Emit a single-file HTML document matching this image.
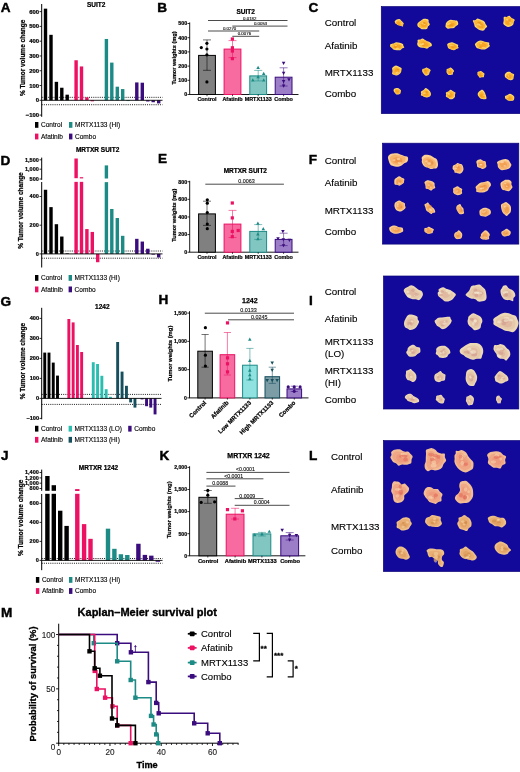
<!DOCTYPE html>
<html lang="en">
<head>
<meta charset="utf-8">
<title>Figure</title>
<style>
html,body{margin:0;padding:0;background:#fff}
body{width:520px;height:772px;overflow:hidden}
svg{display:block;filter:blur(0.3px)}
svg text{font-family:"Liberation Sans",Arial,Helvetica,sans-serif}
</style>
</head>
<body>
<svg width="520" height="772" viewBox="0 0 520 772">
<defs>
<filter id="soft" x="-5%" y="-5%" width="110%" height="110%"><feGaussianBlur stdDeviation="0.45"/></filter>
</defs>
<rect width="520" height="772" fill="#fff"/>
<text x="0.8" y="12.2" font-size="13.6" font-weight="700" stroke="#000" stroke-width="0.43">A</text>
<text x="96.2" y="7" font-size="6.5" text-anchor="middle" font-weight="700" stroke="#000" stroke-width="0.23">SUIT2</text>
<text x="24.8" y="57.9" font-size="6.5" text-anchor="middle" font-weight="700" stroke="#000" stroke-width="0.23" transform="rotate(-90 24.8 57.9)">% Tumor volume change</text>
<line x1="41.7" y1="4" x2="41.7" y2="116.8" stroke="#000" stroke-width="1"/>
<line x1="39.5" y1="11.62" x2="41.7" y2="11.62" stroke="#000" stroke-width="0.8"/>
<text x="39" y="13.67" font-size="5.9" text-anchor="end" font-weight="700" stroke="#000" stroke-width="0.22">600</text>
<line x1="39.5" y1="26.4" x2="41.7" y2="26.4" stroke="#000" stroke-width="0.8"/>
<text x="39" y="28.45" font-size="5.9" text-anchor="end" font-weight="700" stroke="#000" stroke-width="0.22">500</text>
<line x1="39.5" y1="41.18" x2="41.7" y2="41.18" stroke="#000" stroke-width="0.8"/>
<text x="39" y="43.23" font-size="5.9" text-anchor="end" font-weight="700" stroke="#000" stroke-width="0.22">400</text>
<line x1="39.5" y1="55.96" x2="41.7" y2="55.96" stroke="#000" stroke-width="0.8"/>
<text x="39" y="58.01" font-size="5.9" text-anchor="end" font-weight="700" stroke="#000" stroke-width="0.22">300</text>
<line x1="39.5" y1="70.74" x2="41.7" y2="70.74" stroke="#000" stroke-width="0.8"/>
<text x="39" y="72.79" font-size="5.9" text-anchor="end" font-weight="700" stroke="#000" stroke-width="0.22">200</text>
<line x1="39.5" y1="85.52" x2="41.7" y2="85.52" stroke="#000" stroke-width="0.8"/>
<text x="39" y="87.57" font-size="5.9" text-anchor="end" font-weight="700" stroke="#000" stroke-width="0.22">100</text>
<line x1="39.5" y1="100.3" x2="41.7" y2="100.3" stroke="#000" stroke-width="0.8"/>
<text x="39" y="102.35" font-size="5.9" text-anchor="end" font-weight="700" stroke="#000" stroke-width="0.22">0</text>
<line x1="39.5" y1="115.08" x2="41.7" y2="115.08" stroke="#000" stroke-width="0.8"/>
<text x="39" y="117.13" font-size="5.9" text-anchor="end" font-weight="700" stroke="#000" stroke-width="0.22">−100</text>
<line x1="41.7" y1="97.34" x2="162.5" y2="97.34" stroke="#000" stroke-width="0.9" stroke-dasharray="1 1.15"/>
<line x1="41.7" y1="104.73" x2="162.5" y2="104.73" stroke="#000" stroke-width="0.9" stroke-dasharray="1 1.15"/>
<rect x="43.8" y="8.66" width="3.4" height="91.64" fill="#000"/>
<rect x="49.3" y="34.82" width="3.4" height="65.48" fill="#000"/>
<rect x="54.7" y="81.83" width="3.4" height="18.47" fill="#000"/>
<rect x="60.1" y="87.74" width="3.4" height="12.56" fill="#000"/>
<rect x="65.5" y="94.68" width="3.4" height="5.62" fill="#000"/>
<rect x="74.4" y="60.25" width="3.4" height="40.05" fill="#ec1163"/>
<rect x="79.8" y="66.45" width="3.4" height="33.85" fill="#ec1163"/>
<rect x="85.2" y="97.34" width="3.4" height="2.96" fill="#ec1163"/>
<rect x="90.6" y="100.3" width="3.4" height="1.03" fill="#ec1163"/>
<rect x="104.7" y="38.96" width="3.4" height="61.34" fill="#1c8a85"/>
<rect x="110.1" y="62.61" width="3.4" height="37.69" fill="#1c8a85"/>
<rect x="115.6" y="86.7" width="3.4" height="13.6" fill="#1c8a85"/>
<rect x="121" y="89.07" width="3.4" height="11.23" fill="#1c8a85"/>
<rect x="126.4" y="100.3" width="3.4" height="0.74" fill="#1c8a85"/>
<rect x="135.1" y="82.42" width="3.4" height="17.88" fill="#3a0c7d"/>
<rect x="140.6" y="82.71" width="3.4" height="17.59" fill="#3a0c7d"/>
<rect x="146.1" y="100.3" width="3.4" height="1.18" fill="#3a0c7d"/>
<rect x="151.5" y="100.3" width="3.4" height="1.92" fill="#3a0c7d"/>
<rect x="157" y="100.3" width="3.4" height="3.1" fill="#3a0c7d"/>
<line x1="41.7" y1="100.3" x2="162.5" y2="100.3" stroke="#000" stroke-width="0.9"/>
<rect x="35" y="122" width="3.4" height="5.8" fill="#000"/>
<text x="41" y="127.1" font-size="6.55" stroke="#000" stroke-width="0.12">Control</text>
<rect x="69" y="122" width="3.4" height="5.8" fill="#1c8a85"/>
<text x="75" y="127.1" font-size="6.55" stroke="#000" stroke-width="0.12">MRTX1133 (HI)</text>
<rect x="35" y="133.6" width="3.4" height="5.8" fill="#ec1163"/>
<text x="41" y="138.7" font-size="6.55" stroke="#000" stroke-width="0.12">Afatinib</text>
<rect x="69" y="133.6" width="3.4" height="5.8" fill="#3a0c7d"/>
<text x="75" y="138.7" font-size="6.55" stroke="#000" stroke-width="0.12">Combo</text>
<text x="0.4" y="165.2" font-size="13.6" font-weight="700" stroke="#000" stroke-width="0.43">D</text>
<text x="97.6" y="152" font-size="6.5" text-anchor="middle" font-weight="700" stroke="#000" stroke-width="0.23">MRTXR SUIT2</text>
<text x="23.3" y="210.5" font-size="6.5" text-anchor="middle" font-weight="700" stroke="#000" stroke-width="0.23" transform="rotate(-90 23.3 210.5)">% Tumor volume change</text>
<line x1="41.7" y1="157.6" x2="41.7" y2="179.8" stroke="#000" stroke-width="1"/>
<line x1="41.7" y1="182" x2="41.7" y2="267.5" stroke="#000" stroke-width="1"/>
<line x1="39.5" y1="159.8" x2="41.7" y2="159.8" stroke="#000" stroke-width="0.8"/>
<text x="38.8" y="161.75" font-size="5.5" text-anchor="end" font-weight="700" stroke="#000" stroke-width="0.2">1,500</text>
<line x1="39.5" y1="169.2" x2="41.7" y2="169.2" stroke="#000" stroke-width="0.8"/>
<text x="38.8" y="171.15" font-size="5.5" text-anchor="end" font-weight="700" stroke="#000" stroke-width="0.2">1,000</text>
<line x1="39.5" y1="179" x2="41.7" y2="179" stroke="#000" stroke-width="0.8"/>
<text x="38.8" y="180.95" font-size="5.5" text-anchor="end" font-weight="700" stroke="#000" stroke-width="0.2">500</text>
<line x1="39.5" y1="196.5" x2="41.7" y2="196.5" stroke="#000" stroke-width="0.8"/>
<text x="38.8" y="198.45" font-size="5.5" text-anchor="end" font-weight="700" stroke="#000" stroke-width="0.2">400</text>
<line x1="39.5" y1="225.2" x2="41.7" y2="225.2" stroke="#000" stroke-width="0.8"/>
<text x="38.8" y="227.15" font-size="5.5" text-anchor="end" font-weight="700" stroke="#000" stroke-width="0.2">200</text>
<line x1="39.5" y1="253.9" x2="41.7" y2="253.9" stroke="#000" stroke-width="0.8"/>
<text x="38.8" y="255.85" font-size="5.5" text-anchor="end" font-weight="700" stroke="#000" stroke-width="0.2">0</text>
<line x1="41.7" y1="251.03" x2="162.5" y2="251.03" stroke="#000" stroke-width="0.9" stroke-dasharray="1 1.15"/>
<line x1="41.7" y1="258.2" x2="162.5" y2="258.2" stroke="#000" stroke-width="0.9" stroke-dasharray="1 1.15"/>
<rect x="43.8" y="189.76" width="3.4" height="64.14" fill="#000"/>
<rect x="49.3" y="207.12" width="3.4" height="46.78" fill="#000"/>
<rect x="54.7" y="224.2" width="3.4" height="29.7" fill="#000"/>
<rect x="60.1" y="236.54" width="3.4" height="17.36" fill="#000"/>
<rect x="65.5" y="253.33" width="3.4" height="0.57" fill="#000"/>
<rect x="74.4" y="181.86" width="3.4" height="72.04" fill="#ec1163"/>
<rect x="79.8" y="181.86" width="3.4" height="72.04" fill="#ec1163"/>
<rect x="85.2" y="229.07" width="3.4" height="24.83" fill="#ec1163"/>
<rect x="90.6" y="231.94" width="3.4" height="21.96" fill="#ec1163"/>
<rect x="96" y="253.9" width="3.4" height="8.32" fill="#ec1163"/>
<rect x="104.7" y="182.15" width="3.4" height="71.75" fill="#1c8a85"/>
<rect x="110.1" y="208.98" width="3.4" height="44.92" fill="#1c8a85"/>
<rect x="115.6" y="218.03" width="3.4" height="35.88" fill="#1c8a85"/>
<rect x="121" y="235.82" width="3.4" height="18.08" fill="#1c8a85"/>
<rect x="126.4" y="253.33" width="3.4" height="0.57" fill="#1c8a85"/>
<rect x="135.1" y="238.83" width="3.4" height="15.07" fill="#3a0c7d"/>
<rect x="140.6" y="241.56" width="3.4" height="12.34" fill="#3a0c7d"/>
<rect x="146.1" y="248.73" width="3.4" height="5.17" fill="#3a0c7d"/>
<rect x="151.5" y="253.9" width="3.4" height="0.72" fill="#3a0c7d"/>
<rect x="157" y="253.9" width="3.4" height="3.59" fill="#3a0c7d"/>
<rect x="74.4" y="158.5" width="3.4" height="19.7" fill="#ec1163"/>
<rect x="79.8" y="177.2" width="3.4" height="1.2" fill="#ec1163"/>
<rect x="104.7" y="165.4" width="3.4" height="13.1" fill="#1c8a85"/>
<line x1="41.7" y1="253.9" x2="162.5" y2="253.9" stroke="#000" stroke-width="0.9"/>
<rect x="35" y="275" width="3.4" height="5.8" fill="#000"/>
<text x="41" y="280.1" font-size="6.55" stroke="#000" stroke-width="0.12">Control</text>
<rect x="68.6" y="275" width="3.4" height="5.8" fill="#1c8a85"/>
<text x="74.6" y="280.1" font-size="6.55" stroke="#000" stroke-width="0.12">MRTX1133 (HI)</text>
<rect x="35" y="286.5" width="3.4" height="5.8" fill="#ec1163"/>
<text x="41" y="291.6" font-size="6.55" stroke="#000" stroke-width="0.12">Afatinib</text>
<rect x="68.6" y="286.5" width="3.4" height="5.8" fill="#3a0c7d"/>
<text x="74.6" y="291.6" font-size="6.55" stroke="#000" stroke-width="0.12">Combo</text>
<text x="0.6" y="305.7" font-size="13.6" font-weight="700" stroke="#000" stroke-width="0.43">G</text>
<text x="102.3" y="308.8" font-size="6.5" text-anchor="middle" font-weight="700" stroke="#000" stroke-width="0.23">1242</text>
<text x="25" y="361.1" font-size="6.5" text-anchor="middle" font-weight="700" stroke="#000" stroke-width="0.23" transform="rotate(-90 25 361.1)">% Tumor volume change</text>
<line x1="41.7" y1="307.8" x2="41.7" y2="419.3" stroke="#000" stroke-width="1"/>
<line x1="39.5" y1="318.4" x2="41.7" y2="318.4" stroke="#000" stroke-width="0.8"/>
<text x="39" y="320.4" font-size="5.6" text-anchor="end" font-weight="700" stroke="#000" stroke-width="0.21">400</text>
<line x1="39.5" y1="338.4" x2="41.7" y2="338.4" stroke="#000" stroke-width="0.8"/>
<text x="39" y="340.4" font-size="5.6" text-anchor="end" font-weight="700" stroke="#000" stroke-width="0.21">300</text>
<line x1="39.5" y1="358.4" x2="41.7" y2="358.4" stroke="#000" stroke-width="0.8"/>
<text x="39" y="360.4" font-size="5.6" text-anchor="end" font-weight="700" stroke="#000" stroke-width="0.21">200</text>
<line x1="39.5" y1="378.4" x2="41.7" y2="378.4" stroke="#000" stroke-width="0.8"/>
<text x="39" y="380.4" font-size="5.6" text-anchor="end" font-weight="700" stroke="#000" stroke-width="0.21">100</text>
<line x1="39.5" y1="398.4" x2="41.7" y2="398.4" stroke="#000" stroke-width="0.8"/>
<text x="39" y="400.4" font-size="5.6" text-anchor="end" font-weight="700" stroke="#000" stroke-width="0.21">0</text>
<line x1="39.5" y1="418.4" x2="41.7" y2="418.4" stroke="#000" stroke-width="0.8"/>
<text x="39" y="420.4" font-size="5.6" text-anchor="end" font-weight="700" stroke="#000" stroke-width="0.21">−100</text>
<line x1="41.7" y1="394.4" x2="161.5" y2="394.4" stroke="#000" stroke-width="0.9" stroke-dasharray="1 1.15"/>
<line x1="41.7" y1="404.4" x2="161.5" y2="404.4" stroke="#000" stroke-width="0.9" stroke-dasharray="1 1.15"/>
<rect x="43.3" y="352.6" width="2.9" height="45.8" fill="#000"/>
<rect x="47.55" y="352.6" width="2.9" height="45.8" fill="#000"/>
<rect x="51.8" y="362.6" width="2.9" height="35.8" fill="#000"/>
<rect x="56.05" y="375.6" width="2.9" height="22.8" fill="#000"/>
<rect x="67.4" y="319" width="2.9" height="79.4" fill="#ec1163"/>
<rect x="71.7" y="322.4" width="2.9" height="76" fill="#ec1163"/>
<rect x="75.95" y="345" width="2.9" height="53.4" fill="#ec1163"/>
<rect x="80.2" y="352" width="2.9" height="46.4" fill="#ec1163"/>
<rect x="91.8" y="362.2" width="2.9" height="36.2" fill="#2cbdb1"/>
<rect x="96.1" y="364" width="2.9" height="34.4" fill="#2cbdb1"/>
<rect x="100.4" y="375.8" width="2.9" height="22.6" fill="#2cbdb1"/>
<rect x="104.7" y="389.2" width="2.9" height="9.2" fill="#2cbdb1"/>
<rect x="109" y="396.8" width="2.9" height="1.6" fill="#2cbdb1"/>
<rect x="116.2" y="342" width="2.9" height="56.4" fill="#164f5e"/>
<rect x="120.6" y="371.6" width="2.9" height="26.8" fill="#164f5e"/>
<rect x="125" y="385.8" width="2.9" height="12.6" fill="#164f5e"/>
<rect x="129.2" y="398.4" width="2.9" height="4" fill="#164f5e"/>
<rect x="133.5" y="398.4" width="2.9" height="9.2" fill="#164f5e"/>
<rect x="140.6" y="398.4" width="2.9" height="1" fill="#3a0c7d"/>
<rect x="145.1" y="398.4" width="2.9" height="7.8" fill="#3a0c7d"/>
<rect x="149.3" y="398.4" width="2.9" height="9.2" fill="#3a0c7d"/>
<rect x="153.6" y="398.4" width="2.9" height="16" fill="#3a0c7d"/>
<line x1="41.7" y1="398.4" x2="161.5" y2="398.4" stroke="#000" stroke-width="0.9"/>
<rect x="35" y="425.8" width="3.4" height="5.8" fill="#000"/>
<text x="41" y="430.9" font-size="6.55" stroke="#000" stroke-width="0.12">Control</text>
<rect x="68.6" y="425.8" width="3.4" height="5.8" fill="#2cbdb1"/>
<text x="74.6" y="430.9" font-size="6.55" stroke="#000" stroke-width="0.12">MRTX1133 (LO)</text>
<rect x="128.2" y="425.8" width="3.4" height="5.8" fill="#3a0c7d"/>
<text x="134.2" y="430.9" font-size="6.55" stroke="#000" stroke-width="0.12">Combo</text>
<rect x="35" y="436.9" width="3.4" height="5.8" fill="#ec1163"/>
<text x="41" y="442" font-size="6.55" stroke="#000" stroke-width="0.12">Afatinib</text>
<rect x="68.6" y="436.9" width="3.4" height="5.8" fill="#164f5e"/>
<text x="74.6" y="442" font-size="6.55" stroke="#000" stroke-width="0.12">MRTX1133 (HI)</text>
<text x="1" y="460.2" font-size="13.6" font-weight="700" stroke="#000" stroke-width="0.43">J</text>
<text x="98.5" y="469.7" font-size="6.5" text-anchor="middle" font-weight="700" stroke="#000" stroke-width="0.23">MRTXR 1242</text>
<text x="23" y="517.8" font-size="6.5" text-anchor="middle" font-weight="700" stroke="#000" stroke-width="0.23" transform="rotate(-90 23 517.8)">% Tumor volume change</text>
<line x1="41.7" y1="469.6" x2="41.7" y2="490.8" stroke="#000" stroke-width="1"/>
<line x1="41.7" y1="494" x2="41.7" y2="570.2" stroke="#000" stroke-width="1"/>
<line x1="39.5" y1="472.5" x2="41.7" y2="472.5" stroke="#000" stroke-width="0.8"/>
<text x="38.8" y="474.45" font-size="5.5" text-anchor="end" font-weight="700" stroke="#000" stroke-width="0.2">1,400</text>
<line x1="39.5" y1="477.9" x2="41.7" y2="477.9" stroke="#000" stroke-width="0.8"/>
<text x="38.8" y="479.85" font-size="5.5" text-anchor="end" font-weight="700" stroke="#000" stroke-width="0.2">1,200</text>
<line x1="39.5" y1="483.2" x2="41.7" y2="483.2" stroke="#000" stroke-width="0.8"/>
<text x="38.8" y="485.15" font-size="5.5" text-anchor="end" font-weight="700" stroke="#000" stroke-width="0.2">1,000</text>
<line x1="39.5" y1="488.5" x2="41.7" y2="488.5" stroke="#000" stroke-width="0.8"/>
<text x="38.8" y="490.45" font-size="5.5" text-anchor="end" font-weight="700" stroke="#000" stroke-width="0.2">800</text>
<line x1="39.5" y1="503.4" x2="41.7" y2="503.4" stroke="#000" stroke-width="0.8"/>
<text x="38.8" y="505.35" font-size="5.5" text-anchor="end" font-weight="700" stroke="#000" stroke-width="0.2">600</text>
<line x1="39.5" y1="522.4" x2="41.7" y2="522.4" stroke="#000" stroke-width="0.8"/>
<text x="38.8" y="524.35" font-size="5.5" text-anchor="end" font-weight="700" stroke="#000" stroke-width="0.2">400</text>
<line x1="39.5" y1="541.4" x2="41.7" y2="541.4" stroke="#000" stroke-width="0.8"/>
<text x="38.8" y="543.35" font-size="5.5" text-anchor="end" font-weight="700" stroke="#000" stroke-width="0.2">200</text>
<line x1="39.5" y1="560.4" x2="41.7" y2="560.4" stroke="#000" stroke-width="0.8"/>
<text x="38.8" y="562.35" font-size="5.5" text-anchor="end" font-weight="700" stroke="#000" stroke-width="0.2">0</text>
<line x1="41.7" y1="558.5" x2="162.5" y2="558.5" stroke="#000" stroke-width="0.9" stroke-dasharray="1 1.15"/>
<line x1="41.7" y1="563.25" x2="162.5" y2="563.25" stroke="#000" stroke-width="0.9" stroke-dasharray="1 1.15"/>
<rect x="45.2" y="493.8" width="4.4" height="66.6" fill="#000"/>
<rect x="51.6" y="493.8" width="4.4" height="66.6" fill="#000"/>
<rect x="58" y="510.71" width="4.4" height="49.69" fill="#000"/>
<rect x="64.4" y="525.91" width="4.4" height="34.49" fill="#000"/>
<rect x="75.1" y="493.8" width="4.4" height="66.6" fill="#ec1163"/>
<rect x="81.9" y="524.11" width="4.4" height="36.29" fill="#ec1163"/>
<rect x="88.3" y="538.83" width="4.4" height="21.57" fill="#ec1163"/>
<rect x="105.8" y="528.67" width="4.4" height="31.73" fill="#1c8a85"/>
<rect x="112.2" y="548.81" width="4.4" height="11.59" fill="#1c8a85"/>
<rect x="118.7" y="554.23" width="4.4" height="6.17" fill="#1c8a85"/>
<rect x="125.1" y="554.99" width="4.4" height="5.41" fill="#1c8a85"/>
<rect x="136.2" y="543.77" width="4.4" height="16.62" fill="#3a0c7d"/>
<rect x="142.7" y="554.89" width="4.4" height="5.51" fill="#3a0c7d"/>
<rect x="149.1" y="555.65" width="4.4" height="4.75" fill="#3a0c7d"/>
<rect x="155.6" y="560.4" width="4.4" height="1.33" fill="#3a0c7d"/>
<rect x="45.2" y="476" width="4.4" height="14.8" fill="#000"/>
<rect x="51.6" y="485.2" width="4.4" height="5.6" fill="#000"/>
<rect x="75.1" y="489.1" width="4.4" height="1.9" fill="#ec1163"/>
<line x1="41.7" y1="560.4" x2="162.5" y2="560.4" stroke="#000" stroke-width="0.9"/>
<rect x="35.9" y="577" width="3.4" height="5.8" fill="#000"/>
<text x="41.9" y="582.1" font-size="6.55" stroke="#000" stroke-width="0.12">Control</text>
<rect x="69" y="577" width="3.4" height="5.8" fill="#1c8a85"/>
<text x="75" y="582.1" font-size="6.55" stroke="#000" stroke-width="0.12">MRTX1133 (HI)</text>
<rect x="35.9" y="588.1" width="3.4" height="5.8" fill="#ec1163"/>
<text x="41.9" y="593.2" font-size="6.55" stroke="#000" stroke-width="0.12">Afatinib</text>
<rect x="69" y="588.1" width="3.4" height="5.8" fill="#3a0c7d"/>
<text x="75" y="593.2" font-size="6.55" stroke="#000" stroke-width="0.12">Combo</text>
<text x="157.3" y="12.3" font-size="13.6" font-weight="700" stroke="#000" stroke-width="0.43">B</text>
<text x="245.7" y="14.4" font-size="6.5" text-anchor="middle" font-weight="700" stroke="#000" stroke-width="0.23">SUIT2</text>
<text x="175.6" y="58" font-size="5.6" text-anchor="middle" font-weight="700" stroke="#000" stroke-width="0.21" transform="rotate(-90 175.6 58)">Tumor weights (mg)</text>
<line x1="189.7" y1="22.4" x2="189.7" y2="94.5" stroke="#000" stroke-width="0.9"/>
<line x1="189.3" y1="94.5" x2="298.5" y2="94.5" stroke="#000" stroke-width="0.9"/>
<line x1="187.5" y1="23.5" x2="189.7" y2="23.5" stroke="#000" stroke-width="0.8"/>
<text x="187.1" y="25.4" font-size="5.3" text-anchor="end" font-weight="700" stroke="#000" stroke-width="0.2">500</text>
<line x1="187.5" y1="37.7" x2="189.7" y2="37.7" stroke="#000" stroke-width="0.8"/>
<text x="187.1" y="39.6" font-size="5.3" text-anchor="end" font-weight="700" stroke="#000" stroke-width="0.2">400</text>
<line x1="187.5" y1="51.9" x2="189.7" y2="51.9" stroke="#000" stroke-width="0.8"/>
<text x="187.1" y="53.8" font-size="5.3" text-anchor="end" font-weight="700" stroke="#000" stroke-width="0.2">300</text>
<line x1="187.5" y1="66.1" x2="189.7" y2="66.1" stroke="#000" stroke-width="0.8"/>
<text x="187.1" y="68" font-size="5.3" text-anchor="end" font-weight="700" stroke="#000" stroke-width="0.2">200</text>
<line x1="187.5" y1="80.3" x2="189.7" y2="80.3" stroke="#000" stroke-width="0.8"/>
<text x="187.1" y="82.2" font-size="5.3" text-anchor="end" font-weight="700" stroke="#000" stroke-width="0.2">100</text>
<line x1="187.5" y1="94.5" x2="189.7" y2="94.5" stroke="#000" stroke-width="0.8"/>
<text x="187.1" y="96.4" font-size="5.3" text-anchor="end" font-weight="700" stroke="#000" stroke-width="0.2">0</text>
<rect x="198.6" y="55.4" width="16.8" height="39.1" fill="#808080" stroke="#000" stroke-width="1"/>
<line x1="207" y1="39.9" x2="207" y2="70.3" stroke="#000" stroke-width="0.55"/>
<line x1="203" y1="39.9" x2="211" y2="39.9" stroke="#000" stroke-width="0.55"/>
<line x1="203" y1="70.3" x2="211" y2="70.3" stroke="#000" stroke-width="0.55"/>
<line x1="207" y1="94.5" x2="207" y2="96.2" stroke="#000" stroke-width="0.7"/>
<rect x="224.1" y="49.1" width="16.8" height="45.4" fill="#f76ba1" stroke="#ec1163" stroke-width="1"/>
<line x1="232.5" y1="40.6" x2="232.5" y2="57.6" stroke="#ec1163" stroke-width="0.55"/>
<line x1="228.5" y1="40.6" x2="236.5" y2="40.6" stroke="#ec1163" stroke-width="0.55"/>
<line x1="228.5" y1="57.6" x2="236.5" y2="57.6" stroke="#ec1163" stroke-width="0.55"/>
<line x1="232.5" y1="94.5" x2="232.5" y2="96.2" stroke="#000" stroke-width="0.7"/>
<rect x="249.8" y="75.9" width="16.8" height="18.6" fill="#82c6c1" stroke="#1c8a85" stroke-width="1"/>
<line x1="258.2" y1="70.4" x2="258.2" y2="80.9" stroke="#1c8a85" stroke-width="0.55"/>
<line x1="254.2" y1="70.4" x2="262.2" y2="70.4" stroke="#1c8a85" stroke-width="0.55"/>
<line x1="254.2" y1="80.9" x2="262.2" y2="80.9" stroke="#1c8a85" stroke-width="0.55"/>
<line x1="258.2" y1="94.5" x2="258.2" y2="96.2" stroke="#000" stroke-width="0.7"/>
<rect x="275.2" y="77.2" width="16.8" height="17.3" fill="#9b7dc8" stroke="#3a0c7d" stroke-width="1"/>
<line x1="283.6" y1="67.8" x2="283.6" y2="86" stroke="#3a0c7d" stroke-width="0.55"/>
<line x1="279.6" y1="67.8" x2="287.6" y2="67.8" stroke="#3a0c7d" stroke-width="0.55"/>
<line x1="279.6" y1="86" x2="287.6" y2="86" stroke="#3a0c7d" stroke-width="0.55"/>
<line x1="283.6" y1="94.5" x2="283.6" y2="96.2" stroke="#000" stroke-width="0.7"/>
<circle cx="201.3" cy="47.6" r="1.6" fill="#000"/>
<circle cx="206.9" cy="43.3" r="1.6" fill="#000"/>
<circle cx="206.9" cy="49" r="1.6" fill="#000"/>
<circle cx="206.9" cy="54.8" r="1.6" fill="#000"/>
<circle cx="206.9" cy="81.9" r="1.6" fill="#000"/>
<rect x="230.8" y="37.4" width="3.2" height="3.2" fill="#ec1163"/>
<rect x="230.8" y="46.2" width="3.2" height="3.2" fill="#ec1163"/>
<rect x="230.8" y="49.4" width="3.2" height="3.2" fill="#ec1163"/>
<rect x="230.8" y="57" width="3.2" height="3.2" fill="#ec1163"/>
<path d="M256.34 68.94L259.86 68.94L258.1 65.74Z" fill="#1c8a85"/>
<path d="M261.94 75.04L265.46 75.04L263.7 71.84Z" fill="#1c8a85"/>
<path d="M251.04 81.44L254.56 81.44L252.8 78.24Z" fill="#1c8a85"/>
<path d="M256.34 78.34L259.86 78.34L258.1 75.14Z" fill="#1c8a85"/>
<path d="M261.94 81.44L265.46 81.44L263.7 78.24Z" fill="#1c8a85"/>
<path d="M281.84 61.76L285.36 61.76L283.6 64.96Z" fill="#3a0c7d"/>
<path d="M281.84 71.86L285.36 71.86L283.6 75.06Z" fill="#3a0c7d"/>
<path d="M287.24 78.36L290.76 78.36L289 81.56Z" fill="#3a0c7d"/>
<path d="M281.84 80.06L285.36 80.06L283.6 83.26Z" fill="#3a0c7d"/>
<path d="M281.84 84.56L285.36 84.56L283.6 87.76Z" fill="#3a0c7d"/>
<line x1="208" y1="20.5" x2="287.5" y2="20.5" stroke="#2a2a2a" stroke-width="0.85"/>
<text x="249.8" y="19.5" font-size="4.4" text-anchor="middle" stroke="#111" stroke-width="0.12" fill="#111">0.0182</text>
<line x1="232.3" y1="26.1" x2="287.5" y2="26.1" stroke="#2a2a2a" stroke-width="0.85"/>
<text x="260.6" y="25.1" font-size="4.4" text-anchor="middle" stroke="#111" stroke-width="0.12" fill="#111">0.0053</text>
<line x1="208" y1="31" x2="259.2" y2="31" stroke="#2a2a2a" stroke-width="0.85"/>
<text x="229.6" y="30" font-size="4.4" text-anchor="middle" stroke="#111" stroke-width="0.12" fill="#111">0.0270</text>
<line x1="232.3" y1="36.3" x2="259.2" y2="36.3" stroke="#2a2a2a" stroke-width="0.85"/>
<text x="244.4" y="35.3" font-size="4.4" text-anchor="middle" stroke="#111" stroke-width="0.12" fill="#111">0.0076</text>
<text x="207" y="101.2" font-size="5.4" text-anchor="middle" font-weight="700" stroke="#000" stroke-width="0.2">Control</text>
<text x="232.5" y="101.2" font-size="5.4" text-anchor="middle" font-weight="700" stroke="#000" stroke-width="0.2">Afatinib</text>
<text x="258.2" y="101.2" font-size="5.4" text-anchor="middle" font-weight="700" stroke="#000" stroke-width="0.2">MRTX1133</text>
<text x="283.6" y="101.2" font-size="5.4" text-anchor="middle" font-weight="700" stroke="#000" stroke-width="0.2">Combo</text>
<text x="158" y="163.2" font-size="13.6" font-weight="700" stroke="#000" stroke-width="0.43">E</text>
<text x="245.3" y="173.1" font-size="6.5" text-anchor="middle" font-weight="700" stroke="#000" stroke-width="0.23">MRTXR SUIT2</text>
<text x="175.6" y="215.2" font-size="5.6" text-anchor="middle" font-weight="700" stroke="#000" stroke-width="0.21" transform="rotate(-90 175.6 215.2)">Tumor weights (mg)</text>
<line x1="189.7" y1="180.8" x2="189.7" y2="252.2" stroke="#000" stroke-width="0.9"/>
<line x1="189.3" y1="252.2" x2="298.5" y2="252.2" stroke="#000" stroke-width="0.9"/>
<line x1="187.5" y1="181.72" x2="189.7" y2="181.72" stroke="#000" stroke-width="0.8"/>
<text x="187.1" y="183.62" font-size="5.3" text-anchor="end" font-weight="700" stroke="#000" stroke-width="0.2">800</text>
<line x1="187.5" y1="199.34" x2="189.7" y2="199.34" stroke="#000" stroke-width="0.8"/>
<text x="187.1" y="201.24" font-size="5.3" text-anchor="end" font-weight="700" stroke="#000" stroke-width="0.2">600</text>
<line x1="187.5" y1="216.96" x2="189.7" y2="216.96" stroke="#000" stroke-width="0.8"/>
<text x="187.1" y="218.86" font-size="5.3" text-anchor="end" font-weight="700" stroke="#000" stroke-width="0.2">400</text>
<line x1="187.5" y1="234.58" x2="189.7" y2="234.58" stroke="#000" stroke-width="0.8"/>
<text x="187.1" y="236.48" font-size="5.3" text-anchor="end" font-weight="700" stroke="#000" stroke-width="0.2">200</text>
<line x1="187.5" y1="252.2" x2="189.7" y2="252.2" stroke="#000" stroke-width="0.8"/>
<text x="187.1" y="254.1" font-size="5.3" text-anchor="end" font-weight="700" stroke="#000" stroke-width="0.2">0</text>
<rect x="198.6" y="213.9" width="16.8" height="38.3" fill="#808080" stroke="#000" stroke-width="1"/>
<line x1="207" y1="201.2" x2="207" y2="225.4" stroke="#000" stroke-width="0.55"/>
<line x1="203" y1="201.2" x2="211" y2="201.2" stroke="#000" stroke-width="0.55"/>
<line x1="203" y1="225.4" x2="211" y2="225.4" stroke="#000" stroke-width="0.55"/>
<line x1="207" y1="252.2" x2="207" y2="253.9" stroke="#000" stroke-width="0.7"/>
<rect x="224.1" y="224.1" width="16.8" height="28.1" fill="#f76ba1" stroke="#ec1163" stroke-width="1"/>
<line x1="232.5" y1="210.4" x2="232.5" y2="237.5" stroke="#ec1163" stroke-width="0.55"/>
<line x1="228.5" y1="210.4" x2="236.5" y2="210.4" stroke="#ec1163" stroke-width="0.55"/>
<line x1="228.5" y1="237.5" x2="236.5" y2="237.5" stroke="#ec1163" stroke-width="0.55"/>
<line x1="232.5" y1="252.2" x2="232.5" y2="253.9" stroke="#000" stroke-width="0.7"/>
<rect x="249.8" y="231.4" width="16.8" height="20.8" fill="#82c6c1" stroke="#1c8a85" stroke-width="1"/>
<line x1="258.2" y1="224.6" x2="258.2" y2="239.4" stroke="#1c8a85" stroke-width="0.55"/>
<line x1="254.2" y1="224.6" x2="262.2" y2="224.6" stroke="#1c8a85" stroke-width="0.55"/>
<line x1="254.2" y1="239.4" x2="262.2" y2="239.4" stroke="#1c8a85" stroke-width="0.55"/>
<line x1="258.2" y1="252.2" x2="258.2" y2="253.9" stroke="#000" stroke-width="0.7"/>
<rect x="275.2" y="239.4" width="16.8" height="12.8" fill="#9b7dc8" stroke="#3a0c7d" stroke-width="1"/>
<line x1="283.6" y1="233.2" x2="283.6" y2="245.6" stroke="#3a0c7d" stroke-width="0.55"/>
<line x1="279.6" y1="233.2" x2="287.6" y2="233.2" stroke="#3a0c7d" stroke-width="0.55"/>
<line x1="279.6" y1="245.6" x2="287.6" y2="245.6" stroke="#3a0c7d" stroke-width="0.55"/>
<line x1="283.6" y1="252.2" x2="283.6" y2="253.9" stroke="#000" stroke-width="0.7"/>
<circle cx="207.3" cy="199.8" r="1.6" fill="#000"/>
<circle cx="207.3" cy="203.2" r="1.6" fill="#000"/>
<circle cx="207.3" cy="212.5" r="1.6" fill="#000"/>
<circle cx="207.3" cy="224" r="1.6" fill="#000"/>
<circle cx="207.3" cy="228.7" r="1.6" fill="#000"/>
<rect x="230.7" y="201.4" width="3.2" height="3.2" fill="#ec1163"/>
<rect x="230.7" y="216.3" width="3.2" height="3.2" fill="#ec1163"/>
<rect x="230.7" y="229.8" width="3.2" height="3.2" fill="#ec1163"/>
<rect x="236.6" y="228.9" width="3.2" height="3.2" fill="#ec1163"/>
<rect x="230.7" y="235.1" width="3.2" height="3.2" fill="#ec1163"/>
<path d="M256.14 224.74L259.66 224.74L257.9 221.54Z" fill="#1c8a85"/>
<path d="M261.54 230.14L265.06 230.14L263.3 226.94Z" fill="#1c8a85"/>
<path d="M256.14 235.44L259.66 235.44L257.9 232.24Z" fill="#1c8a85"/>
<path d="M256.14 240.34L259.66 240.34L257.9 237.14Z" fill="#1c8a85"/>
<path d="M281.14 229.96L284.66 229.96L282.9 233.16Z" fill="#3a0c7d"/>
<path d="M276.24 237.16L279.76 237.16L278 240.36Z" fill="#3a0c7d"/>
<path d="M281.54 238.16L285.06 238.16L283.3 241.36Z" fill="#3a0c7d"/>
<path d="M287.64 238.76L291.16 238.76L289.4 241.96Z" fill="#3a0c7d"/>
<path d="M281.74 244.16L285.26 244.16L283.5 247.36Z" fill="#3a0c7d"/>
<line x1="205.3" y1="184.2" x2="283.9" y2="184.2" stroke="#2a2a2a" stroke-width="0.85"/>
<text x="246.4" y="183.2" font-size="5.4" text-anchor="middle" stroke="#111" stroke-width="0.12" fill="#111">0.0063</text>
<text x="207" y="258.9" font-size="5.4" text-anchor="middle" font-weight="700" stroke="#000" stroke-width="0.2">Control</text>
<text x="232.5" y="258.9" font-size="5.4" text-anchor="middle" font-weight="700" stroke="#000" stroke-width="0.2">Afatinib</text>
<text x="258.2" y="258.9" font-size="5.4" text-anchor="middle" font-weight="700" stroke="#000" stroke-width="0.2">MRTX1133</text>
<text x="283.6" y="258.9" font-size="5.4" text-anchor="middle" font-weight="700" stroke="#000" stroke-width="0.2">Combo</text>
<text x="158.4" y="303.6" font-size="13.6" font-weight="700" stroke="#000" stroke-width="0.43">H</text>
<text x="249.8" y="303.1" font-size="7" text-anchor="middle" font-weight="700" stroke="#000" stroke-width="0.25">1242</text>
<text x="171.6" y="353.5" font-size="5.9" text-anchor="middle" font-weight="700" stroke="#000" stroke-width="0.22" transform="rotate(-90 171.6 353.5)">Tumor weights (mg)</text>
<line x1="189.5" y1="311.2" x2="189.5" y2="397.9" stroke="#000" stroke-width="0.9"/>
<line x1="189.1" y1="397.9" x2="308.5" y2="397.9" stroke="#000" stroke-width="0.9"/>
<line x1="187.3" y1="313.1" x2="189.5" y2="313.1" stroke="#000" stroke-width="0.8"/>
<text x="186.9" y="314.95" font-size="5.15" text-anchor="end" font-weight="700" stroke="#000" stroke-width="0.19">1,500</text>
<line x1="187.3" y1="341.37" x2="189.5" y2="341.37" stroke="#000" stroke-width="0.8"/>
<text x="186.9" y="343.22" font-size="5.15" text-anchor="end" font-weight="700" stroke="#000" stroke-width="0.19">1,000</text>
<line x1="187.3" y1="369.63" x2="189.5" y2="369.63" stroke="#000" stroke-width="0.8"/>
<text x="186.9" y="371.49" font-size="5.15" text-anchor="end" font-weight="700" stroke="#000" stroke-width="0.19">500</text>
<line x1="187.3" y1="397.9" x2="189.5" y2="397.9" stroke="#000" stroke-width="0.8"/>
<text x="186.9" y="399.75" font-size="5.15" text-anchor="end" font-weight="700" stroke="#000" stroke-width="0.19">0</text>
<rect x="197.8" y="351.2" width="14.6" height="46.7" fill="#808080" stroke="#000" stroke-width="1"/>
<line x1="205.1" y1="334.5" x2="205.1" y2="367.2" stroke="#000" stroke-width="0.55"/>
<line x1="201.5" y1="334.5" x2="208.7" y2="334.5" stroke="#000" stroke-width="0.55"/>
<line x1="201.5" y1="367.2" x2="208.7" y2="367.2" stroke="#000" stroke-width="0.55"/>
<line x1="205.1" y1="397.9" x2="205.1" y2="399.6" stroke="#000" stroke-width="0.7"/>
<rect x="220.1" y="354.7" width="14.6" height="43.2" fill="#f76ba1" stroke="#ec1163" stroke-width="1"/>
<line x1="227.4" y1="332.5" x2="227.4" y2="375" stroke="#ec1163" stroke-width="0.55"/>
<line x1="223.8" y1="332.5" x2="231" y2="332.5" stroke="#ec1163" stroke-width="0.55"/>
<line x1="223.8" y1="375" x2="231" y2="375" stroke="#ec1163" stroke-width="0.55"/>
<line x1="227.4" y1="397.9" x2="227.4" y2="399.6" stroke="#000" stroke-width="0.7"/>
<rect x="242.6" y="365.2" width="14.6" height="32.7" fill="#8fe2e0" stroke="#1c8a85" stroke-width="1"/>
<line x1="249.9" y1="348.4" x2="249.9" y2="380" stroke="#1c8a85" stroke-width="0.55"/>
<line x1="246.3" y1="348.4" x2="253.5" y2="348.4" stroke="#1c8a85" stroke-width="0.55"/>
<line x1="246.3" y1="380" x2="253.5" y2="380" stroke="#1c8a85" stroke-width="0.55"/>
<line x1="249.9" y1="397.9" x2="249.9" y2="399.6" stroke="#000" stroke-width="0.7"/>
<rect x="265" y="376.7" width="14.6" height="21.2" fill="#7c9da5" stroke="#164f5e" stroke-width="1"/>
<line x1="272.3" y1="367.2" x2="272.3" y2="383.4" stroke="#164f5e" stroke-width="0.55"/>
<line x1="268.7" y1="367.2" x2="275.9" y2="367.2" stroke="#164f5e" stroke-width="0.55"/>
<line x1="268.7" y1="383.4" x2="275.9" y2="383.4" stroke="#164f5e" stroke-width="0.55"/>
<line x1="272.3" y1="397.9" x2="272.3" y2="399.6" stroke="#000" stroke-width="0.7"/>
<rect x="287" y="388.9" width="14.6" height="9" fill="#9b7dc8" stroke="#3a0c7d" stroke-width="1"/>
<line x1="294.3" y1="386.2" x2="294.3" y2="391.5" stroke="#3a0c7d" stroke-width="0.55"/>
<line x1="290.7" y1="386.2" x2="297.9" y2="386.2" stroke="#3a0c7d" stroke-width="0.55"/>
<line x1="290.7" y1="391.5" x2="297.9" y2="391.5" stroke="#3a0c7d" stroke-width="0.55"/>
<line x1="294.3" y1="397.9" x2="294.3" y2="399.6" stroke="#000" stroke-width="0.7"/>
<circle cx="205.4" cy="327.7" r="1.6" fill="#000"/>
<circle cx="205.4" cy="355.2" r="1.6" fill="#000"/>
<circle cx="205.4" cy="366" r="1.6" fill="#000"/>
<rect x="225.9" y="321.3" width="3.2" height="3.2" fill="#ec1163"/>
<rect x="225.9" y="356.3" width="3.2" height="3.2" fill="#ec1163"/>
<rect x="225.9" y="362.2" width="3.2" height="3.2" fill="#ec1163"/>
<rect x="225.9" y="370.3" width="3.2" height="3.2" fill="#ec1163"/>
<path d="M248.04 340.74L251.56 340.74L249.8 337.54Z" fill="#1c8a85"/>
<path d="M248.04 361.94L251.56 361.94L249.8 358.74Z" fill="#1c8a85"/>
<path d="M248.04 371.74L251.56 371.74L249.8 368.54Z" fill="#1c8a85"/>
<path d="M248.04 376.34L251.56 376.34L249.8 373.14Z" fill="#1c8a85"/>
<path d="M248.04 380.34L251.56 380.34L249.8 377.14Z" fill="#1c8a85"/>
<path d="M270.44 361.56L273.96 361.56L272.2 364.76Z" fill="#164f5e"/>
<path d="M270.44 368.86L273.96 368.86L272.2 372.06Z" fill="#164f5e"/>
<path d="M265.44 378.96L268.96 378.96L267.2 382.16Z" fill="#164f5e"/>
<path d="M270.44 378.96L273.96 378.96L272.2 382.16Z" fill="#164f5e"/>
<path d="M275.34 378.96L278.86 378.96L277.1 382.16Z" fill="#164f5e"/>
<circle cx="288.2" cy="386.9" r="1.6" fill="#3a0c7d"/>
<circle cx="294.2" cy="386.9" r="1.6" fill="#3a0c7d"/>
<circle cx="300.1" cy="386.9" r="1.6" fill="#3a0c7d"/>
<circle cx="294.2" cy="391.3" r="1.6" fill="#3a0c7d"/>
<line x1="204.8" y1="313.2" x2="294" y2="313.2" stroke="#2a2a2a" stroke-width="0.85"/>
<text x="248.5" y="312.2" font-size="5.4" text-anchor="middle" stroke="#111" stroke-width="0.12" fill="#111">0.0133</text>
<line x1="228" y1="319.8" x2="294" y2="319.8" stroke="#2a2a2a" stroke-width="0.85"/>
<text x="259.3" y="318.8" font-size="5.4" text-anchor="middle" stroke="#111" stroke-width="0.12" fill="#111">0.0245</text>
<text x="206.7" y="403.2" font-size="6" text-anchor="end" font-weight="700" stroke="#000" stroke-width="0.22" transform="rotate(-45 206.7 403.2)">Control</text>
<text x="229" y="403.2" font-size="6" text-anchor="end" font-weight="700" stroke="#000" stroke-width="0.22" transform="rotate(-45 229 403.2)">Afatinib</text>
<text x="251.5" y="403.2" font-size="6" text-anchor="end" font-weight="700" stroke="#000" stroke-width="0.22" transform="rotate(-45 251.5 403.2)">Low MRTX1133</text>
<text x="273.9" y="403.2" font-size="6" text-anchor="end" font-weight="700" stroke="#000" stroke-width="0.22" transform="rotate(-45 273.9 403.2)">High MRTX1133</text>
<text x="295.9" y="403.2" font-size="6" text-anchor="end" font-weight="700" stroke="#000" stroke-width="0.22" transform="rotate(-45 295.9 403.2)">Combo</text>
<text x="159.5" y="460" font-size="13.6" font-weight="700" stroke="#000" stroke-width="0.43">K</text>
<text x="248.5" y="458.1" font-size="7" text-anchor="middle" font-weight="700" stroke="#000" stroke-width="0.25">MRTXR 1242</text>
<text x="171.5" y="509.8" font-size="6" text-anchor="middle" font-weight="700" stroke="#000" stroke-width="0.22" transform="rotate(-90 171.5 509.8)">Tumor weights (mg)</text>
<line x1="189.6" y1="466.2" x2="189.6" y2="555.8" stroke="#000" stroke-width="0.9"/>
<line x1="189.2" y1="555.8" x2="305.4" y2="555.8" stroke="#000" stroke-width="0.9"/>
<line x1="187.4" y1="467.4" x2="189.6" y2="467.4" stroke="#000" stroke-width="0.8"/>
<text x="187" y="469.25" font-size="5.1" text-anchor="end" font-weight="700" stroke="#000" stroke-width="0.19">2,000</text>
<line x1="187.4" y1="489.5" x2="189.6" y2="489.5" stroke="#000" stroke-width="0.8"/>
<text x="187" y="491.35" font-size="5.1" text-anchor="end" font-weight="700" stroke="#000" stroke-width="0.19">1,500</text>
<line x1="187.4" y1="511.6" x2="189.6" y2="511.6" stroke="#000" stroke-width="0.8"/>
<text x="187" y="513.45" font-size="5.1" text-anchor="end" font-weight="700" stroke="#000" stroke-width="0.19">1,000</text>
<line x1="187.4" y1="533.7" x2="189.6" y2="533.7" stroke="#000" stroke-width="0.8"/>
<text x="187" y="535.55" font-size="5.1" text-anchor="end" font-weight="700" stroke="#000" stroke-width="0.19">500</text>
<line x1="187.4" y1="555.8" x2="189.6" y2="555.8" stroke="#000" stroke-width="0.8"/>
<text x="187" y="557.65" font-size="5.1" text-anchor="end" font-weight="700" stroke="#000" stroke-width="0.19">0</text>
<rect x="198.9" y="497.3" width="17.8" height="58.5" fill="#808080" stroke="#000" stroke-width="1"/>
<line x1="207.8" y1="490.5" x2="207.8" y2="503.3" stroke="#000" stroke-width="0.55"/>
<line x1="203.8" y1="490.5" x2="211.8" y2="490.5" stroke="#000" stroke-width="0.55"/>
<line x1="203.8" y1="503.3" x2="211.8" y2="503.3" stroke="#000" stroke-width="0.55"/>
<line x1="207.8" y1="555.8" x2="207.8" y2="557.5" stroke="#000" stroke-width="0.7"/>
<rect x="226.2" y="514.2" width="17.8" height="41.6" fill="#f76ba1" stroke="#ec1163" stroke-width="1"/>
<line x1="235.1" y1="508.3" x2="235.1" y2="519" stroke="#ec1163" stroke-width="0.55"/>
<line x1="231.1" y1="508.3" x2="239.1" y2="508.3" stroke="#ec1163" stroke-width="0.55"/>
<line x1="231.1" y1="519" x2="239.1" y2="519" stroke="#ec1163" stroke-width="0.55"/>
<line x1="235.1" y1="555.8" x2="235.1" y2="557.5" stroke="#000" stroke-width="0.7"/>
<rect x="253" y="533.9" width="17.8" height="21.9" fill="#82c6c1" stroke="#1c8a85" stroke-width="1"/>
<line x1="261.9" y1="532.4" x2="261.9" y2="536" stroke="#1c8a85" stroke-width="0.55"/>
<line x1="257.9" y1="532.4" x2="265.9" y2="532.4" stroke="#1c8a85" stroke-width="0.55"/>
<line x1="257.9" y1="536" x2="265.9" y2="536" stroke="#1c8a85" stroke-width="0.55"/>
<line x1="261.9" y1="555.8" x2="261.9" y2="557.5" stroke="#000" stroke-width="0.7"/>
<rect x="280.8" y="535.8" width="17.8" height="20" fill="#9b7dc8" stroke="#3a0c7d" stroke-width="1"/>
<line x1="289.7" y1="532.6" x2="289.7" y2="540" stroke="#3a0c7d" stroke-width="0.55"/>
<line x1="285.7" y1="532.6" x2="293.7" y2="532.6" stroke="#3a0c7d" stroke-width="0.55"/>
<line x1="285.7" y1="540" x2="293.7" y2="540" stroke="#3a0c7d" stroke-width="0.55"/>
<line x1="289.7" y1="555.8" x2="289.7" y2="557.5" stroke="#000" stroke-width="0.7"/>
<circle cx="207.8" cy="490.4" r="1.6" fill="#000"/>
<circle cx="207.8" cy="495.2" r="1.6" fill="#000"/>
<circle cx="201.2" cy="502.4" r="1.6" fill="#000"/>
<circle cx="214.6" cy="501.8" r="1.6" fill="#000"/>
<rect x="225.9" y="508" width="3.2" height="3.2" fill="#ec1163"/>
<rect x="240.8" y="509.2" width="3.2" height="3.2" fill="#ec1163"/>
<rect x="233.2" y="517.3" width="3.2" height="3.2" fill="#ec1163"/>
<path d="M267.54 532.84L271.06 532.84L269.3 529.64Z" fill="#1c8a85"/>
<path d="M260.24 535.44L263.76 535.44L262 532.24Z" fill="#1c8a85"/>
<path d="M253.04 536.24L256.56 536.24L254.8 533.04Z" fill="#1c8a85"/>
<path d="M280.44 528.86L283.96 528.86L282.2 532.06Z" fill="#3a0c7d"/>
<path d="M287.84 533.76L291.36 533.76L289.6 536.96Z" fill="#3a0c7d"/>
<path d="M294.64 533.96L298.16 533.96L296.4 537.16Z" fill="#3a0c7d"/>
<path d="M287.84 538.46L291.36 538.46L289.6 541.66Z" fill="#3a0c7d"/>
<line x1="206.4" y1="472.4" x2="289.5" y2="472.4" stroke="#2a2a2a" stroke-width="0.85"/>
<text x="245.4" y="471.4" font-size="5.2" text-anchor="middle" stroke="#111" stroke-width="0.12" fill="#111">&lt;0.0001</text>
<line x1="206.4" y1="478.8" x2="263.4" y2="478.8" stroke="#2a2a2a" stroke-width="0.85"/>
<text x="233.7" y="477.8" font-size="5.2" text-anchor="middle" stroke="#111" stroke-width="0.12" fill="#111">&lt;0.0001</text>
<line x1="206.4" y1="486.1" x2="235.5" y2="486.1" stroke="#2a2a2a" stroke-width="0.85"/>
<text x="220.2" y="485.1" font-size="5.2" text-anchor="middle" stroke="#111" stroke-width="0.12" fill="#111">0.0088</text>
<line x1="234.7" y1="498.6" x2="263.4" y2="498.6" stroke="#2a2a2a" stroke-width="0.85"/>
<text x="247.3" y="497.6" font-size="5.2" text-anchor="middle" stroke="#111" stroke-width="0.12" fill="#111">0.0009</text>
<line x1="234.7" y1="505.3" x2="289.5" y2="505.3" stroke="#2a2a2a" stroke-width="0.85"/>
<text x="261.8" y="504.3" font-size="5.2" text-anchor="middle" stroke="#111" stroke-width="0.12" fill="#111">0.0004</text>
<text x="208.2" y="562.8" font-size="5.75" text-anchor="middle" font-weight="700" stroke="#000" stroke-width="0.21">Control</text>
<text x="235.5" y="562.8" font-size="5.75" text-anchor="middle" font-weight="700" stroke="#000" stroke-width="0.21">Afatinib</text>
<text x="262.3" y="562.8" font-size="5.75" text-anchor="middle" font-weight="700" stroke="#000" stroke-width="0.21">MRTX1133</text>
<text x="290.1" y="562.8" font-size="5.75" text-anchor="middle" font-weight="700" stroke="#000" stroke-width="0.21">Combo</text>
<text x="308.6" y="12.3" font-size="13.6" font-weight="700" stroke="#000" stroke-width="0.43">C</text>
<text x="324.7" y="26.4" font-size="9.8" stroke="#000" stroke-width="0.12">Control</text>
<text x="324.7" y="48.6" font-size="9.8" stroke="#000" stroke-width="0.12">Afatinib</text>
<text x="324.7" y="76" font-size="9.8" stroke="#000" stroke-width="0.12">MRTX1133</text>
<text x="324.7" y="97.1" font-size="9.8" stroke="#000" stroke-width="0.12">Combo</text>
<rect x="381.3" y="6.6" width="139.2" height="107" fill="#12099b" stroke="#0c0578" stroke-width="0.7"/>
<g filter="url(#soft)">
<path d="M394.81 21.16C395.12 20.66 396.11 19.97 396.88 19.61C397.64 19.25 398.59 18.76 399.39 19C400.19 19.24 400.95 20.31 401.67 21.02C402.39 21.74 403.45 22.67 403.69 23.31C403.94 23.95 403.27 24.35 403.14 24.89C403 25.42 403.31 26.39 402.89 26.54C402.47 26.69 401.39 26.01 400.62 25.78C399.86 25.56 398.91 25.42 398.31 25.19C397.71 24.97 397.46 24.64 397.01 24.42C396.57 24.19 395.95 24.16 395.62 23.85C395.28 23.54 395.15 23.01 395.01 22.56C394.88 22.11 394.5 21.65 394.81 21.16Z" fill="#ffd868"/>
<path d="M395.94 21.82C396.43 21.19 398.35 19.86 399.51 20.14C400.66 20.42 402.41 22.52 402.87 23.5C403.32 24.48 402.94 25.77 402.24 26.02C401.54 26.26 399.61 25.32 398.67 24.97C397.72 24.62 397.02 24.44 396.57 23.92C396.11 23.39 395.45 22.45 395.94 21.82Z" fill="#fbb535" opacity="0.9"/>
<path d="M396.55 22.57C396.85 22.18 398.03 21.36 398.74 21.54C399.45 21.71 400.53 23 400.81 23.6C401.09 24.21 400.85 25 400.42 25.15C399.99 25.31 398.81 24.72 398.23 24.51C397.64 24.29 397.21 24.19 396.93 23.86C396.65 23.54 396.24 22.96 396.55 22.57Z" fill="#f39a1c" opacity="0.7"/>
<ellipse cx="401.32" cy="23.75" rx="1.21" ry="0.6" fill="#ffe89a" opacity="0.55"/>
<ellipse cx="398.4" cy="24.74" rx="0.75" ry="0.53" fill="#e88a14" opacity="0.55"/>
<path d="M417.7 23.31C418.19 22.61 419.45 21.82 420.35 21.1C421.24 20.39 422.16 19.39 423.08 19C424 18.61 424.97 18.64 425.87 18.78C426.76 18.91 428 19.23 428.47 19.81C428.93 20.39 428.43 21.48 428.66 22.24C428.88 23 429.91 23.71 429.81 24.39C429.72 25.06 428.54 25.59 428.09 26.31C427.64 27.02 427.73 28.21 427.12 28.69C426.51 29.18 425.35 29.11 424.45 29.19C423.55 29.28 422.47 29.41 421.73 29.23C420.99 29.05 420.6 28.47 420.01 28.11C419.43 27.75 418.68 27.55 418.23 27.08C417.79 26.61 417.46 25.91 417.37 25.28C417.28 24.65 417.2 24 417.7 23.31Z" fill="#ffd868"/>
<path d="M418.86 23.64C419.49 22.59 421.66 20.74 423.06 20.28C424.46 19.83 426.38 20.21 427.26 20.91C428.13 21.61 428.48 23.33 428.31 24.48C428.13 25.64 427.26 27.21 426.21 27.84C425.16 28.47 423.16 28.47 422.01 28.26C420.85 28.05 419.8 27.35 419.28 26.58C418.75 25.81 418.23 24.69 418.86 23.64Z" fill="#fbb535" opacity="0.9"/>
<path d="M421.07 24.1C421.45 23.45 422.79 22.31 423.65 22.03C424.51 21.75 425.7 21.99 426.24 22.42C426.77 22.85 426.99 23.91 426.88 24.62C426.77 25.33 426.24 26.3 425.59 26.68C424.94 27.07 423.72 27.07 423 26.94C422.29 26.81 421.65 26.38 421.32 25.91C421 25.43 420.68 24.75 421.07 24.1Z" fill="#f39a1c" opacity="0.7"/>
<ellipse cx="424.52" cy="24.38" rx="1.01" ry="0.67" fill="#ffe89a" opacity="0.55"/>
<ellipse cx="423.93" cy="23.16" rx="1.25" ry="0.81" fill="#e88a14" opacity="0.55"/>
<ellipse cx="422.62" cy="23.41" rx="1.02" ry="0.88" fill="#ffe89a" opacity="0.55"/>
<path d="M445.97 23.31C446.33 22.67 447.12 21.66 447.88 21.07C448.65 20.49 449.58 19.95 450.54 19.81C451.5 19.66 452.61 20.07 453.64 20.2C454.67 20.34 456.02 20.27 456.74 20.62C457.46 20.97 457.73 21.68 457.96 22.31C458.18 22.93 458.41 23.76 458.08 24.39C457.75 25.01 456.66 25.47 455.99 26.05C455.32 26.64 454.88 27.51 454.04 27.89C453.2 28.26 451.98 28.18 450.95 28.31C449.92 28.45 448.6 28.77 447.85 28.69C447.1 28.62 446.84 28.21 446.44 27.85C446.03 27.49 445.55 27.03 445.43 26.54C445.3 26.05 445.6 25.46 445.69 24.92C445.78 24.38 445.6 23.95 445.97 23.31Z" fill="#ffd868"/>
<path d="M447.17 23.49C447.83 22.61 449.34 21.11 450.74 20.76C452.14 20.41 454.59 20.79 455.57 21.39C456.55 21.98 456.97 23.38 456.62 24.33C456.27 25.27 454.8 26.5 453.47 27.06C452.14 27.62 449.76 27.86 448.64 27.69C447.52 27.51 446.99 26.71 446.75 26.01C446.5 25.31 446.5 24.36 447.17 23.49Z" fill="#fbb535" opacity="0.9"/>
<path d="M448.74 24.4C449.15 23.87 450.08 22.94 450.94 22.72C451.8 22.51 453.31 22.75 453.91 23.11C454.52 23.48 454.77 24.34 454.56 24.92C454.34 25.5 453.44 26.26 452.62 26.6C451.8 26.95 450.34 27.1 449.65 26.99C448.96 26.88 448.64 26.39 448.48 25.96C448.33 25.52 448.33 24.94 448.74 24.4Z" fill="#f39a1c" opacity="0.7"/>
<ellipse cx="448.12" cy="24.2" rx="1.54" ry="0.73" fill="#ffe89a" opacity="0.55"/>
<ellipse cx="451.38" cy="25.16" rx="1.6" ry="0.9" fill="#e88a14" opacity="0.55"/>
<ellipse cx="449.77" cy="23.62" rx="1.33" ry="0.65" fill="#ffe89a" opacity="0.55"/>
<path d="M472.89 20.62C473.21 20.21 474.68 20.46 475.44 20.1C476.21 19.74 476.53 18.51 477.47 18.46C478.41 18.41 479.93 19.27 481.09 19.81C482.26 20.35 483.71 20.96 484.47 21.69C485.23 22.42 485.22 23.39 485.67 24.2C486.12 25 487.23 25.83 487.16 26.54C487.09 27.25 485.85 27.76 485.27 28.43C484.68 29.11 484.48 30.26 483.66 30.58C482.84 30.89 481.39 30.64 480.36 30.32C479.32 30.01 478.35 29.23 477.47 28.69C476.59 28.16 475.63 27.83 475.09 27.11C474.55 26.39 474.5 25.15 474.24 24.39C473.98 23.62 473.75 23.14 473.53 22.51C473.3 21.89 472.57 21.02 472.89 20.62Z" fill="#ffd868"/>
<path d="M474.15 21.58C474.57 20.81 476.21 19.76 477.72 19.9C479.22 20.04 481.92 21.37 483.18 22.42C484.44 23.47 485.38 25.05 485.28 26.2C485.17 27.36 483.81 29.07 482.55 29.35C481.29 29.63 478.94 28.69 477.72 27.88C476.49 27.08 475.79 25.57 475.2 24.52C474.6 23.47 473.73 22.35 474.15 21.58Z" fill="#fbb535" opacity="0.9"/>
<path d="M476.86 23.29C477.12 22.82 478.13 22.17 479.06 22.26C479.98 22.35 481.64 23.17 482.42 23.81C483.19 24.46 483.77 25.43 483.71 26.14C483.64 26.85 482.8 27.9 482.03 28.08C481.25 28.25 479.81 27.67 479.06 27.17C478.3 26.68 477.87 25.75 477.51 25.1C477.14 24.46 476.6 23.77 476.86 23.29Z" fill="#f39a1c" opacity="0.7"/>
<ellipse cx="480.34" cy="24.99" rx="1.22" ry="1.33" fill="#ffe89a" opacity="0.55"/>
<ellipse cx="481.04" cy="24.61" rx="1.11" ry="0.82" fill="#e88a14" opacity="0.55"/>
<ellipse cx="478.33" cy="24.26" rx="1.41" ry="1.26" fill="#ffe89a" opacity="0.55"/>
<ellipse cx="479.27" cy="22.71" rx="1.78" ry="1.14" fill="#e88a14" opacity="0.55"/>
<path d="M503.86 17.12C504.35 16.53 505.78 17.2 506.68 16.97C507.58 16.75 508.41 15.58 509.24 15.77C510.08 15.96 510.79 17.44 511.69 18.11C512.59 18.78 514.28 19.15 514.63 19.81C514.97 20.47 514.01 21.29 513.79 22.05C513.56 22.81 513.76 23.68 513.28 24.39C512.79 25.1 511.77 25.86 510.88 26.31C509.98 26.76 508.82 27.15 507.89 27.08C506.97 27 506.09 26.39 505.33 25.85C504.57 25.32 503.58 24.74 503.32 23.85C503.05 22.95 503.64 21.62 503.73 20.49C503.82 19.37 503.36 17.7 503.86 17.12Z" fill="#ffd868"/>
<path d="M505.11 17.95C505.88 16.9 507.91 16.55 509.31 16.9C510.71 17.25 512.98 18.93 513.51 20.05C514.03 21.17 513.33 22.68 512.46 23.62C511.58 24.57 509.55 25.79 508.26 25.72C506.96 25.65 505.21 24.5 504.69 23.2C504.16 21.91 504.34 19 505.11 17.95Z" fill="#fbb535" opacity="0.9"/>
<path d="M505.98 20.03C506.45 19.38 507.7 19.16 508.56 19.38C509.42 19.6 510.82 20.63 511.15 21.32C511.47 22.01 511.04 22.93 510.5 23.52C509.96 24.1 508.71 24.85 507.91 24.81C507.12 24.76 506.04 24.05 505.72 23.26C505.39 22.46 505.5 20.67 505.98 20.03Z" fill="#f39a1c" opacity="0.7"/>
<ellipse cx="510.35" cy="22.84" rx="1.05" ry="1.12" fill="#ffe89a" opacity="0.55"/>
<ellipse cx="510.02" cy="19.77" rx="1.1" ry="0.9" fill="#e88a14" opacity="0.55"/>
<ellipse cx="507.14" cy="19.84" rx="1.12" ry="0.99" fill="#ffe89a" opacity="0.55"/>
<path d="M390.77 44.04C391.34 43.72 392.66 43.69 393.56 43.38C394.46 43.06 395.15 42.25 396.16 42.16C397.16 42.06 398.49 42.48 399.61 42.79C400.73 43.1 402.26 43.53 402.89 44.04C403.52 44.55 403.16 45.28 403.38 45.86C403.6 46.44 404.46 47.09 404.23 47.54C404 47.99 402.68 48.12 402 48.57C401.33 49.02 401.06 49.96 400.19 50.23C399.32 50.5 397.91 50.33 396.78 50.19C395.66 50.06 394.27 49.8 393.46 49.43C392.66 49.05 392.49 48.4 391.95 47.95C391.42 47.5 390.53 47.17 390.23 46.73C389.93 46.3 390.08 45.77 390.17 45.32C390.26 44.87 390.21 44.37 390.77 44.04Z" fill="#ffd868"/>
<path d="M391.91 44.65C392.68 44.05 394.53 43.18 396.11 43.18C397.68 43.18 400.31 43.95 401.36 44.65C402.41 45.35 402.76 46.57 402.41 47.38C402.06 48.18 400.66 49.24 399.26 49.48C397.86 49.73 395.3 49.31 394.01 48.85C392.71 48.4 391.84 47.45 391.49 46.75C391.14 46.05 391.14 45.24 391.91 44.65Z" fill="#fbb535" opacity="0.9"/>
<path d="M394.23 45.34C394.71 44.97 395.85 44.43 396.82 44.43C397.79 44.43 399.4 44.91 400.05 45.34C400.69 45.77 400.91 46.52 400.69 47.02C400.48 47.52 399.62 48.16 398.76 48.31C397.89 48.46 396.32 48.2 395.52 47.92C394.73 47.64 394.19 47.06 393.97 46.63C393.76 46.2 393.76 45.71 394.23 45.34Z" fill="#f39a1c" opacity="0.7"/>
<ellipse cx="395.87" cy="45.43" rx="1.15" ry="0.69" fill="#ffe89a" opacity="0.55"/>
<ellipse cx="395.22" cy="47.12" rx="1.84" ry="0.93" fill="#e88a14" opacity="0.55"/>
<ellipse cx="397.39" cy="48.49" rx="1.58" ry="0.95" fill="#ffe89a" opacity="0.55"/>
<path d="M417.7 40C418.15 39.57 419.52 39.67 420.42 39.45C421.32 39.22 422.11 38.44 423.08 38.66C424.05 38.87 425.14 40.17 426.26 40.76C427.39 41.34 428.93 41.67 429.81 42.16C430.69 42.64 431.22 43.02 431.53 43.65C431.85 44.28 432.09 45.39 431.7 45.93C431.3 46.46 429.94 46.43 429.18 46.88C428.41 47.33 428.02 48.47 427.12 48.62C426.22 48.77 424.92 47.98 423.8 47.8C422.68 47.62 421.33 47.78 420.39 47.54C419.45 47.3 418.71 46.93 418.17 46.34C417.63 45.76 417.24 44.76 417.16 44.04C417.08 43.33 417.59 42.73 417.68 42.06C417.77 41.38 417.24 40.44 417.7 40Z" fill="#ffd868"/>
<path d="M419.23 40.86C420 40.16 421.86 39.53 423.43 39.81C425.01 40.09 427.56 41.6 428.68 42.54C429.8 43.49 430.5 44.64 430.15 45.48C429.8 46.32 428.05 47.37 426.58 47.58C425.11 47.79 422.63 47.34 421.33 46.74C420.04 46.15 419.16 44.99 418.81 44.01C418.46 43.03 418.46 41.56 419.23 40.86Z" fill="#fbb535" opacity="0.9"/>
<path d="M421.46 42.29C421.93 41.86 423.08 41.48 424.05 41.65C425.02 41.82 426.59 42.75 427.28 43.33C427.97 43.91 428.4 44.62 428.18 45.14C427.97 45.65 426.89 46.3 425.98 46.43C425.08 46.56 423.55 46.28 422.75 45.91C421.96 45.55 421.42 44.84 421.2 44.23C420.99 43.63 420.99 42.72 421.46 42.29Z" fill="#f39a1c" opacity="0.7"/>
<ellipse cx="421.12" cy="44.45" rx="1.72" ry="1.04" fill="#ffe89a" opacity="0.55"/>
<ellipse cx="423.45" cy="45.41" rx="1.16" ry="0.76" fill="#e88a14" opacity="0.55"/>
<ellipse cx="422.88" cy="43.89" rx="1.37" ry="1.08" fill="#ffe89a" opacity="0.55"/>
<path d="M447.31 44.04C447.64 43.42 448.77 43 449.58 42.69C450.38 42.37 451.23 42.03 452.16 42.16C453.09 42.28 454.15 43.01 455.14 43.46C456.13 43.91 457.61 44.34 458.08 44.85C458.55 45.36 457.86 45.99 457.95 46.53C458.04 47.07 458.89 47.65 458.62 48.08C458.35 48.51 457.08 48.76 456.32 49.12C455.55 49.48 454.88 50.16 454.04 50.23C453.21 50.31 452.2 49.85 451.3 49.59C450.41 49.32 449.27 49.14 448.66 48.62C448.05 48.09 447.86 47.2 447.63 46.43C447.41 45.67 446.99 44.67 447.31 44.04Z" fill="#ffd868"/>
<path d="M448.38 45.04C448.83 44.2 450.76 43.47 452.16 43.57C453.56 43.68 455.94 44.9 456.78 45.67C457.62 46.44 457.72 47.49 457.2 48.19C456.67 48.89 454.92 49.8 453.63 49.87C452.33 49.94 450.3 49.42 449.43 48.61C448.55 47.81 447.92 45.88 448.38 45.04Z" fill="#fbb535" opacity="0.9"/>
<path d="M450.65 45.43C450.93 44.91 452.12 44.46 452.98 44.53C453.84 44.59 455.3 45.35 455.82 45.82C456.34 46.29 456.4 46.94 456.08 47.37C455.76 47.8 454.68 48.36 453.88 48.4C453.09 48.45 451.84 48.12 451.3 47.63C450.76 47.13 450.37 45.95 450.65 45.43Z" fill="#f39a1c" opacity="0.7"/>
<ellipse cx="451.18" cy="45.39" rx="1.51" ry="0.62" fill="#ffe89a" opacity="0.55"/>
<ellipse cx="452.74" cy="47.02" rx="1.26" ry="0.93" fill="#e88a14" opacity="0.55"/>
<ellipse cx="453.06" cy="45.68" rx="1.09" ry="0.52" fill="#ffe89a" opacity="0.55"/>
<path d="M475.58 43.23C476.1 42.69 477.1 41.77 477.99 41.32C478.89 40.87 479.81 40.45 480.97 40.54C482.13 40.63 483.6 41.49 484.95 41.85C486.29 42.21 488.35 42.27 489.05 42.7C489.74 43.12 489 43.85 489.13 44.39C489.27 44.93 490.11 45.34 489.85 45.93C489.6 46.52 488.42 47.34 487.61 47.93C486.8 48.51 486.01 49.17 485.01 49.43C484 49.68 482.71 49.6 481.59 49.47C480.47 49.33 479.12 48.92 478.28 48.62C477.44 48.32 476.99 48.11 476.54 47.66C476.09 47.21 475.86 46.44 475.58 45.93C475.31 45.41 474.89 45.03 474.89 44.58C474.89 44.13 475.07 43.78 475.58 43.23Z" fill="#ffd868"/>
<path d="M476.83 43.69C477.53 42.99 479.29 41.66 481.04 41.59C482.79 41.52 486.18 42.57 487.34 43.27C488.49 43.97 488.49 44.91 487.97 45.79C487.44 46.66 485.69 48.17 484.19 48.52C482.68 48.87 480.16 48.34 478.93 47.89C477.71 47.43 477.18 46.49 476.83 45.79C476.48 45.09 476.13 44.39 476.83 43.69Z" fill="#fbb535" opacity="0.9"/>
<path d="M479.37 44.41C479.8 43.98 480.88 43.16 481.95 43.11C483.03 43.07 485.12 43.72 485.83 44.15C486.54 44.58 486.54 45.16 486.22 45.7C485.9 46.24 484.82 47.16 483.89 47.38C482.97 47.59 481.42 47.27 480.66 46.99C479.91 46.71 479.58 46.13 479.37 45.7C479.15 45.27 478.94 44.84 479.37 44.41Z" fill="#f39a1c" opacity="0.7"/>
<ellipse cx="483.41" cy="47.33" rx="1.92" ry="0.59" fill="#ffe89a" opacity="0.55"/>
<ellipse cx="480.33" cy="47.37" rx="1.39" ry="0.87" fill="#e88a14" opacity="0.55"/>
<ellipse cx="481.04" cy="43.57" rx="1.05" ry="0.92" fill="#ffe89a" opacity="0.55"/>
<path d="M392.12 68.27C392.33 67.54 393.2 66.99 393.88 66.54C394.55 66.09 395.31 65.55 396.16 65.58C397 65.61 398.05 66.28 398.95 66.73C399.85 67.18 401.14 67.68 401.54 68.27C401.94 68.87 401.47 69.63 401.38 70.31C401.29 70.98 401.4 71.61 401 72.31C400.6 73.01 399.78 73.98 398.97 74.52C398.16 75.06 396.97 75.51 396.16 75.54C395.34 75.58 394.74 75.07 394.07 74.75C393.39 74.44 392.37 74.29 392.12 73.66C391.87 73.03 392.57 71.86 392.57 70.97C392.57 70.07 391.9 69.01 392.12 68.27Z" fill="#ffd868"/>
<path d="M393.12 69C393.65 67.95 395.05 66.9 396.27 66.9C397.5 66.9 399.84 68.12 400.47 69C401.1 69.87 400.75 71.2 400.05 72.15C399.35 73.09 397.43 74.49 396.27 74.67C395.12 74.84 393.65 74.14 393.12 73.2C392.6 72.25 392.6 70.05 393.12 69Z" fill="#fbb535" opacity="0.9"/>
<path d="M394.75 69.85C395.07 69.2 395.94 68.56 396.69 68.56C397.44 68.56 398.89 69.31 399.27 69.85C399.66 70.39 399.45 71.21 399.02 71.79C398.59 72.37 397.4 73.23 396.69 73.34C395.98 73.45 395.07 73.01 394.75 72.43C394.43 71.85 394.43 70.49 394.75 69.85Z" fill="#f39a1c" opacity="0.7"/>
<ellipse cx="396.16" cy="72.96" rx="0.77" ry="1.13" fill="#ffe89a" opacity="0.55"/>
<ellipse cx="397.73" cy="69.45" rx="1" ry="0.64" fill="#e88a14" opacity="0.55"/>
<ellipse cx="397.49" cy="72.58" rx="1.14" ry="0.97" fill="#ffe89a" opacity="0.55"/>
<path d="M422.54 69.08C422.95 68.73 423.94 68.87 424.57 68.6C425.2 68.34 425.64 67.47 426.31 67.47C426.99 67.46 427.89 68.13 428.61 68.58C429.33 69.03 430.45 69.55 430.62 70.16C430.78 70.77 429.87 71.51 429.6 72.23C429.33 72.95 429.4 73.93 429 74.47C428.61 75 427.87 75.25 427.24 75.43C426.61 75.61 425.81 75.78 425.23 75.54C424.65 75.31 424.21 74.57 423.76 74.03C423.31 73.5 422.81 72.87 422.54 72.31C422.27 71.76 422.13 71.24 422.13 70.7C422.13 70.16 422.14 69.43 422.54 69.08Z" fill="#ffd868"/>
<path d="M423.34 69.56C423.83 68.93 425.23 68.16 426.28 68.3C427.33 68.44 429.29 69.49 429.64 70.4C429.99 71.31 429.08 73.06 428.38 73.76C427.68 74.46 426.28 74.88 425.44 74.6C424.6 74.32 423.69 72.92 423.34 72.08C422.99 71.24 422.85 70.19 423.34 69.56Z" fill="#fbb535" opacity="0.9"/>
<path d="M424.26 70.59C424.56 70.21 425.43 69.73 426.07 69.82C426.72 69.91 427.92 70.55 428.14 71.11C428.35 71.67 427.79 72.75 427.36 73.18C426.93 73.61 426.07 73.87 425.55 73.7C425.04 73.52 424.48 72.66 424.26 72.15C424.05 71.63 423.96 70.98 424.26 70.59Z" fill="#f39a1c" opacity="0.7"/>
<ellipse cx="427.87" cy="71.97" rx="1.08" ry="0.56" fill="#ffe89a" opacity="0.55"/>
<ellipse cx="425.12" cy="70.5" rx="0.81" ry="0.77" fill="#e88a14" opacity="0.55"/>
<path d="M446.77 69.08C447.13 68.71 448.12 68.75 448.75 68.48C449.37 68.21 449.9 67.4 450.54 67.47C451.19 67.54 452.03 68.32 452.61 68.9C453.19 69.48 453.97 70.35 454.04 70.97C454.12 71.58 453.27 72.01 453.05 72.59C452.82 73.18 453.09 74.09 452.7 74.47C452.31 74.85 451.37 74.79 450.7 74.88C450.02 74.97 449.21 75.18 448.66 75.01C448.11 74.83 447.75 74.26 447.39 73.81C447.03 73.36 446.63 72.83 446.51 72.31C446.38 71.79 446.59 71.24 446.63 70.7C446.68 70.16 446.42 69.45 446.77 69.08Z" fill="#ffd868"/>
<path d="M447.26 69.64C447.78 69.01 449.25 68.14 450.2 68.38C451.14 68.63 452.65 70.2 452.93 71.11C453.21 72.02 452.58 73.32 451.88 73.84C451.18 74.37 449.53 74.54 448.73 74.26C447.92 73.98 447.29 72.93 447.05 72.16C446.8 71.39 446.73 70.27 447.26 69.64Z" fill="#fbb535" opacity="0.9"/>
<path d="M448.29 70.55C448.61 70.16 449.52 69.62 450.1 69.77C450.68 69.92 451.61 70.89 451.78 71.45C451.95 72.01 451.56 72.81 451.13 73.13C450.7 73.46 449.69 73.56 449.2 73.39C448.7 73.22 448.31 72.57 448.16 72.1C448.01 71.63 447.97 70.94 448.29 70.55Z" fill="#f39a1c" opacity="0.7"/>
<ellipse cx="449.35" cy="70.6" rx="0.73" ry="0.58" fill="#ffe89a" opacity="0.55"/>
<ellipse cx="450.16" cy="73.11" rx="1" ry="0.61" fill="#e88a14" opacity="0.55"/>
<path d="M477.47 72.31C477.73 71.95 478.59 71.73 479.17 71.51C479.75 71.29 480.38 70.83 480.97 70.97C481.56 71.11 482.11 71.9 482.7 72.34C483.28 72.79 484.24 73.15 484.47 73.66C484.7 74.17 484.21 74.83 484.07 75.41C483.94 75.99 484.07 76.83 483.66 77.16C483.26 77.48 482.31 77.27 481.63 77.36C480.96 77.45 480.1 77.89 479.62 77.7C479.14 77.5 479.11 76.63 478.76 76.18C478.4 75.74 477.66 75.43 477.47 75.01C477.28 74.58 477.59 74.11 477.59 73.66C477.59 73.21 477.21 72.67 477.47 72.31Z" fill="#ffd868"/>
<path d="M477.96 72.82C478.41 72.29 479.78 71.59 480.69 71.77C481.6 71.94 483.07 73.06 483.42 73.87C483.77 74.67 483.42 76.07 482.79 76.6C482.16 77.12 480.44 77.3 479.64 77.02C478.83 76.74 478.24 75.62 477.96 74.92C477.68 74.22 477.5 73.34 477.96 72.82Z" fill="#fbb535" opacity="0.9"/>
<path d="M479.05 73.75C479.33 73.42 480.17 72.99 480.73 73.1C481.29 73.21 482.19 73.9 482.41 74.39C482.62 74.89 482.41 75.75 482.02 76.07C481.63 76.39 480.58 76.5 480.08 76.33C479.59 76.16 479.22 75.47 479.05 75.04C478.88 74.61 478.77 74.07 479.05 73.75Z" fill="#f39a1c" opacity="0.7"/>
<ellipse cx="482.07" cy="74.13" rx="0.72" ry="0.55" fill="#ffe89a" opacity="0.55"/>
<ellipse cx="480.8" cy="75.7" rx="0.94" ry="0.47" fill="#e88a14" opacity="0.55"/>
<path d="M505.2 73.66C505.61 73.1 506.46 72.39 507.23 72.08C507.99 71.76 509.02 71.56 509.78 71.77C510.54 71.99 511.07 72.91 511.78 73.36C512.5 73.81 513.79 73.9 514.09 74.47C514.39 75.03 513.71 75.97 513.57 76.74C513.44 77.5 513.69 78.48 513.28 79.04C512.87 79.61 511.88 80.01 511.11 80.14C510.35 80.28 509.4 80.11 508.7 79.85C508 79.59 507.48 79.02 506.9 78.57C506.32 78.13 505.56 77.69 505.2 77.16C504.84 76.63 504.75 75.99 504.75 75.41C504.75 74.83 504.79 74.21 505.2 73.66Z" fill="#ffd868"/>
<path d="M506.35 74.58C506.94 73.88 508.76 73.01 509.92 73.11C511.07 73.22 512.82 74.27 513.28 75.21C513.73 76.16 513.35 78.08 512.65 78.78C511.95 79.49 510.13 79.66 509.08 79.42C508.03 79.17 506.8 78.12 506.35 77.31C505.89 76.51 505.75 75.28 506.35 74.58Z" fill="#fbb535" opacity="0.9"/>
<path d="M507.13 75.35C507.5 74.92 508.62 74.38 509.33 74.45C510.04 74.51 511.12 75.16 511.4 75.74C511.68 76.32 511.44 77.51 511.01 77.94C510.58 78.37 509.46 78.47 508.81 78.32C508.17 78.17 507.41 77.53 507.13 77.03C506.85 76.54 506.77 75.78 507.13 75.35Z" fill="#f39a1c" opacity="0.7"/>
<ellipse cx="508.37" cy="76.02" rx="0.89" ry="0.68" fill="#ffe89a" opacity="0.55"/>
<ellipse cx="507.08" cy="76.43" rx="1.08" ry="0.5" fill="#e88a14" opacity="0.55"/>
<path d="M394 89.01C394.35 88.64 395.06 88.31 395.65 88.13C396.23 87.95 396.85 87.8 397.5 87.93C398.15 88.06 398.97 88.44 399.55 88.89C400.13 89.34 400.83 90.07 401 90.62C401.17 91.18 400.7 91.69 400.56 92.23C400.43 92.77 400.58 93.48 400.19 93.85C399.8 94.23 398.89 94.38 398.22 94.47C397.55 94.56 396.68 94.63 396.16 94.39C395.63 94.15 395.44 93.49 395.08 93.05C394.72 92.6 394.25 92.15 394 91.7C393.75 91.25 393.56 90.8 393.56 90.35C393.56 89.9 393.65 89.38 394 89.01Z" fill="#ffd868"/>
<path d="M394.98 89.8C395.44 89.31 396.8 88.75 397.71 88.96C398.62 89.17 400.09 90.29 400.44 91.07C400.79 91.84 400.44 93.1 399.81 93.59C399.18 94.08 397.47 94.29 396.66 94.01C395.86 93.73 395.26 92.61 394.98 91.91C394.7 91.21 394.53 90.29 394.98 89.8Z" fill="#fbb535" opacity="0.9"/>
<path d="M395.39 90.22C395.67 89.92 396.51 89.58 397.07 89.71C397.63 89.84 398.53 90.53 398.75 91C398.96 91.47 398.75 92.25 398.36 92.55C397.97 92.85 396.92 92.98 396.42 92.81C395.93 92.64 395.56 91.95 395.39 91.52C395.22 91.09 395.11 90.53 395.39 90.22Z" fill="#f39a1c" opacity="0.7"/>
<ellipse cx="398.06" cy="89.86" rx="0.66" ry="0.43" fill="#ffe89a" opacity="0.55"/>
<ellipse cx="398.88" cy="91.02" rx="0.72" ry="0.43" fill="#e88a14" opacity="0.55"/>
<path d="M420.93 91.7C421.32 91.14 422.76 90.72 423.57 90.1C424.38 89.47 424.94 87.98 425.77 87.93C426.61 87.88 427.78 89.04 428.58 89.81C429.39 90.57 430.24 91.7 430.62 92.51C431 93.32 431.01 93.99 430.88 94.66C430.74 95.33 430.43 96.07 429.81 96.55C429.2 97.02 428.08 97.4 427.19 97.49C426.29 97.58 425.16 97.33 424.43 97.08C423.69 96.83 423.34 96.31 422.76 95.99C422.17 95.68 421.18 95.62 420.93 95.2C420.67 94.78 421.23 94.03 421.23 93.45C421.23 92.87 420.54 92.26 420.93 91.7Z" fill="#ffd868"/>
<path d="M422.21 92.4C422.84 91.46 424.73 89.36 425.99 89.46C427.25 89.57 429.24 91.91 429.77 93.03C430.29 94.15 429.94 95.59 429.14 96.18C428.33 96.78 426.09 96.78 424.94 96.6C423.78 96.43 422.66 95.83 422.21 95.13C421.75 94.43 421.58 93.35 422.21 92.4Z" fill="#fbb535" opacity="0.9"/>
<path d="M423.43 93.18C423.82 92.6 424.98 91.31 425.75 91.37C426.53 91.44 427.76 92.88 428.08 93.57C428.4 94.26 428.19 95.14 427.69 95.51C427.2 95.87 425.82 95.87 425.11 95.77C424.4 95.66 423.71 95.29 423.43 94.86C423.15 94.43 423.04 93.76 423.43 93.18Z" fill="#f39a1c" opacity="0.7"/>
<ellipse cx="423.75" cy="93.67" rx="0.78" ry="0.57" fill="#ffe89a" opacity="0.55"/>
<ellipse cx="426.92" cy="91.94" rx="1.33" ry="0.96" fill="#e88a14" opacity="0.55"/>
<ellipse cx="424.69" cy="93.08" rx="1.27" ry="0.84" fill="#ffe89a" opacity="0.55"/>
<path d="M445.97 92.51C446.35 91.98 447.63 91.84 448.39 91.39C449.15 90.94 449.78 89.86 450.54 89.81C451.31 89.77 452.18 90.68 452.98 91.13C453.79 91.58 455.06 91.9 455.39 92.51C455.72 93.11 455.08 94.02 454.99 94.78C454.9 95.54 455.22 96.39 454.85 97.08C454.48 97.77 453.58 98.57 452.77 98.93C451.96 99.28 450.8 99.41 450.01 99.24C449.21 99.06 448.68 98.32 448 97.87C447.33 97.42 446.28 97.1 445.97 96.55C445.65 95.99 446.12 95.2 446.12 94.53C446.12 93.85 445.59 93.03 445.97 92.51Z" fill="#ffd868"/>
<path d="M446.94 93.16C447.54 92.29 449.29 91.06 450.51 91.06C451.74 91.06 453.73 92.22 454.29 93.16C454.85 94.11 454.57 95.86 453.87 96.73C453.17 97.61 451.25 98.48 450.09 98.41C448.94 98.34 447.47 97.19 446.94 96.31C446.42 95.44 446.35 94.04 446.94 93.16Z" fill="#fbb535" opacity="0.9"/>
<path d="M448 93.93C448.36 93.39 449.44 92.64 450.19 92.64C450.95 92.64 452.17 93.35 452.52 93.93C452.86 94.51 452.69 95.59 452.26 96.13C451.83 96.67 450.64 97.2 449.93 97.16C449.22 97.12 448.32 96.41 448 95.87C447.67 95.33 447.63 94.47 448 93.93Z" fill="#f39a1c" opacity="0.7"/>
<ellipse cx="448.46" cy="93.46" rx="1.04" ry="0.82" fill="#ffe89a" opacity="0.55"/>
<ellipse cx="449.63" cy="96.53" rx="0.87" ry="0.6" fill="#e88a14" opacity="0.55"/>
<ellipse cx="448.98" cy="94.09" rx="1.21" ry="0.81" fill="#ffe89a" opacity="0.55"/>
<path d="M478.28 92.51C478.67 91.93 479.37 91.24 480.05 90.79C480.72 90.34 481.6 89.65 482.32 89.81C483.04 89.98 483.83 91.03 484.37 91.79C484.91 92.56 485.24 93.61 485.55 94.39C485.85 95.18 486.07 95.78 486.21 96.5C486.34 97.22 486.78 98.24 486.35 98.7C485.93 99.16 484.56 99.24 483.66 99.24C482.76 99.24 481.67 98.98 480.97 98.7C480.27 98.41 479.89 97.98 479.44 97.53C478.99 97.08 478.57 96.55 478.28 96.01C477.98 95.46 477.69 94.84 477.69 94.26C477.69 93.67 477.88 93.08 478.28 92.51Z" fill="#ffd868"/>
<path d="M479.1 93.3C479.63 92.49 481.31 90.95 482.25 91.2C483.2 91.44 484.25 93.61 484.77 94.77C485.3 95.92 486 97.57 485.4 98.13C484.81 98.69 482.25 98.48 481.2 98.13C480.15 97.78 479.45 96.83 479.1 96.03C478.75 95.22 478.58 94.1 479.1 93.3Z" fill="#fbb535" opacity="0.9"/>
<path d="M480.01 94.46C480.33 93.97 481.37 93.02 481.95 93.17C482.53 93.32 483.18 94.66 483.5 95.37C483.82 96.08 484.25 97.09 483.89 97.43C483.52 97.78 481.95 97.65 481.3 97.43C480.66 97.22 480.22 96.64 480.01 96.14C479.79 95.65 479.69 94.96 480.01 94.46Z" fill="#f39a1c" opacity="0.7"/>
<ellipse cx="484.09" cy="95.5" rx="0.81" ry="0.62" fill="#ffe89a" opacity="0.55"/>
<ellipse cx="481.07" cy="95.87" rx="0.57" ry="0.91" fill="#e88a14" opacity="0.55"/>
<path d="M505.2 96.01C505.62 95.61 506.76 95.36 507.53 95.01C508.29 94.65 509.01 93.88 509.78 93.85C510.55 93.82 511.44 94.39 512.16 94.84C512.88 95.28 513.75 95.91 514.09 96.55C514.42 97.18 514.32 97.99 514.18 98.66C514.05 99.34 513.88 100.22 513.28 100.58C512.68 100.95 511.48 100.84 510.59 100.84C509.69 100.84 508.53 100.8 507.89 100.58C507.26 100.37 507.17 99.85 506.77 99.53C506.36 99.22 505.76 99.06 505.47 98.7C505.18 98.34 505.07 97.83 505.03 97.38C504.98 96.94 504.79 96.4 505.2 96.01Z" fill="#ffd868"/>
<path d="M506.33 96.65C506.89 96.02 508.75 94.9 509.9 94.97C511.06 95.04 512.81 96.19 513.26 97.07C513.72 97.94 513.44 99.69 512.63 100.22C511.83 100.74 509.45 100.46 508.43 100.22C507.42 99.97 506.89 99.34 506.54 98.75C506.19 98.15 505.77 97.28 506.33 96.65Z" fill="#fbb535" opacity="0.9"/>
<path d="M507.33 97.38C507.68 96.99 508.82 96.3 509.53 96.35C510.24 96.39 511.32 97.1 511.6 97.64C511.88 98.18 511.71 99.25 511.21 99.58C510.72 99.9 509.25 99.73 508.63 99.58C508 99.43 507.68 99.04 507.46 98.67C507.25 98.31 506.99 97.77 507.33 97.38Z" fill="#f39a1c" opacity="0.7"/>
<ellipse cx="507.94" cy="97.24" rx="1.13" ry="0.68" fill="#ffe89a" opacity="0.55"/>
<ellipse cx="508.83" cy="97.68" rx="0.75" ry="0.46" fill="#e88a14" opacity="0.55"/>
</g>
<text x="308.8" y="163.6" font-size="13.6" font-weight="700" stroke="#000" stroke-width="0.43">F</text>
<text x="324.7" y="164" font-size="9.8" stroke="#000" stroke-width="0.12">Control</text>
<text x="324.7" y="186.4" font-size="9.8" stroke="#000" stroke-width="0.12">Afatinib</text>
<text x="324.7" y="214" font-size="9.8" stroke="#000" stroke-width="0.12">MRTX1133</text>
<text x="324.7" y="234.8" font-size="9.8" stroke="#000" stroke-width="0.12">Combo</text>
<rect x="382.5" y="143.2" width="136.3" height="100.9" fill="#12099b" stroke="#0c0578" stroke-width="0.7"/>
<g filter="url(#soft)">
<path d="M388.08 156.69C388.38 155.74 389.32 154.69 390.22 154.15C391.11 153.61 392.27 153.59 393.46 153.46C394.66 153.33 396.11 153.14 397.37 153.36C398.63 153.59 399.87 154.39 401 154.81C402.14 155.23 403.11 155.59 404.19 155.9C405.27 156.22 406.81 156.1 407.46 156.69C408.11 157.29 408.18 158.58 408.09 159.48C408 160.37 407.61 161.41 406.93 162.08C406.24 162.74 404.89 162.88 403.99 163.46C403.1 164.05 402.5 165.05 401.54 165.58C400.58 166.11 399.38 166.51 398.25 166.64C397.13 166.78 395.94 166.56 394.81 166.39C393.68 166.21 392.39 166.18 391.49 165.59C390.6 165.01 389.94 163.84 389.42 162.89C388.91 161.93 388.64 160.9 388.41 159.86C388.19 158.83 387.78 157.65 388.08 156.69Z" fill="#fbcf94"/>
<path d="M390.03 157.29C390.55 156.07 392.55 155.02 394.23 154.77C395.91 154.53 398.29 155.4 400.11 155.82C401.93 156.24 404.38 156.35 405.15 157.29C405.92 158.24 405.5 160.34 404.73 161.49C403.96 162.65 402.1 163.66 400.53 164.22C398.95 164.78 396.85 165.2 395.28 164.85C393.7 164.5 391.95 163.38 391.08 162.12C390.2 160.86 389.5 158.52 390.03 157.29Z" fill="#f6b06a" opacity="0.9"/>
<path d="M392.89 158.69C393.21 157.94 394.44 157.29 395.47 157.14C396.51 156.99 397.97 157.53 399.09 157.78C400.21 158.04 401.72 158.11 402.19 158.69C402.67 159.27 402.41 160.56 401.93 161.27C401.46 161.98 400.32 162.61 399.35 162.95C398.38 163.3 397.09 163.56 396.12 163.34C395.15 163.13 394.07 162.44 393.53 161.66C392.99 160.89 392.56 159.44 392.89 158.69Z" fill="#f0984a" opacity="0.7"/>
<ellipse cx="399.49" cy="162.75" rx="1.76" ry="1.32" fill="#ffe6c4" opacity="0.55"/>
<ellipse cx="397" cy="160.58" rx="1.95" ry="1.31" fill="#e8883e" opacity="0.55"/>
<ellipse cx="394.08" cy="160.03" rx="1.52" ry="0.88" fill="#ffe6c4" opacity="0.55"/>
<ellipse cx="399.97" cy="161.34" rx="2.53" ry="1.07" fill="#e8883e" opacity="0.55"/>
<ellipse cx="398.46" cy="158.95" rx="1.66" ry="1.3" fill="#ffe6c4" opacity="0.55"/>
<path d="M421.73 157.5C422.05 156.72 423.02 155.58 423.91 155.13C424.81 154.68 425.99 154.73 427.12 154.81C428.25 154.88 429.59 155.14 430.71 155.58C431.84 156.03 432.82 156.86 433.85 157.5C434.88 158.14 436.22 158.53 436.89 159.43C437.56 160.33 437.72 161.83 437.89 162.89C438.06 163.94 438.12 164.85 437.9 165.75C437.67 166.65 437.27 167.83 436.54 168.27C435.82 168.72 434.53 168.28 433.55 168.42C432.56 168.55 431.61 169.21 430.62 169.08C429.62 168.94 428.61 168.05 427.58 167.6C426.55 167.15 425.22 166.92 424.43 166.39C423.63 165.85 423.26 165.12 422.81 164.4C422.36 163.68 421.87 162.85 421.73 162.08C421.6 161.31 422 160.55 422 159.79C422 159.03 421.41 158.28 421.73 157.5Z" fill="#fbcf94"/>
<path d="M423.36 158.98C424.06 158.03 425.98 156.88 427.56 156.88C429.13 156.88 431.41 157.93 432.81 158.98C434.21 160.03 435.61 161.78 435.96 163.18C436.31 164.58 435.85 166.57 434.91 167.38C433.96 168.18 431.86 168.25 430.29 168.01C428.71 167.76 426.61 166.82 425.46 165.91C424.3 165 423.71 163.7 423.36 162.55C423.01 161.39 422.66 159.92 423.36 158.98Z" fill="#f6b06a" opacity="0.9"/>
<path d="M425.77 160.12C426.2 159.53 427.38 158.82 428.35 158.82C429.32 158.82 430.72 159.47 431.58 160.12C432.45 160.76 433.31 161.84 433.52 162.7C433.74 163.56 433.46 164.79 432.88 165.29C432.3 165.78 431 165.82 430.03 165.67C429.06 165.52 427.77 164.94 427.06 164.38C426.35 163.82 425.98 163.02 425.77 162.31C425.55 161.6 425.34 160.7 425.77 160.12Z" fill="#f0984a" opacity="0.7"/>
<ellipse cx="426.92" cy="161.4" rx="1.74" ry="1.04" fill="#ffe6c4" opacity="0.55"/>
<ellipse cx="428.73" cy="161.07" rx="1.47" ry="1.06" fill="#e8883e" opacity="0.55"/>
<ellipse cx="429.09" cy="163.6" rx="1.98" ry="1.43" fill="#ffe6c4" opacity="0.55"/>
<ellipse cx="432.09" cy="162.8" rx="1.22" ry="1.41" fill="#e8883e" opacity="0.55"/>
<path d="M453.24 165.58C453.71 165.1 454.79 164.86 455.5 164.42C456.22 163.97 456.82 162.98 457.54 162.89C458.26 162.79 459.06 163.54 459.82 163.86C460.58 164.17 461.57 164.23 462.12 164.77C462.67 165.31 462.89 166.3 463.12 167.1C463.34 167.91 463.59 168.79 463.47 169.62C463.34 170.44 462.91 171.38 462.37 172.05C461.83 172.72 461.04 173.47 460.24 173.66C459.43 173.84 458.45 173.31 457.56 173.17C456.66 173.04 455.4 173.26 454.85 172.85C454.3 172.44 454.6 171.33 454.24 170.7C453.88 170.07 452.96 169.65 452.7 169.08C452.44 168.51 452.58 167.87 452.66 167.28C452.75 166.7 452.76 166.06 453.24 165.58Z" fill="#fbcf94"/>
<path d="M454.44 166.11C455.07 165.3 456.64 164.11 457.8 164.01C458.95 163.9 460.6 164.6 461.37 165.48C462.14 166.35 462.66 168.1 462.42 169.26C462.17 170.42 461.02 171.99 459.9 172.41C458.78 172.83 456.68 172.38 455.7 171.78C454.72 171.19 454.23 169.79 454.02 168.84C453.81 167.89 453.81 166.91 454.44 166.11Z" fill="#f6b06a" opacity="0.9"/>
<path d="M455.61 167.18C456 166.68 456.97 165.95 457.68 165.89C458.39 165.82 459.4 166.25 459.87 166.79C460.35 167.33 460.67 168.41 460.52 169.12C460.37 169.83 459.66 170.8 458.97 171.06C458.28 171.32 456.99 171.04 456.39 170.67C455.78 170.3 455.48 169.44 455.35 168.86C455.22 168.28 455.22 167.68 455.61 167.18Z" fill="#f0984a" opacity="0.7"/>
<ellipse cx="455.72" cy="168.42" rx="1.4" ry="0.98" fill="#ffe6c4" opacity="0.55"/>
<ellipse cx="458.64" cy="167.37" rx="0.85" ry="0.95" fill="#e8883e" opacity="0.55"/>
<ellipse cx="457.24" cy="166.15" rx="0.78" ry="0.81" fill="#ffe6c4" opacity="0.55"/>
<path d="M476.39 161.54C476.64 160.8 477.6 160.15 478.36 159.79C479.13 159.43 480.18 159.23 480.97 159.39C481.76 159.54 482.37 160.38 483.13 160.74C483.89 161.1 485.07 161 485.55 161.54C486.02 162.08 485.85 163.15 485.98 163.96C486.12 164.77 486.58 165.68 486.35 166.39C486.13 167.1 485.33 167.76 484.65 168.21C483.98 168.66 483.09 169.15 482.32 169.08C481.54 169.01 480.79 168.16 479.98 167.8C479.17 167.45 477.98 167.52 477.47 166.93C476.95 166.33 477.07 165.14 476.89 164.24C476.71 163.34 476.15 162.28 476.39 161.54Z" fill="#fbcf94"/>
<path d="M477.71 162.38C478.17 161.4 480.09 160.7 481.28 160.7C482.47 160.7 484.15 161.47 484.85 162.38C485.55 163.29 485.9 165.18 485.48 166.16C485.06 167.14 483.49 168.19 482.33 168.26C481.18 168.33 479.32 167.56 478.55 166.58C477.78 165.6 477.26 163.36 477.71 162.38Z" fill="#f6b06a" opacity="0.9"/>
<path d="M479.32 163.51C479.6 162.91 480.78 162.48 481.52 162.48C482.25 162.48 483.28 162.95 483.71 163.51C484.15 164.07 484.36 165.24 484.1 165.84C483.84 166.44 482.87 167.09 482.16 167.13C481.45 167.18 480.31 166.7 479.84 166.1C479.36 165.5 479.04 164.12 479.32 163.51Z" fill="#f0984a" opacity="0.7"/>
<ellipse cx="481.11" cy="164.72" rx="1.32" ry="0.65" fill="#ffe6c4" opacity="0.55"/>
<ellipse cx="478.96" cy="163.22" rx="0.94" ry="0.73" fill="#e8883e" opacity="0.55"/>
<ellipse cx="480.81" cy="164.77" rx="1.22" ry="0.75" fill="#ffe6c4" opacity="0.55"/>
<path d="M497.12 162.08C497.46 161.4 498.76 160.86 499.66 160.42C500.56 159.97 501.5 159.63 502.51 159.39C503.52 159.14 504.68 158.83 505.71 158.96C506.75 159.09 507.97 159.61 508.7 160.19C509.43 160.78 509.65 161.69 510.1 162.45C510.55 163.21 511.37 163.95 511.39 164.77C511.42 165.6 510.82 166.69 510.24 167.41C509.65 168.12 508.79 168.67 507.89 169.08C506.99 169.48 505.87 169.66 504.84 169.84C503.8 170.02 502.59 170.31 501.7 170.16C500.82 170 500.15 169.42 499.52 168.89C498.89 168.35 498.25 167.66 497.93 166.93C497.62 166.19 497.77 165.29 497.64 164.48C497.5 163.68 496.79 162.76 497.12 162.08Z" fill="#fbcf94"/>
<path d="M498.41 163.13C499 162.15 501.1 161.27 502.61 161.03C504.11 160.78 506.28 160.96 507.44 161.66C508.59 162.36 509.64 164.07 509.54 165.23C509.43 166.38 508.07 167.89 506.81 168.59C505.55 169.29 503.27 169.71 501.98 169.43C500.68 169.15 499.63 167.96 499.04 166.91C498.44 165.86 497.81 164.11 498.41 163.13Z" fill="#f6b06a" opacity="0.9"/>
<path d="M500.13 163.47C500.5 162.87 501.79 162.33 502.72 162.18C503.64 162.03 504.98 162.14 505.69 162.57C506.4 163 507.05 164.05 506.98 164.77C506.92 165.48 506.08 166.4 505.3 166.83C504.53 167.26 503.13 167.52 502.33 167.35C501.53 167.18 500.89 166.45 500.52 165.8C500.15 165.15 499.77 164.08 500.13 163.47Z" fill="#f0984a" opacity="0.7"/>
<ellipse cx="502.11" cy="162.06" rx="1.86" ry="1.18" fill="#ffe6c4" opacity="0.55"/>
<ellipse cx="504.68" cy="165.48" rx="1.29" ry="0.8" fill="#e8883e" opacity="0.55"/>
<ellipse cx="504.71" cy="165.78" rx="1.38" ry="0.86" fill="#ffe6c4" opacity="0.55"/>
<path d="M394.81 179.04C395.26 178.33 396.2 177.92 396.97 177.47C397.73 177.02 398.59 176.29 399.39 176.35C400.18 176.41 400.94 177.36 401.74 177.81C402.55 178.26 403.84 178.5 404.23 179.04C404.62 179.59 404.17 180.4 404.08 181.08C403.99 181.75 404.1 182.5 403.69 183.08C403.29 183.66 402.35 184.13 401.63 184.57C400.91 185.02 400.13 185.73 399.39 185.77C398.64 185.82 397.94 185.06 397.18 184.83C396.41 184.61 395.29 184.94 394.81 184.43C394.32 183.91 394.27 182.63 394.27 181.73C394.27 180.84 394.36 179.75 394.81 179.04Z" fill="#fbcf94"/>
<path d="M396.1 179.75C396.7 178.7 398.45 177.65 399.67 177.65C400.9 177.65 402.89 178.87 403.45 179.75C404.01 180.62 403.66 182.02 403.03 182.9C402.4 183.77 400.83 184.82 399.67 185C398.52 185.17 396.7 184.82 396.1 183.95C395.51 183.07 395.51 180.8 396.1 179.75Z" fill="#f6b06a" opacity="0.9"/>
<path d="M396.71 180.8C397.07 180.15 398.15 179.51 398.9 179.51C399.66 179.51 400.89 180.26 401.23 180.8C401.58 181.34 401.36 182.2 400.97 182.74C400.58 183.28 399.62 183.92 398.9 184.03C398.19 184.14 397.07 183.92 396.71 183.38C396.34 182.84 396.34 181.44 396.71 180.8Z" fill="#f0984a" opacity="0.7"/>
<ellipse cx="399.73" cy="183.8" rx="1.11" ry="0.68" fill="#ffe6c4" opacity="0.55"/>
<ellipse cx="400.51" cy="181.01" rx="1.29" ry="0.57" fill="#e8883e" opacity="0.55"/>
<ellipse cx="398.85" cy="183" rx="0.84" ry="0.75" fill="#ffe6c4" opacity="0.55"/>
<path d="M424.43 182.54C424.55 181.75 425.57 181 426.33 180.64C427.09 180.28 428.07 180.28 429 180.39C429.93 180.5 431.01 180.86 431.91 181.31C432.8 181.76 433.93 182.38 434.39 183.08C434.84 183.78 434.5 184.72 434.63 185.53C434.77 186.34 435.47 187.35 435.2 187.93C434.92 188.51 433.67 188.56 433 189.01C432.33 189.46 431.89 190.59 431.16 190.62C430.43 190.65 429.51 189.53 428.61 189.17C427.72 188.81 426.28 189.1 425.77 188.47C425.27 187.83 425.82 186.38 425.6 185.39C425.37 184.4 424.3 183.33 424.43 182.54Z" fill="#fbcf94"/>
<path d="M425.46 183.25C425.88 182.2 427.74 181.5 429.03 181.57C430.33 181.64 432.43 182.69 433.23 183.67C434.04 184.65 434.28 186.47 433.86 187.45C433.44 188.43 431.94 189.48 430.71 189.55C429.49 189.62 427.39 188.92 426.51 187.87C425.64 186.82 425.04 184.3 425.46 183.25Z" fill="#f6b06a" opacity="0.9"/>
<path d="M427.35 184.6C427.61 183.96 428.75 183.53 429.55 183.57C430.35 183.61 431.64 184.26 432.13 184.86C432.63 185.46 432.78 186.58 432.52 187.19C432.26 187.79 431.34 188.44 430.58 188.48C429.83 188.52 428.54 188.09 428 187.45C427.46 186.8 427.09 185.25 427.35 184.6Z" fill="#f0984a" opacity="0.7"/>
<ellipse cx="430.81" cy="187.58" rx="0.96" ry="1.03" fill="#ffe6c4" opacity="0.55"/>
<ellipse cx="429.2" cy="184.55" rx="1.07" ry="1.03" fill="#e8883e" opacity="0.55"/>
<ellipse cx="428.79" cy="185.11" rx="1.46" ry="0.83" fill="#ffe6c4" opacity="0.55"/>
<path d="M453.24 188.47C453.57 187.93 454.6 187.61 455.32 187.25C456.04 186.89 456.8 186.24 457.54 186.31C458.29 186.39 459.04 187.26 459.8 187.71C460.57 188.15 461.78 188.43 462.12 189C462.46 189.58 461.83 190.44 461.83 191.16C461.83 191.88 462.42 192.72 462.12 193.31C461.82 193.91 460.79 194.42 460.03 194.73C459.27 195.05 458.37 195.26 457.54 195.2C456.72 195.13 455.79 194.8 455.08 194.35C454.36 193.91 453.53 193.15 453.24 192.5C452.94 191.86 453.3 191.16 453.3 190.48C453.3 189.81 452.9 189 453.24 188.47Z" fill="#fbcf94"/>
<path d="M454.11 189.3C454.67 188.49 456.32 187.55 457.47 187.62C458.63 187.69 460.45 188.81 461.04 189.72C461.64 190.63 461.64 192.27 461.04 193.08C460.45 193.88 458.63 194.65 457.47 194.55C456.32 194.44 454.67 193.32 454.11 192.45C453.55 191.57 453.55 190.1 454.11 189.3Z" fill="#f6b06a" opacity="0.9"/>
<path d="M455.94 189.73C456.29 189.23 457.3 188.65 458.01 188.69C458.72 188.74 459.84 189.42 460.21 189.98C460.57 190.54 460.57 191.56 460.21 192.05C459.84 192.55 458.72 193.02 458.01 192.96C457.3 192.89 456.29 192.2 455.94 191.66C455.6 191.13 455.6 190.22 455.94 189.73Z" fill="#f0984a" opacity="0.7"/>
<ellipse cx="457.09" cy="191.4" rx="0.82" ry="1.03" fill="#ffe6c4" opacity="0.55"/>
<ellipse cx="458" cy="191.98" rx="0.74" ry="0.61" fill="#e8883e" opacity="0.55"/>
<path d="M475.58 187.12C475.85 186.29 477.01 185.15 477.9 184.39C478.8 183.63 479.89 182.94 480.97 182.54C482.05 182.14 483.27 182.26 484.4 181.99C485.52 181.72 486.75 180.84 487.7 180.93C488.65 181.01 489.54 181.79 490.08 182.51C490.61 183.23 491.1 184.36 490.93 185.23C490.76 186.11 489.61 186.88 489.07 187.78C488.53 188.68 488.46 189.89 487.7 190.62C486.94 191.35 485.62 191.84 484.5 192.16C483.38 192.47 481.94 192.5 480.97 192.5C480 192.51 479.43 192.33 478.66 192.2C477.9 192.06 476.78 192.17 476.39 191.7C476 191.22 476.46 190.11 476.32 189.35C476.19 188.59 475.32 187.95 475.58 187.12Z" fill="#fbcf94"/>
<path d="M477.05 187.45C477.64 186.26 479.67 184.69 481.25 183.88C482.82 183.08 485.2 182.27 486.5 182.62C487.79 182.97 489.02 184.72 489.02 185.98C489.02 187.24 487.79 189.24 486.5 190.18C485.2 191.13 482.72 191.51 481.25 191.65C479.78 191.79 478.38 191.72 477.68 191.02C476.98 190.32 476.45 188.64 477.05 187.45Z" fill="#f6b06a" opacity="0.9"/>
<path d="M479.95 187.69C480.31 186.95 481.56 185.98 482.53 185.49C483.5 184.99 484.96 184.5 485.76 184.71C486.56 184.93 487.31 186 487.31 186.78C487.31 187.56 486.56 188.78 485.76 189.37C484.96 189.95 483.44 190.18 482.53 190.27C481.63 190.36 480.76 190.31 480.33 189.88C479.9 189.45 479.58 188.42 479.95 187.69Z" fill="#f0984a" opacity="0.7"/>
<ellipse cx="482.12" cy="188.1" rx="2.15" ry="0.9" fill="#ffe6c4" opacity="0.55"/>
<ellipse cx="484.6" cy="185.68" rx="1.24" ry="0.97" fill="#e8883e" opacity="0.55"/>
<ellipse cx="480.82" cy="188.75" rx="1.32" ry="1.07" fill="#ffe6c4" opacity="0.55"/>
<ellipse cx="481.35" cy="186.84" rx="1.97" ry="1.03" fill="#e8883e" opacity="0.55"/>
<path d="M500.62 183.08C500.95 182.2 502.09 181.91 502.85 181.37C503.61 180.84 504.25 180.1 505.2 179.85C506.16 179.6 507.55 179.54 508.58 179.85C509.62 180.17 510.93 180.95 511.39 181.73C511.86 182.51 511.21 183.64 511.39 184.54C511.57 185.43 512.54 186.29 512.47 187.12C512.41 187.95 511.62 188.84 510.99 189.52C510.36 190.19 509.6 191 508.7 191.16C507.81 191.31 506.64 190.68 505.61 190.46C504.58 190.23 503.3 190.45 502.51 189.81C501.72 189.18 501.19 187.76 500.87 186.64C500.56 185.52 500.3 183.96 500.62 183.08Z" fill="#fbcf94"/>
<path d="M501.91 183.93C502.26 182.64 504.08 181.59 505.48 181.41C506.88 181.24 509.36 181.94 510.31 182.88C511.25 183.83 511.5 185.86 511.15 187.08C510.8 188.31 509.5 189.88 508.21 190.23C506.91 190.58 504.43 190.23 503.38 189.18C502.33 188.13 501.56 185.23 501.91 183.93Z" fill="#f6b06a" opacity="0.9"/>
<path d="M504.36 184.57C504.57 183.78 505.69 183.13 506.56 183.02C507.42 182.91 508.95 183.35 509.53 183.93C510.11 184.51 510.26 185.76 510.05 186.51C509.83 187.27 509.03 188.23 508.24 188.45C507.44 188.67 505.91 188.45 505.26 187.8C504.62 187.16 504.14 185.37 504.36 184.57Z" fill="#f0984a" opacity="0.7"/>
<ellipse cx="507.04" cy="186.17" rx="1.24" ry="0.9" fill="#ffe6c4" opacity="0.55"/>
<ellipse cx="507.75" cy="185.62" rx="1.3" ry="1.12" fill="#e8883e" opacity="0.55"/>
<ellipse cx="505.36" cy="183.43" rx="1.06" ry="0.76" fill="#ffe6c4" opacity="0.55"/>
<path d="M394.81 203.27C395.2 202.4 396.15 202.06 396.91 201.61C397.67 201.16 398.53 200.52 399.39 200.58C400.24 200.65 401.14 201.56 402.04 202C402.94 202.45 404.27 202.68 404.77 203.27C405.27 203.87 404.88 204.83 405.02 205.59C405.15 206.35 405.78 207.14 405.58 207.85C405.37 208.56 404.46 209.28 403.78 209.86C403.11 210.44 402.39 211.1 401.54 211.35C400.69 211.6 399.57 211.59 398.68 211.37C397.78 211.14 396.84 210.76 396.16 210.01C395.47 209.25 394.79 207.95 394.56 206.82C394.34 205.7 394.42 204.14 394.81 203.27Z" fill="#fbcf94"/>
<path d="M395.91 203.81C396.33 202.59 398.18 201.71 399.48 201.71C400.77 201.71 402.87 202.87 403.68 203.81C404.48 204.76 404.73 206.33 404.31 207.38C403.89 208.43 402.38 209.83 401.16 210.11C399.93 210.39 397.83 210.11 396.96 209.06C396.08 208.01 395.49 205.04 395.91 203.81Z" fill="#f6b06a" opacity="0.9"/>
<path d="M397.27 205.15C397.52 204.4 398.67 203.86 399.46 203.86C400.26 203.86 401.55 204.57 402.05 205.15C402.54 205.73 402.69 206.7 402.43 207.35C402.18 208 401.25 208.86 400.5 209.03C399.74 209.2 398.45 209.03 397.91 208.38C397.37 207.74 397.01 205.91 397.27 205.15Z" fill="#f0984a" opacity="0.7"/>
<ellipse cx="397.79" cy="206.32" rx="0.85" ry="0.7" fill="#ffe6c4" opacity="0.55"/>
<ellipse cx="401.42" cy="207.18" rx="0.86" ry="1.15" fill="#e8883e" opacity="0.55"/>
<ellipse cx="397.8" cy="204.59" rx="0.97" ry="1.26" fill="#ffe6c4" opacity="0.55"/>
<path d="M424.43 204.62C424.55 203.94 425.54 203.82 426.13 203.46C426.71 203.1 427.34 202.25 427.93 202.47C428.52 202.68 429.05 204.02 429.68 204.74C430.3 205.46 430.94 206.07 431.7 206.77C432.46 207.48 433.65 208.06 434.23 208.96C434.82 209.85 435.4 211.53 435.2 212.16C434.99 212.79 433.68 212.42 433.01 212.74C432.33 213.05 431.87 214.12 431.16 214.04C430.45 213.97 429.55 212.87 428.74 212.29C427.93 211.7 426.87 211.33 426.31 210.54C425.76 209.76 425.72 208.56 425.41 207.57C425.09 206.58 424.31 205.3 424.43 204.62Z" fill="#fbcf94"/>
<path d="M425.74 205.57C425.95 204.52 427.52 203.61 428.47 203.89C429.41 204.17 430.46 205.99 431.41 207.25C432.35 208.51 434.21 210.5 434.14 211.45C434.07 212.39 432.14 213.13 430.99 212.92C429.83 212.71 428.08 211.41 427.21 210.19C426.33 208.96 425.53 206.62 425.74 205.57Z" fill="#f6b06a" opacity="0.9"/>
<path d="M427.4 207.15C427.53 206.5 428.5 205.94 429.08 206.11C429.66 206.28 430.31 207.4 430.89 208.18C431.47 208.96 432.61 210.18 432.57 210.76C432.53 211.35 431.34 211.8 430.63 211.67C429.92 211.54 428.84 210.74 428.3 209.99C427.77 209.24 427.27 207.79 427.4 207.15Z" fill="#f0984a" opacity="0.7"/>
<ellipse cx="430.97" cy="210.22" rx="1.2" ry="1.26" fill="#ffe6c4" opacity="0.55"/>
<ellipse cx="430.49" cy="206.42" rx="1.21" ry="1.34" fill="#e8883e" opacity="0.55"/>
<ellipse cx="429.86" cy="209.34" rx="1.25" ry="1.16" fill="#ffe6c4" opacity="0.55"/>
<path d="M456.74 205.97C457.09 205.44 457.79 205.13 458.37 204.81C458.96 204.5 459.71 203.79 460.24 204.08C460.77 204.38 461.01 205.82 461.55 206.59C462.09 207.35 463.12 207.93 463.47 208.66C463.82 209.39 463.56 210.19 463.65 210.96C463.74 211.72 464.31 212.69 464.01 213.24C463.7 213.78 462.58 214.09 461.82 214.22C461.06 214.36 460.06 214.4 459.43 214.04C458.8 213.68 458.47 212.74 458.03 212.06C457.58 211.39 457.03 210.68 456.74 210.01C456.44 209.33 456.25 208.66 456.25 207.99C456.25 207.31 456.38 206.5 456.74 205.97Z" fill="#fbcf94"/>
<path d="M457.2 207.1C457.66 206.33 459.06 205.28 459.93 205.63C460.81 205.98 461.96 208.01 462.45 209.2C462.94 210.39 463.4 212.07 462.87 212.77C462.35 213.47 460.25 213.82 459.3 213.4C458.36 212.98 457.55 211.3 457.2 210.25C456.85 209.2 456.75 207.87 457.2 207.1Z" fill="#f6b06a" opacity="0.9"/>
<path d="M459.07 208.13C459.35 207.66 460.21 207.01 460.75 207.23C461.29 207.44 462 208.69 462.3 209.43C462.6 210.16 462.88 211.19 462.56 211.62C462.24 212.05 460.94 212.27 460.36 212.01C459.78 211.75 459.29 210.72 459.07 210.07C458.86 209.43 458.79 208.61 459.07 208.13Z" fill="#f0984a" opacity="0.7"/>
<ellipse cx="459.73" cy="208.72" rx="0.55" ry="0.77" fill="#ffe6c4" opacity="0.55"/>
<ellipse cx="461.58" cy="210.28" rx="0.59" ry="0.88" fill="#e8883e" opacity="0.55"/>
<path d="M479.62 210.54C480 209.82 480.94 209.12 481.75 208.67C482.56 208.22 483.54 207.94 484.47 207.85C485.4 207.77 486.41 207.89 487.31 208.16C488.21 208.43 489.26 208.88 489.85 209.47C490.45 210.05 490.8 210.9 490.89 211.67C490.98 212.43 490.86 213.38 490.39 214.04C489.93 214.7 488.91 215.18 488.1 215.62C487.29 216.07 486.43 216.64 485.55 216.74C484.67 216.83 483.72 216.43 482.82 216.21C481.92 215.98 480.72 215.92 480.16 215.39C479.61 214.86 479.58 213.82 479.49 213.01C479.4 212.2 479.25 211.27 479.62 210.54Z" fill="#fbcf94"/>
<path d="M480.72 211.15C481.28 210.17 483.17 209.19 484.5 209.05C485.83 208.91 487.93 209.51 488.7 210.31C489.47 211.12 489.68 212.94 489.12 213.88C488.56 214.83 486.67 215.81 485.34 215.98C484.01 216.16 481.91 215.74 481.14 214.93C480.37 214.13 480.16 212.13 480.72 211.15Z" fill="#f6b06a" opacity="0.9"/>
<path d="M482.09 211.75C482.43 211.14 483.59 210.54 484.41 210.45C485.23 210.37 486.52 210.73 487 211.23C487.47 211.72 487.6 212.85 487.26 213.43C486.91 214.01 485.75 214.61 484.93 214.72C484.11 214.83 482.82 214.57 482.34 214.07C481.87 213.58 481.74 212.35 482.09 211.75Z" fill="#f0984a" opacity="0.7"/>
<ellipse cx="483.42" cy="211.91" rx="1.35" ry="0.96" fill="#ffe6c4" opacity="0.55"/>
<ellipse cx="484.18" cy="210.89" rx="0.98" ry="0.94" fill="#e8883e" opacity="0.55"/>
<ellipse cx="484.88" cy="211.27" rx="0.91" ry="0.77" fill="#ffe6c4" opacity="0.55"/>
<path d="M501.16 204.62C501.53 203.73 502.71 203.6 503.52 203.15C504.32 202.7 505.17 201.84 506.01 201.93C506.85 202.02 507.78 203 508.54 203.67C509.3 204.35 510.17 205.07 510.59 205.97C511 206.86 511.03 208.03 511.03 209.06C511.03 210.1 510.98 211.32 510.59 212.16C510.19 213 509.32 213.5 508.65 214.13C507.97 214.76 507.26 215.91 506.55 215.93C505.83 215.95 505.03 214.85 504.36 214.23C503.69 213.6 503.02 213.12 502.51 212.16C502 211.2 501.52 209.74 501.3 208.49C501.07 207.23 500.79 205.51 501.16 204.62Z" fill="#fbcf94"/>
<path d="M502 205.56C502.46 204.23 504.56 203.29 505.78 203.46C507.01 203.64 508.76 205.28 509.35 206.61C509.95 207.94 509.88 210.15 509.35 211.44C508.83 212.74 507.25 214.38 506.2 214.38C505.15 214.38 503.75 212.91 503.05 211.44C502.35 209.97 501.55 206.89 502 205.56Z" fill="#f6b06a" opacity="0.9"/>
<path d="M504.3 207.53C504.58 206.71 505.87 206.13 506.62 206.24C507.38 206.34 508.45 207.36 508.82 208.17C509.19 208.99 509.14 210.35 508.82 211.15C508.5 211.94 507.53 212.96 506.88 212.96C506.24 212.96 505.37 212.05 504.94 211.15C504.51 210.24 504.02 208.35 504.3 207.53Z" fill="#f0984a" opacity="0.7"/>
<ellipse cx="505.77" cy="207.39" rx="1.02" ry="1.52" fill="#ffe6c4" opacity="0.55"/>
<ellipse cx="506.39" cy="207.97" rx="1.31" ry="1.52" fill="#e8883e" opacity="0.55"/>
<ellipse cx="504.45" cy="206.64" rx="0.7" ry="0.96" fill="#ffe6c4" opacity="0.55"/>
<path d="M389.42 227.51C389.83 226.83 391 226.24 391.89 225.93C392.79 225.61 393.73 225.46 394.81 225.62C395.89 225.78 397.15 226.58 398.36 226.9C399.57 227.21 401.29 227.09 402.08 227.51C402.87 227.93 402.95 228.73 403.08 229.41C403.22 230.08 403.41 230.95 402.89 231.55C402.36 232.14 400.95 232.64 399.92 232.99C398.89 233.35 397.75 233.62 396.69 233.7C395.63 233.78 394.55 233.77 393.57 233.5C392.58 233.23 391.46 232.67 390.77 232.08C390.08 231.5 389.67 230.75 389.44 229.99C389.22 229.22 389.02 228.18 389.42 227.51Z" fill="#fbcf94"/>
<path d="M390.82 228.29C391.35 227.45 393.38 226.82 395.02 226.82C396.67 226.82 399.64 227.52 400.69 228.29C401.74 229.06 402.02 230.63 401.32 231.44C400.62 232.24 398.07 233.05 396.49 233.12C394.92 233.19 392.82 232.66 391.87 231.86C390.93 231.05 390.3 229.13 390.82 228.29Z" fill="#f6b06a" opacity="0.9"/>
<path d="M393.27 229.1C393.6 228.59 394.85 228.2 395.86 228.2C396.87 228.2 398.7 228.63 399.35 229.1C399.99 229.58 400.17 230.55 399.74 231.04C399.3 231.54 397.73 232.03 396.76 232.08C395.79 232.12 394.5 231.8 393.92 231.3C393.34 230.8 392.95 229.62 393.27 229.1Z" fill="#f0984a" opacity="0.7"/>
<ellipse cx="396.77" cy="228.88" rx="1.06" ry="0.87" fill="#ffe6c4" opacity="0.55"/>
<ellipse cx="396.99" cy="228.59" rx="1.09" ry="0.7" fill="#e8883e" opacity="0.55"/>
<ellipse cx="394.63" cy="228.93" rx="1.33" ry="0.79" fill="#ffe6c4" opacity="0.55"/>
<path d="M424.43 228.31C424.83 227.95 426.03 228 426.79 227.73C427.56 227.46 428.23 226.64 429 226.7C429.77 226.75 430.61 227.61 431.42 228.06C432.23 228.51 433.57 228.88 433.85 229.39C434.13 229.9 433.32 230.53 433.1 231.11C432.87 231.69 432.98 232.5 432.5 232.89C432.03 233.28 431 233.31 430.24 233.44C429.48 233.58 428.63 233.8 427.93 233.7C427.23 233.6 426.63 233.19 426.05 232.84C425.46 232.48 424.7 232.03 424.43 231.55C424.15 231.06 424.38 230.47 424.38 229.93C424.38 229.39 424.02 228.68 424.43 228.31Z" fill="#fbcf94"/>
<path d="M425.22 229.22C425.82 228.59 427.57 227.82 428.79 227.96C430.02 228.1 432.12 229.26 432.57 230.06C433.03 230.87 432.29 232.24 431.52 232.8C430.75 233.36 429 233.6 427.95 233.43C426.9 233.25 425.68 232.45 425.22 231.75C424.77 231.05 424.63 229.85 425.22 229.22Z" fill="#f6b06a" opacity="0.9"/>
<path d="M426.69 230.07C427.06 229.68 428.14 229.21 428.89 229.3C429.64 229.38 430.94 230.09 431.22 230.59C431.5 231.08 431.04 231.92 430.57 232.27C430.1 232.61 429.02 232.76 428.37 232.66C427.73 232.55 426.97 232.05 426.69 231.62C426.41 231.19 426.33 230.46 426.69 230.07Z" fill="#f0984a" opacity="0.7"/>
<ellipse cx="426.49" cy="230.8" rx="0.97" ry="0.44" fill="#ffe6c4" opacity="0.55"/>
<ellipse cx="427.92" cy="228.66" rx="1.06" ry="0.71" fill="#e8883e" opacity="0.55"/>
<path d="M454.85 232.89C455.31 232.44 456.33 232.3 456.96 231.85C457.58 231.4 458 230.23 458.62 230.2C459.24 230.16 460.1 231.06 460.68 231.64C461.26 232.22 461.88 232.96 462.12 233.7C462.36 234.44 462.27 235.3 462.13 236.06C462 236.82 461.82 237.77 461.31 238.28C460.81 238.78 459.86 238.96 459.1 239.1C458.34 239.23 457.37 239.28 456.74 239.08C456.1 238.89 455.69 238.4 455.29 237.95C454.88 237.5 454.5 236.95 454.31 236.39C454.13 235.83 454.1 235.16 454.19 234.58C454.28 234 454.39 233.35 454.85 232.89Z" fill="#fbcf94"/>
<path d="M455.44 233.74C456 232.93 457.43 231.53 458.38 231.64C459.32 231.74 460.76 233.32 461.11 234.37C461.46 235.42 461.18 237.24 460.48 237.94C459.78 238.64 457.82 238.81 456.91 238.57C456 238.32 455.26 237.27 455.02 236.47C454.77 235.66 454.88 234.54 455.44 233.74Z" fill="#f6b06a" opacity="0.9"/>
<path d="M456.39 234.5C456.74 234.01 457.62 233.15 458.2 233.21C458.79 233.27 459.67 234.24 459.88 234.89C460.1 235.54 459.93 236.66 459.5 237.09C459.07 237.52 457.86 237.63 457.3 237.47C456.74 237.32 456.29 236.68 456.14 236.18C455.98 235.69 456.05 235 456.39 234.5Z" fill="#f0984a" opacity="0.7"/>
<ellipse cx="457.82" cy="234.25" rx="0.59" ry="0.96" fill="#ffe6c4" opacity="0.55"/>
<ellipse cx="457.87" cy="235.68" rx="0.85" ry="0.99" fill="#e8883e" opacity="0.55"/>
<path d="M480.97 234.24C481.31 233.56 482.2 232.56 482.97 231.89C483.73 231.22 484.67 230.18 485.55 230.2C486.42 230.22 487.49 231.24 488.21 232.01C488.93 232.77 489.72 233.97 489.85 234.78C489.99 235.58 489.15 236.13 489.02 236.85C488.89 237.57 489.48 238.61 489.05 239.08C488.61 239.56 487.29 239.64 486.39 239.73C485.49 239.82 484.46 239.74 483.66 239.62C482.87 239.51 482.2 239.39 481.61 239.03C481.03 238.67 480.27 237.98 480.16 237.47C480.05 236.96 480.81 236.49 480.94 235.95C481.08 235.41 480.63 234.91 480.97 234.24Z" fill="#fbcf94"/>
<path d="M481.56 234.95C482.26 234 483.97 231.73 485.13 231.8C486.28 231.87 488.03 234.21 488.49 235.37C488.94 236.52 488.66 238.1 487.86 238.73C487.05 239.36 484.81 239.36 483.66 239.15C482.5 238.94 481.28 238.17 480.93 237.47C480.58 236.77 480.86 235.89 481.56 234.95Z" fill="#f6b06a" opacity="0.9"/>
<path d="M482.82 235.26C483.25 234.68 484.31 233.28 485.02 233.32C485.73 233.36 486.8 234.81 487.08 235.52C487.36 236.23 487.19 237.2 486.7 237.58C486.2 237.97 484.82 237.97 484.11 237.84C483.4 237.71 482.65 237.24 482.43 236.81C482.22 236.38 482.39 235.84 482.82 235.26Z" fill="#f0984a" opacity="0.7"/>
<ellipse cx="484.38" cy="236.77" rx="1.11" ry="1.04" fill="#ffe6c4" opacity="0.55"/>
<ellipse cx="484" cy="236.11" rx="0.85" ry="0.84" fill="#e8883e" opacity="0.55"/>
<ellipse cx="486.16" cy="237.46" rx="0.77" ry="0.83" fill="#ffe6c4" opacity="0.55"/>
<path d="M501.7 231.55C502.17 231.11 503.36 230.72 504.16 230.27C504.97 229.82 505.79 228.91 506.55 228.85C507.31 228.8 508.07 229.49 508.74 229.94C509.41 230.39 510.29 230.91 510.59 231.55C510.88 232.18 510.74 233.09 510.52 233.77C510.29 234.44 509.86 235.23 509.24 235.58C508.62 235.94 507.61 235.76 506.8 235.89C505.99 236.03 505.08 236.41 504.39 236.39C503.71 236.37 503.14 236.12 502.69 235.76C502.25 235.4 501.93 234.72 501.7 234.24C501.47 233.76 501.33 233.34 501.33 232.89C501.33 232.44 501.23 231.98 501.7 231.55Z" fill="#fbcf94"/>
<path d="M502.48 232.36C503.11 231.66 505.11 230.26 506.26 230.26C507.42 230.26 509.06 231.48 509.41 232.36C509.76 233.23 509.17 234.88 508.36 235.51C507.56 236.14 505.56 236.31 504.58 236.14C503.6 235.96 502.83 235.09 502.48 234.46C502.13 233.83 501.85 233.06 502.48 232.36Z" fill="#f6b06a" opacity="0.9"/>
<path d="M503.23 232.36C503.61 231.93 504.84 231.07 505.55 231.07C506.26 231.07 507.28 231.82 507.49 232.36C507.71 232.9 507.34 233.91 506.85 234.3C506.35 234.69 505.12 234.79 504.52 234.69C503.92 234.58 503.44 234.04 503.23 233.65C503.01 233.27 502.84 232.79 503.23 232.36Z" fill="#f0984a" opacity="0.7"/>
<ellipse cx="505.93" cy="232.05" rx="0.71" ry="0.52" fill="#ffe6c4" opacity="0.55"/>
<ellipse cx="506.76" cy="233.26" rx="1.2" ry="0.82" fill="#e8883e" opacity="0.55"/>
</g>
<text x="309" y="304.6" font-size="13.6" font-weight="700" stroke="#000" stroke-width="0.43">I</text>
<text x="324.7" y="295.2" font-size="9.8" stroke="#000" stroke-width="0.12">Control</text>
<text x="324.7" y="321.5" font-size="9.8" stroke="#000" stroke-width="0.12">Afatinib</text>
<text x="324.7" y="345.4" font-size="9.8" stroke="#000" stroke-width="0.12">MRTX1133</text>
<text x="324.7" y="356.5" font-size="9.8" stroke="#000" stroke-width="0.12">(LO)</text>
<text x="324.7" y="373.9" font-size="9.8" stroke="#000" stroke-width="0.12">MRTX1133</text>
<text x="324.7" y="385.6" font-size="9.8" stroke="#000" stroke-width="0.12">(HI)</text>
<text x="324.7" y="402.5" font-size="9.8" stroke="#000" stroke-width="0.12">Combo</text>
<rect x="383.5" y="276" width="135.3" height="133" fill="#12099b" stroke="#0c0578" stroke-width="0.7"/>
<g filter="url(#soft)">
<path d="M405.12 288.13C405.86 287.57 407.14 287.14 408.16 286.68C409.18 286.21 410.1 285.3 411.25 285.34C412.4 285.38 413.88 286.22 415.04 286.92C416.21 287.61 417.14 288.82 418.22 289.52C419.31 290.22 420.77 290.28 421.56 291.12C422.35 291.96 422.97 293.45 422.96 294.54C422.95 295.63 422.15 296.74 421.5 297.67C420.85 298.6 419.99 299.85 419.06 300.12C418.13 300.39 416.98 299.42 415.91 299.28C414.84 299.14 413.69 299.45 412.65 299.28C411.61 299.11 410.6 298.73 409.67 298.27C408.74 297.81 407.75 297.13 407.07 296.49C406.39 295.86 406.06 295.15 405.59 294.45C405.13 293.76 404.59 293.05 404.28 292.31C403.97 291.57 403.59 290.72 403.73 290.02C403.87 289.33 404.38 288.68 405.12 288.13Z" fill="#ecd8b6"/>
<path d="M406.71 289.37C407.62 288.46 409.8 287.01 411.5 287.19C413.2 287.37 415.42 289.26 416.94 290.45C418.46 291.65 420.53 292.99 420.64 294.37C420.74 295.75 418.93 298.1 417.59 298.72C416.25 299.34 414.15 298.54 412.59 298.07C411.03 297.6 409.32 296.8 408.24 295.89C407.15 294.99 406.32 293.72 406.06 292.63C405.81 291.54 405.81 290.27 406.71 289.37Z" fill="#e6c8a8" opacity="0.9"/>
<path d="M408.56 290.97C409.12 290.41 410.46 289.52 411.51 289.63C412.56 289.74 413.92 290.9 414.85 291.64C415.79 292.37 417.06 293.2 417.13 294.05C417.2 294.9 416.08 296.35 415.26 296.73C414.43 297.1 413.14 296.61 412.18 296.32C411.22 296.03 410.17 295.54 409.5 294.99C408.83 294.43 408.32 293.65 408.16 292.98C408 292.31 408 291.53 408.56 290.97Z" fill="#deb29c" opacity="0.7"/>
<ellipse cx="416.38" cy="295.24" rx="1.97" ry="1.34" fill="#f6ecd6" opacity="0.55"/>
<ellipse cx="413.1" cy="290.21" rx="1.7" ry="1.67" fill="#d09a8c" opacity="0.55"/>
<ellipse cx="407.93" cy="291.85" rx="1.67" ry="1.2" fill="#f6ecd6" opacity="0.55"/>
<ellipse cx="416.52" cy="294.6" rx="2.12" ry="1.6" fill="#d09a8c" opacity="0.55"/>
<ellipse cx="409.16" cy="295.88" rx="2.29" ry="1.61" fill="#f6ecd6" opacity="0.55"/>
<path d="M438.58 289.52C438.9 288.96 439.97 288.37 440.76 287.99C441.55 287.62 442.33 287.12 443.32 287.29C444.31 287.46 445.52 288.54 446.68 289.01C447.84 289.47 449.2 289.56 450.29 290.08C451.39 290.59 452.32 291.36 453.25 292.1C454.18 292.85 455.74 293.64 455.87 294.54C456 295.44 454.74 296.6 454.05 297.53C453.35 298.46 452.64 299.46 451.69 300.12C450.73 300.77 449.49 301.26 448.32 301.45C447.16 301.63 445.73 301.6 444.72 301.23C443.7 300.86 443.1 299.86 442.26 299.21C441.42 298.56 440.4 297.96 439.7 297.33C438.99 296.69 438.36 296.14 438.04 295.4C437.71 294.65 437.61 293.54 437.74 292.87C437.88 292.19 438.7 291.92 438.84 291.36C438.98 290.8 438.26 290.08 438.58 289.52Z" fill="#ecd8b6"/>
<path d="M439.89 291.01C440.62 290.28 442.07 289.2 443.59 289.27C445.11 289.34 447.4 290.5 449.03 291.44C450.66 292.39 453.2 293.62 453.38 294.92C453.56 296.23 451.56 298.41 450.11 299.28C448.66 300.15 446.24 300.51 444.68 300.15C443.12 299.78 441.67 298.19 440.76 297.1C439.86 296.01 439.38 294.63 439.24 293.62C439.09 292.6 439.17 291.73 439.89 291.01Z" fill="#e6c8a8" opacity="0.9"/>
<path d="M441.56 292.27C442 291.82 442.9 291.15 443.83 291.2C444.77 291.24 446.18 291.96 447.18 292.54C448.18 293.12 449.74 293.88 449.86 294.68C449.97 295.48 448.74 296.82 447.85 297.36C446.96 297.89 445.46 298.11 444.5 297.89C443.54 297.67 442.65 296.69 442.09 296.02C441.53 295.35 441.24 294.5 441.16 293.88C441.07 293.25 441.11 292.72 441.56 292.27Z" fill="#deb29c" opacity="0.7"/>
<ellipse cx="440.71" cy="292.93" rx="2.34" ry="1.1" fill="#f6ecd6" opacity="0.55"/>
<ellipse cx="442.28" cy="291.61" rx="1.49" ry="1.52" fill="#d09a8c" opacity="0.55"/>
<ellipse cx="447.07" cy="290.68" rx="1.55" ry="1.45" fill="#f6ecd6" opacity="0.55"/>
<ellipse cx="440.61" cy="295.1" rx="2.25" ry="0.85" fill="#d09a8c" opacity="0.55"/>
<ellipse cx="449.22" cy="292.95" rx="1.63" ry="1.64" fill="#f6ecd6" opacity="0.55"/>
<path d="M465.63 294.54C466.01 293.65 468.17 292.21 469.1 290.81C470.03 289.42 470.17 287.12 471.21 286.17C472.25 285.23 473.96 285.41 475.35 285.13C476.74 284.86 478.39 284.21 479.57 284.5C480.76 284.79 481.55 286.05 482.48 286.88C483.41 287.72 484.53 288.39 485.15 289.52C485.77 290.65 485.97 292.25 486.2 293.64C486.44 295.04 486.73 296.76 486.54 297.89C486.36 299.01 485.81 299.82 485.11 300.38C484.41 300.94 483.46 301.03 482.36 301.23C481.26 301.44 479.66 301.94 478.49 301.62C477.33 301.29 476.51 299.75 475.39 299.28C474.27 298.82 472.92 299.16 471.76 298.83C470.6 298.51 469.24 297.78 468.42 297.33C467.6 296.88 467.28 296.61 466.82 296.14C466.35 295.68 465.25 295.43 465.63 294.54Z" fill="#ecd8b6"/>
<path d="M468.25 294.48C468.61 293.03 470.79 289.26 472.6 287.96C474.41 286.65 477.31 286.22 479.12 286.65C480.94 287.09 482.57 288.83 483.48 290.57C484.38 292.31 484.93 295.57 484.56 297.09C484.2 298.62 482.75 299.52 481.3 299.7C479.85 299.88 477.67 298.69 475.86 298.18C474.05 297.67 471.69 297.27 470.42 296.66C469.16 296.04 467.89 295.93 468.25 294.48Z" fill="#e6c8a8" opacity="0.9"/>
<path d="M471.99 294.25C472.22 293.36 473.56 291.04 474.67 290.23C475.79 289.43 477.57 289.16 478.69 289.43C479.8 289.7 480.81 290.77 481.36 291.84C481.92 292.91 482.26 294.92 482.03 295.86C481.81 296.79 480.92 297.35 480.03 297.46C479.13 297.57 477.79 296.84 476.68 296.52C475.56 296.21 474.11 295.97 473.33 295.59C472.55 295.21 471.77 295.14 471.99 294.25Z" fill="#deb29c" opacity="0.7"/>
<ellipse cx="476.13" cy="293.02" rx="1.79" ry="1.13" fill="#f6ecd6" opacity="0.55"/>
<ellipse cx="480.98" cy="293.33" rx="2.28" ry="1.87" fill="#d09a8c" opacity="0.55"/>
<ellipse cx="479.48" cy="293.14" rx="2.73" ry="1.3" fill="#f6ecd6" opacity="0.55"/>
<ellipse cx="475.36" cy="290.02" rx="2.02" ry="1.66" fill="#d09a8c" opacity="0.55"/>
<ellipse cx="476.6" cy="292.65" rx="2.58" ry="1.2" fill="#f6ecd6" opacity="0.55"/>
<ellipse cx="476.25" cy="295.5" rx="1.88" ry="1.95" fill="#d09a8c" opacity="0.55"/>
<path d="M501.88 288.13C502.31 287.45 502.58 286.15 503.27 285.68C503.97 285.22 505.16 284.9 506.07 285.34C506.97 285.77 507.66 287.5 508.69 288.29C509.71 289.08 511.23 289.39 512.2 290.08C513.18 290.77 514.02 291.5 514.54 292.43C515.05 293.36 515.45 294.7 515.27 295.66C515.08 296.61 513.79 297.22 513.42 298.15C513.05 299.08 513.62 300.92 513.04 301.23C512.46 301.54 511.02 300.19 509.95 300C508.88 299.81 507.65 300.3 506.62 300.12C505.59 299.94 504.57 299.53 503.78 298.92C502.99 298.32 502.35 297.28 501.88 296.49C501.41 295.7 501.2 294.98 500.96 294.19C500.73 293.4 500.53 292.49 500.49 291.75C500.45 291.01 500.5 290.37 500.73 289.77C500.97 289.16 501.46 288.81 501.88 288.13Z" fill="#ecd8b6"/>
<path d="M502.99 289.7C503.72 288.87 504.92 287.27 506.26 287.53C507.6 287.78 509.85 289.89 511.04 291.23C512.24 292.57 513.33 294.13 513.43 295.58C513.54 297.03 512.82 299.35 511.69 299.93C510.57 300.51 508.14 299.67 506.69 299.06C505.24 298.44 503.79 297.32 502.99 296.23C502.2 295.14 501.91 293.62 501.91 292.53C501.91 291.44 502.27 290.54 502.99 289.7Z" fill="#e6c8a8" opacity="0.9"/>
<path d="M505.03 291.18C505.48 290.66 506.21 289.68 507.04 289.84C507.86 289.99 509.25 291.29 509.98 292.11C510.72 292.94 511.39 293.9 511.46 294.79C511.52 295.68 511.08 297.11 510.38 297.47C509.69 297.83 508.2 297.31 507.31 296.93C506.41 296.55 505.52 295.86 505.03 295.19C504.54 294.52 504.36 293.59 504.36 292.92C504.36 292.25 504.58 291.69 505.03 291.18Z" fill="#deb29c" opacity="0.7"/>
<ellipse cx="504.27" cy="292.72" rx="1.65" ry="1.07" fill="#f6ecd6" opacity="0.55"/>
<ellipse cx="505.34" cy="295.22" rx="1.99" ry="1.74" fill="#d09a8c" opacity="0.55"/>
<ellipse cx="506.42" cy="292" rx="2.01" ry="1.17" fill="#f6ecd6" opacity="0.55"/>
<ellipse cx="506.52" cy="294.75" rx="1.64" ry="1.71" fill="#d09a8c" opacity="0.55"/>
<path d="M406.23 317.41C406.74 316.68 407.4 315.56 408.23 315.1C409.07 314.63 410.21 314.58 411.25 314.62C412.29 314.66 413.44 314.97 414.46 315.34C415.49 315.71 416.84 316.18 417.39 316.85C417.94 317.52 417.49 318.59 417.77 319.38C418.05 320.17 419.02 320.73 419.06 321.59C419.1 322.45 418.46 323.61 418 324.54C417.53 325.47 417.04 326.37 416.27 327.17C415.51 327.96 414.47 328.86 413.4 329.33C412.33 329.79 410.83 330.1 409.86 329.96C408.88 329.81 408.32 328.95 407.53 328.48C406.74 328.02 405.7 327.83 405.12 327.17C404.53 326.5 404.17 325.41 404.03 324.48C403.89 323.55 404.09 322.43 404.28 321.59C404.47 320.75 404.85 320.16 405.18 319.46C405.5 318.76 405.72 318.13 406.23 317.41Z" fill="#ecd8b6"/>
<path d="M407.16 318.78C408.07 317.87 409.62 316.68 411.07 316.6C412.52 316.53 414.85 317.44 415.86 318.35C416.88 319.25 417.31 320.7 417.17 322.04C417.02 323.38 416.19 325.31 414.99 326.39C413.79 327.48 411.44 328.57 409.99 328.57C408.54 328.57 407.01 327.48 406.29 326.39C405.56 325.31 405.49 323.31 405.64 322.04C405.78 320.77 406.25 319.69 407.16 318.78Z" fill="#e6c8a8" opacity="0.9"/>
<path d="M408.27 320.05C408.83 319.49 409.78 318.75 410.68 318.71C411.57 318.67 413 319.22 413.62 319.78C414.25 320.34 414.51 321.23 414.42 322.06C414.34 322.88 413.82 324.06 413.09 324.73C412.35 325.4 410.9 326.07 410.01 326.07C409.12 326.07 408.18 325.4 407.73 324.73C407.29 324.06 407.24 322.84 407.33 322.06C407.42 321.28 407.71 320.61 408.27 320.05Z" fill="#deb29c" opacity="0.7"/>
<ellipse cx="412.11" cy="321.58" rx="1.44" ry="1.09" fill="#f6ecd6" opacity="0.55"/>
<ellipse cx="409.26" cy="323.89" rx="2.02" ry="1.79" fill="#d09a8c" opacity="0.55"/>
<ellipse cx="409.99" cy="325.22" rx="1.51" ry="1.01" fill="#f6ecd6" opacity="0.55"/>
<ellipse cx="410.98" cy="323.89" rx="1.45" ry="1.84" fill="#d09a8c" opacity="0.55"/>
<path d="M435.79 319.64C436.45 319.13 437.57 318.16 438.59 317.79C439.61 317.42 440.72 317.53 441.93 317.41C443.13 317.28 444.52 317.12 445.82 317.02C447.13 316.93 448.92 316.55 449.74 316.85C450.55 317.15 450.38 318.16 450.7 318.81C451.03 319.46 451.74 319.91 451.69 320.75C451.63 321.6 450.98 322.94 450.38 323.87C449.78 324.8 448.9 325.57 448.06 326.33C447.22 327.09 446.35 327.99 445.32 328.45C444.3 328.92 442.89 329.32 441.93 329.12C440.97 328.91 440.4 327.78 439.57 327.22C438.73 326.67 437.52 326.29 436.91 325.77C436.3 325.25 436.24 324.66 435.92 324.11C435.59 323.55 435.17 322.98 434.96 322.43C434.74 321.88 434.49 321.27 434.63 320.81C434.77 320.34 435.13 320.14 435.79 319.64Z" fill="#ecd8b6"/>
<path d="M437.34 320.54C438.24 319.88 440.31 319.16 442.12 318.8C443.93 318.43 446.94 317.93 448.21 318.36C449.48 318.8 449.95 320.17 449.73 321.41C449.52 322.64 448.17 324.67 446.91 325.76C445.64 326.84 443.57 328 442.12 327.93C440.67 327.86 439.11 326.19 438.21 325.32C437.3 324.45 436.83 323.51 436.68 322.71C436.54 321.91 436.43 321.19 437.34 320.54Z" fill="#e6c8a8" opacity="0.9"/>
<path d="M439.59 321.67C440.14 321.27 441.42 320.83 442.53 320.6C443.65 320.38 445.5 320.07 446.28 320.34C447.06 320.6 447.35 321.45 447.22 322.21C447.08 322.97 446.26 324.22 445.48 324.89C444.69 325.56 443.42 326.27 442.53 326.22C441.64 326.18 440.68 325.15 440.12 324.62C439.56 324.08 439.27 323.5 439.18 323.01C439.1 322.52 439.03 322.08 439.59 321.67Z" fill="#deb29c" opacity="0.7"/>
<ellipse cx="445.88" cy="321.54" rx="2.31" ry="1.1" fill="#f6ecd6" opacity="0.55"/>
<ellipse cx="442.35" cy="325.44" rx="1.48" ry="0.84" fill="#d09a8c" opacity="0.55"/>
<ellipse cx="444.57" cy="323.83" rx="2.24" ry="1" fill="#f6ecd6" opacity="0.55"/>
<ellipse cx="446.61" cy="321.42" rx="1.46" ry="1.1" fill="#d09a8c" opacity="0.55"/>
<path d="M468.42 316.85C468.82 316.16 469.75 315.31 470.54 314.71C471.33 314.1 472.17 313.27 473.16 313.22C474.15 313.18 475.38 313.96 476.45 314.42C477.52 314.89 478.68 315.35 479.57 316.01C480.46 316.67 481.33 317.46 481.8 318.39C482.26 319.32 482.48 320.54 482.36 321.59C482.25 322.64 481.43 323.64 481.1 324.71C480.78 325.78 481.02 327.15 480.41 328C479.8 328.86 478.53 329.5 477.46 329.83C476.39 330.15 474.95 330.31 474 329.96C473.05 329.6 472.55 328.4 471.76 327.71C470.97 327.01 469.9 326.49 469.26 325.77C468.61 325.06 468.2 324.26 467.92 323.43C467.64 322.59 467.55 321.52 467.58 320.75C467.61 319.99 467.96 319.47 468.1 318.82C468.24 318.17 468.01 317.53 468.42 316.85Z" fill="#ecd8b6"/>
<path d="M469.89 317.8C470.62 316.82 472.14 315.08 473.59 314.97C475.04 314.86 477.39 316.06 478.59 317.15C479.79 318.23 480.66 319.94 480.77 321.5C480.88 323.05 480.33 325.41 479.24 326.5C478.16 327.59 475.69 328.31 474.24 328.02C472.79 327.73 471.38 325.95 470.54 324.76C469.71 323.56 469.35 322 469.24 320.84C469.13 319.68 469.17 318.78 469.89 317.8Z" fill="#e6c8a8" opacity="0.9"/>
<path d="M472.03 319.32C472.48 318.72 473.42 317.65 474.31 317.58C475.2 317.52 476.65 318.25 477.39 318.92C478.12 319.59 478.66 320.64 478.72 321.6C478.79 322.56 478.46 324.01 477.79 324.68C477.12 325.35 475.6 325.79 474.71 325.61C473.82 325.44 472.95 324.34 472.43 323.61C471.92 322.87 471.7 321.91 471.63 321.2C471.56 320.48 471.59 319.93 472.03 319.32Z" fill="#deb29c" opacity="0.7"/>
<ellipse cx="475.14" cy="320.87" rx="1.93" ry="1.58" fill="#f6ecd6" opacity="0.55"/>
<ellipse cx="471.96" cy="319.6" rx="2.04" ry="1.42" fill="#d09a8c" opacity="0.55"/>
<ellipse cx="475.18" cy="321.02" rx="1.31" ry="1.61" fill="#f6ecd6" opacity="0.55"/>
<ellipse cx="471.68" cy="318.99" rx="1.82" ry="1.29" fill="#d09a8c" opacity="0.55"/>
<ellipse cx="473.35" cy="323.57" rx="1.27" ry="1.89" fill="#f6ecd6" opacity="0.55"/>
<path d="M494.35 317.96C495.06 317.37 496.42 316.69 497.44 316.04C498.46 315.39 499.3 314.6 500.49 314.06C501.68 313.52 503.19 312.94 504.59 312.8C505.98 312.66 507.57 312.89 508.85 313.22C510.14 313.55 511.11 314.32 512.27 314.78C513.44 315.25 514.96 315.24 515.83 316.01C516.69 316.78 517.01 318.23 517.47 319.4C517.94 320.56 518.58 321.77 518.61 322.98C518.65 324.19 518.17 325.5 517.7 326.66C517.24 327.82 516.67 329.03 515.83 329.96C514.98 330.88 513.81 331.97 512.65 332.2C511.49 332.43 510.1 331.58 508.85 331.35C507.61 331.12 506.34 331.2 505.18 330.82C504.02 330.45 502.97 329.68 501.88 329.12C500.8 328.56 499.75 328 498.68 327.44C497.61 326.89 496.33 326.32 495.47 325.77C494.61 325.22 493.83 324.84 493.51 324.14C493.18 323.44 493.56 322.34 493.52 321.59C493.47 320.83 493.08 320.22 493.22 319.61C493.36 319.01 493.65 318.56 494.35 317.96Z" fill="#ecd8b6"/>
<path d="M496.6 319.25C497.51 318.27 499.5 316.82 501.39 316.2C503.27 315.59 505.92 315.3 507.91 315.55C509.91 315.81 512.08 316.46 513.35 317.73C514.62 319 515.52 321.35 515.52 323.16C515.52 324.98 514.62 327.51 513.35 328.6C512.08 329.69 509.72 329.8 507.91 329.69C506.1 329.58 504.21 328.67 502.47 327.95C500.73 327.22 498.56 326.32 497.47 325.34C496.38 324.36 496.09 323.09 495.95 322.08C495.8 321.06 495.69 320.23 496.6 319.25Z" fill="#e6c8a8" opacity="0.9"/>
<path d="M500.38 320.83C500.93 320.23 502.16 319.34 503.32 318.96C504.48 318.58 506.11 318.4 507.34 318.56C508.56 318.71 509.9 319.11 510.68 319.89C511.46 320.68 512.02 322.13 512.02 323.24C512.02 324.36 511.46 325.92 510.68 326.59C509.9 327.26 508.45 327.32 507.34 327.26C506.22 327.19 505.06 326.63 503.99 326.19C502.92 325.74 501.58 325.18 500.91 324.58C500.24 323.98 500.06 323.2 499.97 322.57C499.88 321.95 499.82 321.43 500.38 320.83Z" fill="#deb29c" opacity="0.7"/>
<ellipse cx="509.8" cy="320.16" rx="3.28" ry="1.14" fill="#f6ecd6" opacity="0.55"/>
<ellipse cx="503.99" cy="323.85" rx="2.19" ry="1.52" fill="#d09a8c" opacity="0.55"/>
<ellipse cx="499.36" cy="321.96" rx="2.31" ry="1.47" fill="#f6ecd6" opacity="0.55"/>
<ellipse cx="506.48" cy="321.48" rx="1.78" ry="1.12" fill="#d09a8c" opacity="0.55"/>
<ellipse cx="506.5" cy="318.28" rx="2.81" ry="1.32" fill="#f6ecd6" opacity="0.55"/>
<ellipse cx="505.19" cy="320.72" rx="3.15" ry="2.17" fill="#d09a8c" opacity="0.55"/>
<ellipse cx="506.01" cy="320.75" rx="2.27" ry="1.4" fill="#f6ecd6" opacity="0.55"/>
<path d="M407.91 348.08C408.39 347.32 409.39 346.33 410.31 345.78C411.24 345.22 412.48 344.59 413.48 344.74C414.48 344.88 415.29 346.19 416.31 346.65C417.33 347.12 418.95 346.99 419.62 347.52C420.29 348.05 420.26 349.05 420.35 349.84C420.44 350.63 420.63 351.6 420.18 352.26C419.72 352.93 418.41 353.24 417.62 353.84C416.83 354.44 416.33 355.4 415.44 355.89C414.54 356.38 413.35 356.68 412.28 356.77C411.21 356.86 409.84 356.82 409.02 356.45C408.2 356.07 407.83 355.23 407.36 354.53C406.9 353.84 406.22 352.97 406.23 352.26C406.25 351.56 407.16 351.02 407.44 350.32C407.72 349.62 407.43 348.84 407.91 348.08Z" fill="#ecd8b6"/>
<path d="M409.3 349.16C410.24 348.18 412.13 346.62 413.65 346.55C415.17 346.48 417.57 347.75 418.44 348.73C419.31 349.71 419.42 351.34 418.87 352.43C418.33 353.51 416.62 354.71 415.17 355.25C413.72 355.8 411.37 356.16 410.17 355.69C408.97 355.22 408.14 353.51 408 352.43C407.85 351.34 408.36 350.14 409.3 349.16Z" fill="#e6c8a8" opacity="0.9"/>
<path d="M410.54 349.75C411.12 349.15 412.28 348.19 413.21 348.15C414.15 348.1 415.62 348.88 416.16 349.49C416.69 350.09 416.76 351.09 416.43 351.76C416.09 352.43 415.04 353.17 414.15 353.5C413.26 353.84 411.81 354.06 411.07 353.77C410.34 353.48 409.82 352.43 409.73 351.76C409.64 351.09 409.96 350.36 410.54 349.75Z" fill="#deb29c" opacity="0.7"/>
<ellipse cx="412.22" cy="350.72" rx="1.03" ry="0.88" fill="#f6ecd6" opacity="0.55"/>
<ellipse cx="411.13" cy="349.32" rx="1.44" ry="1.13" fill="#d09a8c" opacity="0.55"/>
<ellipse cx="410.04" cy="352.51" rx="1.43" ry="1.09" fill="#f6ecd6" opacity="0.55"/>
<ellipse cx="413.13" cy="352.67" rx="1.72" ry="1.06" fill="#d09a8c" opacity="0.55"/>
<path d="M436.35 348.64C436.75 347.84 437.79 346.86 438.71 346.4C439.64 345.93 440.82 345.92 441.93 345.85C443.03 345.78 444.33 345.6 445.35 345.98C446.38 346.35 447.31 347.36 448.06 348.08C448.81 348.8 449.46 349.46 449.84 350.3C450.21 351.13 450.55 352.36 450.29 353.1C450.03 353.84 448.83 354.11 448.27 354.76C447.72 355.41 447.76 356.47 446.95 357.01C446.13 357.54 444.58 357.9 443.38 357.99C442.17 358.09 440.61 357.98 439.7 357.56C438.78 357.15 438.52 356.14 437.87 355.49C437.22 354.84 436.05 354.38 435.79 353.66C435.53 352.94 436.21 352.01 436.3 351.17C436.4 350.34 435.95 349.44 436.35 348.64Z" fill="#ecd8b6"/>
<path d="M437.75 349.38C438.55 348.37 440.58 347.28 442.1 347.21C443.62 347.14 445.8 348.01 446.89 348.95C447.97 349.89 448.77 351.7 448.63 352.86C448.48 354.02 447.39 355.33 446.02 355.91C444.64 356.49 441.81 356.78 440.36 356.34C438.91 355.91 437.75 354.46 437.31 353.3C436.88 352.14 436.95 350.4 437.75 349.38Z" fill="#e6c8a8" opacity="0.9"/>
<path d="M440.03 351.16C440.52 350.54 441.77 349.87 442.71 349.82C443.65 349.78 444.98 350.31 445.65 350.89C446.32 351.47 446.81 352.59 446.72 353.3C446.63 354.02 445.97 354.82 445.12 355.18C444.27 355.53 442.53 355.71 441.64 355.44C440.75 355.18 440.03 354.28 439.76 353.57C439.5 352.86 439.54 351.79 440.03 351.16Z" fill="#deb29c" opacity="0.7"/>
<ellipse cx="440.64" cy="353.1" rx="1.13" ry="1.18" fill="#f6ecd6" opacity="0.55"/>
<ellipse cx="442.12" cy="351.56" rx="1.8" ry="1.12" fill="#d09a8c" opacity="0.55"/>
<ellipse cx="443.41" cy="352.32" rx="1.02" ry="1.37" fill="#f6ecd6" opacity="0.55"/>
<ellipse cx="443.82" cy="349.37" rx="1.53" ry="0.81" fill="#d09a8c" opacity="0.55"/>
<path d="M460.05 349.48C460.55 348.73 461.81 347.94 462.73 347.24C463.66 346.54 464.5 345.97 465.63 345.29C466.76 344.61 468.15 343.53 469.54 343.16C470.94 342.79 472.63 343.03 474 343.06C475.36 343.09 476.59 342.97 477.75 343.34C478.91 343.71 480.12 344.43 480.97 345.29C481.82 346.16 482.49 347.37 482.86 348.53C483.23 349.69 483.31 351.1 483.2 352.26C483.08 353.43 482.54 354.43 482.17 355.5C481.79 356.57 481.88 358.15 480.97 358.68C480.06 359.2 478.1 358.47 476.71 358.66C475.31 358.84 473.88 359.8 472.6 359.79C471.32 359.79 470.19 359.09 469.03 358.62C467.87 358.16 466.55 357.61 465.63 357.01C464.71 356.4 464.28 355.57 463.49 355.01C462.7 354.45 461.51 354.21 460.89 353.66C460.26 353.11 459.88 352.41 459.74 351.71C459.6 351.02 459.55 350.22 460.05 349.48Z" fill="#ecd8b6"/>
<path d="M462.54 350.29C463.15 349.2 465.07 347.86 466.89 347.03C468.7 346.19 471.42 345.29 473.41 345.29C475.4 345.29 477.65 345.83 478.85 347.03C480.04 348.22 480.59 350.73 480.59 352.47C480.59 354.21 480.23 356.49 478.85 357.47C477.47 358.45 474.32 358.56 472.32 358.34C470.33 358.12 468.41 356.96 466.89 356.16C465.36 355.37 463.91 354.53 463.19 353.55C462.46 352.58 461.92 351.38 462.54 350.29Z" fill="#e6c8a8" opacity="0.9"/>
<path d="M466.45 350.72C466.83 350.05 468.01 349.22 469.13 348.71C470.24 348.2 471.91 347.64 473.14 347.64C474.37 347.64 475.75 347.97 476.49 348.71C477.22 349.44 477.56 350.98 477.56 352.05C477.56 353.13 477.34 354.53 476.49 355.13C475.64 355.74 473.7 355.8 472.47 355.67C471.25 355.54 470.06 354.82 469.13 354.33C468.19 353.84 467.3 353.33 466.85 352.72C466.4 352.12 466.07 351.39 466.45 350.72Z" fill="#deb29c" opacity="0.7"/>
<ellipse cx="470.96" cy="352.91" rx="1.97" ry="1.65" fill="#f6ecd6" opacity="0.55"/>
<ellipse cx="474.09" cy="354.59" rx="2.96" ry="1.97" fill="#d09a8c" opacity="0.55"/>
<ellipse cx="469.35" cy="349.11" rx="2.12" ry="1.69" fill="#f6ecd6" opacity="0.55"/>
<ellipse cx="469.72" cy="353.02" rx="2.38" ry="1.1" fill="#d09a8c" opacity="0.55"/>
<ellipse cx="473.1" cy="351.99" rx="2.9" ry="1.93" fill="#f6ecd6" opacity="0.55"/>
<ellipse cx="466.51" cy="352.15" rx="2.8" ry="1.42" fill="#d09a8c" opacity="0.55"/>
<path d="M494.35 345.29C494.99 344.91 496.5 345.29 497.52 345.05C498.55 344.82 499.4 343.86 500.49 343.9C501.58 343.93 503.03 344.56 504.05 345.26C505.08 345.95 505.7 347.13 506.62 348.08C507.55 349.03 509.02 349.79 509.62 350.95C510.22 352.11 510.43 353.86 510.25 355.05C510.07 356.25 509.22 357.19 508.52 358.12C507.82 359.04 506.89 360.5 506.07 360.63C505.24 360.76 504.48 359.19 503.55 358.87C502.62 358.54 501.49 359.01 500.49 358.68C499.48 358.35 498.22 357.73 497.53 356.89C496.83 356.06 496.77 354.53 496.31 353.66C495.84 352.79 495.23 352.36 494.77 351.66C494.3 350.97 493.69 350.2 493.52 349.48C493.34 348.76 493.58 348.04 493.72 347.34C493.86 346.64 493.72 345.67 494.35 345.29Z" fill="#ecd8b6"/>
<path d="M495.65 346.83C496.56 346.1 498.84 345.38 500.44 345.74C502.03 346.1 503.96 347.55 505.22 349C506.49 350.45 508.12 352.81 508.05 354.44C507.98 356.07 506.06 358.32 504.79 358.79C503.52 359.26 501.71 358.17 500.44 357.27C499.17 356.36 498.08 354.55 497.18 353.35C496.27 352.16 495.26 351.18 495 350.09C494.75 349 494.75 347.55 495.65 346.83Z" fill="#e6c8a8" opacity="0.9"/>
<path d="M497.59 349.29C498.14 348.85 499.55 348.4 500.53 348.63C501.51 348.85 502.69 349.74 503.47 350.63C504.26 351.53 505.26 352.98 505.21 353.98C505.17 354.98 503.99 356.37 503.21 356.66C502.43 356.95 501.31 356.28 500.53 355.72C499.75 355.16 499.08 354.05 498.52 353.31C497.96 352.57 497.34 351.97 497.18 351.3C497.03 350.63 497.03 349.74 497.59 349.29Z" fill="#deb29c" opacity="0.7"/>
<ellipse cx="498.36" cy="349.43" rx="1.99" ry="1.29" fill="#f6ecd6" opacity="0.55"/>
<ellipse cx="502.79" cy="349.44" rx="1.88" ry="1.27" fill="#d09a8c" opacity="0.55"/>
<ellipse cx="499.46" cy="355.84" rx="2.08" ry="1.92" fill="#f6ecd6" opacity="0.55"/>
<ellipse cx="500.93" cy="353.14" rx="2.25" ry="2" fill="#d09a8c" opacity="0.55"/>
<ellipse cx="501.65" cy="349.08" rx="1.85" ry="1.11" fill="#f6ecd6" opacity="0.55"/>
<path d="M406.23 370.95C406.64 370.42 407.74 370.33 408.48 370.01C409.22 369.68 410.01 368.86 410.69 369C411.38 369.14 411.96 370.24 412.61 370.84C413.26 371.45 413.98 371.85 414.6 372.62C415.21 373.39 416.03 374.43 416.31 375.45C416.59 376.47 416.5 377.84 416.27 378.76C416.05 379.68 415.56 380.41 414.95 380.96C414.35 381.52 413.39 382.16 412.65 382.1C411.9 382.05 411.27 380.96 410.48 380.64C409.69 380.31 408.62 380.58 407.91 380.15C407.19 379.72 406.56 378.85 406.19 378.06C405.82 377.27 405.7 376.22 405.67 375.41C405.65 374.6 405.96 373.93 406.05 373.19C406.14 372.45 405.83 371.48 406.23 370.95Z" fill="#ecd8b6"/>
<path d="M407.15 372.45C407.81 371.61 409.55 370.7 410.63 370.92C411.72 371.14 412.95 372.48 413.68 373.75C414.4 375.02 415.24 377.3 414.98 378.54C414.73 379.77 413.24 380.96 412.16 381.15C411.07 381.33 409.36 380.49 408.46 379.62C407.55 378.75 406.93 377.12 406.72 375.93C406.5 374.73 406.5 373.28 407.15 372.45Z" fill="#e6c8a8" opacity="0.9"/>
<path d="M408.72 373.62C409.12 373.1 410.19 372.55 410.86 372.68C411.53 372.81 412.29 373.64 412.73 374.42C413.18 375.2 413.69 376.61 413.54 377.37C413.38 378.12 412.47 378.86 411.8 378.97C411.13 379.08 410.08 378.57 409.52 378.03C408.96 377.5 408.58 376.5 408.45 375.76C408.32 375.02 408.32 374.13 408.72 373.62Z" fill="#deb29c" opacity="0.7"/>
<ellipse cx="411.31" cy="376.88" rx="1.38" ry="1.57" fill="#f6ecd6" opacity="0.55"/>
<ellipse cx="410.66" cy="374.44" rx="1.28" ry="0.99" fill="#d09a8c" opacity="0.55"/>
<ellipse cx="410.93" cy="374.17" rx="0.89" ry="0.93" fill="#f6ecd6" opacity="0.55"/>
<path d="M434.96 374.57C435.53 373.79 436.77 373.29 437.7 372.69C438.62 372.08 439.72 370.87 440.53 370.95C441.35 371.03 441.8 372.56 442.59 373.17C443.38 373.77 444.82 373.87 445.27 374.57C445.72 375.28 445.38 376.46 445.29 377.39C445.19 378.32 445.25 379.59 444.72 380.15C444.18 380.72 442.91 380.46 442.07 380.78C441.24 381.11 440.53 381.95 439.7 382.1C438.86 382.26 437.87 382.05 437.08 381.72C436.29 381.4 435.43 380.88 434.96 380.15C434.48 379.42 434.24 378.29 434.24 377.36C434.24 376.43 434.38 375.35 434.96 374.57Z" fill="#ecd8b6"/>
<path d="M435.98 375.04C436.7 373.84 438.99 372.21 440.33 372.21C441.67 372.21 443.48 373.84 444.03 375.04C444.57 376.23 444.32 378.41 443.59 379.39C442.87 380.37 440.95 380.91 439.68 380.91C438.41 380.91 436.6 380.37 435.98 379.39C435.36 378.41 435.25 376.23 435.98 375.04Z" fill="#e6c8a8" opacity="0.9"/>
<path d="M437.53 376.2C437.97 375.46 439.38 374.46 440.2 374.46C441.03 374.46 442.14 375.46 442.48 376.2C442.81 376.94 442.66 378.28 442.21 378.88C441.77 379.48 440.58 379.81 439.8 379.81C439.02 379.81 437.91 379.48 437.53 378.88C437.15 378.28 437.08 376.94 437.53 376.2Z" fill="#deb29c" opacity="0.7"/>
<ellipse cx="437.73" cy="375.75" rx="0.82" ry="0.82" fill="#f6ecd6" opacity="0.55"/>
<ellipse cx="438.05" cy="377.06" rx="0.86" ry="1.02" fill="#d09a8c" opacity="0.55"/>
<ellipse cx="440.27" cy="378.46" rx="0.86" ry="0.86" fill="#f6ecd6" opacity="0.55"/>
<path d="M466.47 371.78C466.89 370.87 467.7 370.26 468.49 369.8C469.28 369.33 470.32 368.93 471.21 369C472.1 369.06 473.14 369.58 473.84 370.19C474.54 370.79 474.85 371.62 475.39 372.62C475.93 373.62 476.84 374.95 477.07 376.2C477.3 377.46 477.07 379.03 476.78 380.15C476.5 381.27 475.85 382.01 475.39 382.94C474.92 383.87 474.71 385.23 474 385.73C473.28 386.23 472.04 386.07 471.11 385.93C470.18 385.79 469.2 385.53 468.42 384.89C467.64 384.25 466.88 383.12 466.41 382.1C465.95 381.08 465.71 379.9 465.63 378.76C465.55 377.62 465.78 376.42 465.92 375.26C466.06 374.09 466.04 372.69 466.47 371.78Z" fill="#ecd8b6"/>
<path d="M467.46 373.34C468.19 372.07 470 371.05 471.16 371.16C472.32 371.27 473.7 372.54 474.42 373.99C475.15 375.44 475.69 378.16 475.51 379.86C475.33 381.57 474.42 383.6 473.33 384.21C472.25 384.83 470.07 384.47 468.98 383.56C467.9 382.65 467.06 380.48 466.81 378.77C466.56 377.07 466.74 374.6 467.46 373.34Z" fill="#e6c8a8" opacity="0.9"/>
<path d="M468.51 374.87C468.95 374.09 470.07 373.47 470.78 373.54C471.49 373.6 472.34 374.38 472.79 375.28C473.24 376.17 473.57 377.84 473.46 378.89C473.35 379.94 472.79 381.19 472.12 381.57C471.45 381.95 470.11 381.72 469.44 381.17C468.77 380.61 468.26 379.27 468.1 378.22C467.95 377.17 468.06 375.66 468.51 374.87Z" fill="#deb29c" opacity="0.7"/>
<ellipse cx="471.15" cy="378.5" rx="0.97" ry="1.26" fill="#f6ecd6" opacity="0.55"/>
<ellipse cx="471.49" cy="379.64" rx="1.42" ry="1.52" fill="#d09a8c" opacity="0.55"/>
<ellipse cx="470.12" cy="376.89" rx="1.04" ry="1.4" fill="#f6ecd6" opacity="0.55"/>
<ellipse cx="473.18" cy="376.64" rx="0.9" ry="1.06" fill="#d09a8c" opacity="0.55"/>
<path d="M495.47 375.41C495.95 374.73 496.69 373.66 497.44 372.92C498.18 372.17 499.02 371.03 499.93 370.95C500.84 370.87 501.99 371.85 502.92 372.46C503.85 373.06 504.69 373.83 505.51 374.57C506.33 375.31 507.38 375.96 507.84 376.89C508.31 377.82 508.63 379.36 508.3 380.15C507.96 380.94 506.66 381.14 505.82 381.61C504.98 382.07 504.23 382.62 503.28 382.94C502.32 383.26 501.1 383.64 500.07 383.5C499.05 383.37 497.93 382.54 497.14 382.1C496.35 381.66 495.72 381.44 495.35 380.88C494.98 380.32 495.04 379.41 494.91 378.76C494.78 378.11 494.46 377.53 494.55 376.98C494.65 376.42 494.99 376.09 495.47 375.41Z" fill="#ecd8b6"/>
<path d="M496.71 375.9C497.37 374.89 498.89 372.53 500.19 372.42C501.5 372.31 503.46 374.05 504.54 375.25C505.63 376.45 507.01 378.51 506.72 379.6C506.43 380.69 504.25 381.52 502.8 381.77C501.35 382.03 499.11 381.67 498.02 381.12C496.93 380.58 496.5 379.38 496.28 378.51C496.06 377.64 496.06 376.92 496.71 375.9Z" fill="#e6c8a8" opacity="0.9"/>
<path d="M497.59 376.74C497.99 376.12 498.93 374.67 499.73 374.6C500.54 374.54 501.74 375.61 502.41 376.34C503.08 377.08 503.93 378.35 503.75 379.02C503.57 379.69 502.23 380.2 501.34 380.36C500.45 380.51 499.06 380.29 498.39 379.96C497.73 379.62 497.46 378.89 497.32 378.35C497.19 377.82 497.19 377.37 497.59 376.74Z" fill="#deb29c" opacity="0.7"/>
<ellipse cx="501.35" cy="379.69" rx="1.8" ry="0.79" fill="#f6ecd6" opacity="0.55"/>
<ellipse cx="498.84" cy="375.63" rx="1.3" ry="1.01" fill="#d09a8c" opacity="0.55"/>
<ellipse cx="502.63" cy="378.26" rx="1.54" ry="1.25" fill="#f6ecd6" opacity="0.55"/>
<ellipse cx="503.75" cy="378.59" rx="1.45" ry="0.81" fill="#d09a8c" opacity="0.55"/>
<path d="M405.67 395.49C406.24 395.03 407.34 394.25 408.27 394.02C409.2 393.79 410.33 393.72 411.25 394.09C412.18 394.47 412.88 395.66 413.81 396.26C414.74 396.87 416.02 397.22 416.83 397.72C417.64 398.22 418.28 398.62 418.65 399.27C419.02 399.92 419.39 401.03 419.06 401.62C418.73 402.22 417.52 402.57 416.68 402.85C415.84 403.12 414.98 403.44 414.04 403.3C413.1 403.15 412.08 402.33 411.05 401.96C410.03 401.58 408.63 401.48 407.91 401.07C407.18 400.65 407.15 399.96 406.69 399.49C406.22 399.03 405.42 398.73 405.12 398.28C404.82 397.82 404.78 397.24 404.88 396.78C404.97 396.31 405.11 395.95 405.67 395.49Z" fill="#ecd8b6"/>
<path d="M406.93 396.12C407.73 395.58 409.83 394.74 411.28 395.03C412.73 395.32 414.61 396.88 415.63 397.86C416.64 398.84 417.73 400.18 417.37 400.91C417.01 401.63 414.9 402.28 413.45 402.21C412 402.14 409.83 401.12 408.67 400.47C407.51 399.82 406.78 399.02 406.49 398.3C406.2 397.57 406.13 396.67 406.93 396.12Z" fill="#e6c8a8" opacity="0.9"/>
<path d="M408.69 397.59C409.18 397.26 410.48 396.74 411.37 396.92C412.26 397.1 413.42 398.06 414.05 398.66C414.67 399.26 415.34 400.09 415.12 400.54C414.9 400.98 413.6 401.38 412.71 401.34C411.82 401.29 410.48 400.67 409.76 400.27C409.05 399.87 408.6 399.38 408.43 398.93C408.25 398.48 408.2 397.93 408.69 397.59Z" fill="#deb29c" opacity="0.7"/>
<ellipse cx="413.91" cy="398.15" rx="1.2" ry="1.02" fill="#f6ecd6" opacity="0.55"/>
<ellipse cx="412.43" cy="399.72" rx="1.88" ry="0.85" fill="#d09a8c" opacity="0.55"/>
<ellipse cx="410.35" cy="397.11" rx="1.44" ry="0.79" fill="#f6ecd6" opacity="0.55"/>
<path d="M436.35 396.05C436.79 395.62 437.98 395.48 438.82 395.3C439.65 395.11 440.68 394.66 441.37 394.93C442.06 395.21 442.41 396.29 442.97 396.94C443.53 397.6 444.49 398.13 444.72 398.83C444.94 399.54 444.53 400.41 444.29 401.15C444.06 401.9 443.89 402.92 443.32 403.3C442.75 403.67 441.65 403.52 440.86 403.38C440.07 403.24 439.2 402.84 438.58 402.46C437.96 402.08 437.59 401.59 437.13 401.12C436.66 400.66 435.95 400.21 435.79 399.67C435.63 399.13 436.07 398.48 436.17 397.87C436.26 397.27 435.91 396.48 436.35 396.05Z" fill="#ecd8b6"/>
<path d="M437.12 396.81C437.85 396.2 439.95 395.58 441.04 395.94C442.12 396.3 443.39 397.9 443.65 398.99C443.9 400.07 443.36 402 442.56 402.47C441.76 402.94 439.84 402.29 438.86 401.81C437.88 401.34 436.98 400.47 436.69 399.64C436.4 398.81 436.4 397.43 437.12 396.81Z" fill="#e6c8a8" opacity="0.9"/>
<path d="M438.05 397.9C438.5 397.52 439.79 397.14 440.46 397.36C441.13 397.58 441.91 398.57 442.07 399.23C442.22 399.9 441.89 401.09 441.4 401.38C440.91 401.67 439.73 401.26 439.12 400.97C438.52 400.68 437.96 400.15 437.79 399.64C437.61 399.12 437.61 398.28 438.05 397.9Z" fill="#deb29c" opacity="0.7"/>
<ellipse cx="437.88" cy="399.36" rx="1.2" ry="0.96" fill="#f6ecd6" opacity="0.55"/>
<ellipse cx="441.35" cy="399.75" rx="1.07" ry="0.69" fill="#d09a8c" opacity="0.55"/>
<path d="M466.47 396.88C466.84 396.38 467.81 396.31 468.46 395.98C469.11 395.66 469.67 394.86 470.37 394.93C471.07 395 472.07 395.77 472.68 396.42C473.28 397.07 473.85 397.96 474 398.83C474.14 399.71 473.78 400.76 473.55 401.69C473.32 402.62 473.1 403.85 472.6 404.41C472.1 404.97 471.25 404.92 470.56 405.06C469.86 405.2 468.98 405.57 468.42 405.25C467.85 404.93 467.58 403.86 467.16 403.16C466.74 402.46 466.06 401.76 465.91 401.07C465.75 400.37 466.14 399.68 466.23 398.98C466.33 398.28 466.1 397.38 466.47 396.88Z" fill="#ecd8b6"/>
<path d="M467.11 397.94C467.69 397.15 469.18 396.17 470.16 396.42C471.14 396.67 472.7 398.23 472.99 399.47C473.28 400.7 472.62 402.98 471.9 403.82C471.17 404.65 469.51 404.9 468.64 404.47C467.77 404.03 466.93 402.29 466.68 401.21C466.42 400.12 466.53 398.74 467.11 397.94Z" fill="#e6c8a8" opacity="0.9"/>
<path d="M467.96 399.21C468.32 398.72 469.23 398.12 469.84 398.28C470.44 398.43 471.4 399.39 471.58 400.15C471.75 400.91 471.35 402.31 470.91 402.83C470.46 403.34 469.43 403.5 468.9 403.23C468.36 402.96 467.85 401.89 467.69 401.22C467.54 400.55 467.6 399.7 467.96 399.21Z" fill="#deb29c" opacity="0.7"/>
<ellipse cx="470.02" cy="401.6" rx="0.66" ry="1.22" fill="#f6ecd6" opacity="0.55"/>
<ellipse cx="469.89" cy="399.59" rx="0.96" ry="0.83" fill="#d09a8c" opacity="0.55"/>
<ellipse cx="469.24" cy="400.37" rx="0.81" ry="1.19" fill="#f6ecd6" opacity="0.55"/>
<path d="M496.31 396.88C496.54 396.48 497.07 396.08 497.53 395.85C498 395.62 498.63 395.24 499.09 395.49C499.55 395.73 499.83 396.76 500.3 397.32C500.76 397.88 501.76 398.22 501.88 398.83C502.01 399.45 501.29 400.28 501.05 401.02C500.82 401.77 500.81 402.91 500.49 403.3C500.16 403.69 499.56 403.37 499.09 403.37C498.63 403.37 498.07 403.61 497.7 403.3C497.33 402.98 497.13 402.09 496.85 401.49C496.57 400.88 496.14 400.21 496.03 399.67C495.91 399.14 496.1 398.74 496.14 398.27C496.19 397.81 496.07 397.29 496.31 396.88Z" fill="#ecd8b6"/>
<path d="M496.88 397.51C497.28 396.96 498.33 396.16 499.06 396.42C499.78 396.67 501.05 398.01 501.23 399.03C501.41 400.04 500.69 401.93 500.14 402.51C499.6 403.09 498.55 402.98 497.97 402.51C497.39 402.04 496.84 400.51 496.66 399.68C496.48 398.85 496.48 398.05 496.88 397.51Z" fill="#e6c8a8" opacity="0.9"/>
<path d="M497.78 398.37C498.03 398.04 498.67 397.55 499.12 397.7C499.56 397.86 500.35 398.68 500.46 399.31C500.57 399.93 500.12 401.09 499.79 401.45C499.45 401.81 498.81 401.74 498.45 401.45C498.09 401.16 497.76 400.22 497.65 399.71C497.53 399.2 497.53 398.71 497.78 398.37Z" fill="#deb29c" opacity="0.7"/>
<ellipse cx="497.94" cy="397.74" rx="0.8" ry="0.83" fill="#f6ecd6" opacity="0.55"/>
<ellipse cx="498.15" cy="399.17" rx="0.71" ry="0.56" fill="#d09a8c" opacity="0.55"/>
</g>
<text x="309" y="460.2" font-size="13.6" font-weight="700" stroke="#000" stroke-width="0.43">L</text>
<text x="330.9" y="460.1" font-size="9.8" stroke="#000" stroke-width="0.12">Control</text>
<text x="330.9" y="493.1" font-size="9.8" stroke="#000" stroke-width="0.12">Afatinib</text>
<text x="330.9" y="529.5" font-size="9.8" stroke="#000" stroke-width="0.12">MRTX1133</text>
<text x="330.9" y="554.3" font-size="9.8" stroke="#000" stroke-width="0.12">Combo</text>
<rect x="383.4" y="440.6" width="137.1" height="130.9" fill="#12099b" stroke="#0c0578" stroke-width="0.7"/>
<g filter="url(#soft)">
<path d="M391.17 452.31C391.45 451.53 392.38 450.74 393.17 450.28C393.96 449.81 394.85 449.67 395.91 449.52C396.98 449.37 398.41 449.14 399.57 449.37C400.73 449.6 401.88 450.52 402.89 450.91C403.89 451.31 404.68 451.63 405.61 451.77C406.54 451.91 407.62 451.37 408.46 451.75C409.3 452.13 409.96 453.24 410.66 454.03C411.36 454.82 412.49 455.56 412.65 456.49C412.8 457.42 411.83 458.55 411.6 459.62C411.37 460.69 411.75 462.13 411.25 462.91C410.75 463.68 409.52 463.92 408.59 464.25C407.66 464.57 406.76 464.81 405.67 464.86C404.59 464.91 403.26 464.42 402.1 464.56C400.94 464.7 399.69 465.88 398.7 465.69C397.72 465.51 397.13 464.05 396.2 463.44C395.27 462.84 393.9 462.68 393.13 462.07C392.36 461.46 392.04 460.58 391.58 459.79C391.11 459 390.35 458.14 390.34 457.33C390.32 456.52 391.35 455.78 391.49 454.94C391.63 454.1 390.89 453.09 391.17 452.31Z" fill="#f2bc94"/>
<path d="M393.21 453.45C393.94 452.44 395.39 451.46 396.91 451.28C398.43 451.1 400.71 452.08 402.35 452.37C403.98 452.66 405.43 452.29 406.7 453.02C407.97 453.74 409.6 455.27 409.96 456.72C410.32 458.17 409.78 460.63 408.87 461.72C407.97 462.81 406.15 462.88 404.52 463.24C402.89 463.6 400.71 464.26 399.08 463.89C397.45 463.53 395.82 462.15 394.73 461.07C393.65 459.98 392.81 458.64 392.56 457.37C392.3 456.1 392.49 454.47 393.21 453.45Z" fill="#f0a484" opacity="0.9"/>
<path d="M396.78 455.71C397.22 455.08 398.11 454.48 399.05 454.37C399.99 454.26 401.39 454.86 402.4 455.04C403.4 455.22 404.29 455 405.08 455.44C405.86 455.89 406.86 456.82 407.08 457.72C407.31 458.61 406.97 460.13 406.41 460.8C405.86 461.46 404.74 461.51 403.74 461.73C402.73 461.96 401.39 462.36 400.39 462.13C399.39 461.91 398.38 461.06 397.71 460.39C397.04 459.72 396.53 458.9 396.37 458.12C396.22 457.34 396.33 456.33 396.78 455.71Z" fill="#ec9478" opacity="0.7"/>
<ellipse cx="402.2" cy="454.04" rx="1.63" ry="1.21" fill="#f8d8b0" opacity="0.55"/>
<ellipse cx="401.18" cy="456.56" rx="2.04" ry="1.19" fill="#e06858" opacity="0.55"/>
<ellipse cx="403.04" cy="456.73" rx="1.72" ry="1.29" fill="#f8d8b0" opacity="0.55"/>
<ellipse cx="404.65" cy="455.99" rx="2.92" ry="1.72" fill="#e06858" opacity="0.55"/>
<ellipse cx="405.09" cy="454.08" rx="2.56" ry="1.03" fill="#f8d8b0" opacity="0.55"/>
<ellipse cx="405.67" cy="459.68" rx="2.42" ry="1.94" fill="#e06858" opacity="0.55"/>
<path d="M426.03 450.08C426.52 449.2 427.96 449.05 428.98 448.73C430 448.4 431.11 447.96 432.17 448.13C433.22 448.29 434.39 449.03 435.32 449.73C436.25 450.43 436.78 451.66 437.74 452.31C438.71 452.96 439.95 453.38 441.11 453.61C442.27 453.84 444.08 453.09 444.72 453.7C445.35 454.32 444.67 456.13 444.9 457.29C445.13 458.45 446.33 459.57 446.11 460.67C445.89 461.77 444.27 462.73 443.57 463.89C442.87 465.05 442.74 466.68 441.93 467.65C441.12 468.62 439.87 469.24 438.71 469.71C437.55 470.17 436.18 470.41 434.96 470.44C433.73 470.46 432.51 469.7 431.35 469.84C430.19 469.98 429.02 471.46 427.98 471.27C426.94 471.08 425.67 469.76 425.11 468.69C424.55 467.62 424.54 466.06 424.64 464.86C424.74 463.65 425.52 462.62 425.7 461.45C425.89 460.29 425.7 459.13 425.75 457.89C425.81 456.64 425.98 455.29 426.03 453.99C426.08 452.69 425.54 450.95 426.03 450.08Z" fill="#f2bc94"/>
<path d="M427.64 452.66C428.48 451.39 430.9 450.85 432.43 451.14C433.95 451.43 435.15 453.68 436.78 454.4C438.41 455.13 441.13 454.4 442.22 455.49C443.3 456.58 443.67 459.11 443.3 460.93C442.94 462.74 441.49 465.1 440.04 466.36C438.59 467.63 436.41 468.07 434.6 468.54C432.79 469.01 430.51 469.92 429.16 469.19C427.82 468.47 426.84 465.93 426.55 464.19C426.26 462.45 427.24 460.67 427.42 458.75C427.61 456.83 426.81 453.93 427.64 452.66Z" fill="#f0a484" opacity="0.9"/>
<path d="M430.49 455.14C431 454.36 432.5 454.02 433.44 454.2C434.37 454.38 435.11 455.76 436.11 456.21C437.12 456.66 438.79 456.21 439.46 456.88C440.13 457.55 440.35 459.11 440.13 460.23C439.91 461.34 439.01 462.79 438.12 463.57C437.23 464.35 435.89 464.62 434.77 464.91C433.66 465.2 432.25 465.76 431.43 465.31C430.6 464.87 430 463.31 429.82 462.23C429.64 461.16 430.25 460.07 430.36 458.89C430.47 457.71 429.98 455.92 430.49 455.14Z" fill="#ec9478" opacity="0.7"/>
<ellipse cx="434.31" cy="455.02" rx="2.29" ry="1.41" fill="#f8d8b0" opacity="0.55"/>
<ellipse cx="431.08" cy="454.48" rx="2.88" ry="1.8" fill="#e06858" opacity="0.55"/>
<ellipse cx="433.28" cy="457.99" rx="2.29" ry="1.71" fill="#f8d8b0" opacity="0.55"/>
<ellipse cx="432.35" cy="459.39" rx="2.21" ry="1.93" fill="#e06858" opacity="0.55"/>
<ellipse cx="433.64" cy="465.39" rx="2.9" ry="2.22" fill="#f8d8b0" opacity="0.55"/>
<ellipse cx="435.2" cy="455.46" rx="2.64" ry="1.73" fill="#e06858" opacity="0.55"/>
<ellipse cx="433.85" cy="462.44" rx="2.27" ry="2.11" fill="#f8d8b0" opacity="0.55"/>
<ellipse cx="438.45" cy="456.91" rx="2.01" ry="1.91" fill="#e06858" opacity="0.55"/>
<path d="M455.87 450.91C456.37 450.51 457.81 451.16 458.74 451.02C459.67 450.88 460.25 449.87 461.45 450.08C462.64 450.28 464.73 451.17 465.89 452.24C467.06 453.31 467.61 455.31 468.42 456.49C469.23 457.67 469.96 458.38 470.75 459.31C471.54 460.24 472.71 461.02 473.16 462.07C473.61 463.12 473.56 464.44 473.47 465.6C473.38 466.76 473.31 468.16 472.6 469.04C471.89 469.92 470.37 470.34 469.2 470.9C468.04 471.45 466.85 472.33 465.63 472.39C464.41 472.44 463.05 471.8 461.89 471.24C460.73 470.68 459.63 469.94 458.66 469.04C457.69 468.14 456.76 467.02 456.06 465.86C455.36 464.7 454.71 463.24 454.48 462.07C454.24 460.9 454.63 459.93 454.63 458.86C454.63 457.79 454.29 456.56 454.48 455.66C454.66 454.75 455.49 454.24 455.73 453.45C455.96 452.66 455.37 451.32 455.87 450.91Z" fill="#f2bc94"/>
<path d="M457.19 453.46C458.09 452.74 459.91 452.09 461.54 452.81C463.17 453.54 465.45 456.26 466.97 457.81C468.5 459.37 470.13 460.53 470.67 462.16C471.22 463.8 471.22 466.26 470.24 467.6C469.26 468.94 466.61 470.21 464.8 470.21C462.99 470.21 460.81 468.94 459.36 467.6C457.91 466.26 456.64 463.9 456.1 462.16C455.55 460.42 455.92 458.61 456.1 457.16C456.28 455.71 456.28 454.19 457.19 453.46Z" fill="#f0a484" opacity="0.9"/>
<path d="M459.59 456.47C460.15 456.02 461.27 455.62 462.27 456.07C463.28 456.51 464.68 458.19 465.62 459.15C466.55 460.11 467.56 460.82 467.89 461.82C468.23 462.83 468.23 464.34 467.63 465.17C467.02 465.99 465.39 466.78 464.28 466.78C463.16 466.78 461.83 465.99 460.93 465.17C460.04 464.34 459.26 462.89 458.92 461.82C458.59 460.75 458.81 459.64 458.92 458.74C459.04 457.85 459.04 456.91 459.59 456.47Z" fill="#ec9478" opacity="0.7"/>
<ellipse cx="461.3" cy="456.25" rx="2.21" ry="1.99" fill="#f8d8b0" opacity="0.55"/>
<ellipse cx="464.61" cy="456.39" rx="1.93" ry="1.54" fill="#e06858" opacity="0.55"/>
<ellipse cx="462.21" cy="463.22" rx="1.8" ry="2.57" fill="#f8d8b0" opacity="0.55"/>
<ellipse cx="465.77" cy="464.14" rx="2.05" ry="1.72" fill="#e06858" opacity="0.55"/>
<ellipse cx="461.77" cy="458.15" rx="1.6" ry="2.21" fill="#f8d8b0" opacity="0.55"/>
<ellipse cx="460.6" cy="456.55" rx="1.86" ry="2.1" fill="#e06858" opacity="0.55"/>
<ellipse cx="464.52" cy="456.07" rx="1.61" ry="1.95" fill="#f8d8b0" opacity="0.55"/>
<path d="M487.1 455.1C487.22 454.06 488.27 453.23 489.11 452.67C489.95 452.11 490.92 451.97 492.12 451.75C493.33 451.53 494.96 451.26 496.35 451.35C497.74 451.44 499.37 451.75 500.49 452.31C501.6 452.87 502.12 454.01 503.05 454.71C503.98 455.4 505.72 455.62 506.07 456.49C506.41 457.36 505.22 458.76 505.13 459.93C505.04 461.09 505.97 462.56 505.51 463.46C505.05 464.37 503.21 464.51 502.37 465.35C501.54 466.19 501.38 468.07 500.49 468.48C499.6 468.89 498.2 467.95 497.03 467.81C495.87 467.67 494.61 468.02 493.52 467.65C492.43 467.27 491.43 466.34 490.5 465.55C489.57 464.76 488.29 464.01 487.94 462.91C487.59 461.8 488.53 460.21 488.39 458.91C488.25 457.61 486.98 456.14 487.1 455.1Z" fill="#f2bc94"/>
<path d="M489.43 456.53C489.97 455.08 491.61 454.28 493.35 453.92C495.09 453.56 498.06 453.74 499.87 454.36C501.68 454.97 503.57 456.17 504.22 457.62C504.87 459.07 504.51 461.5 503.79 463.06C503.06 464.62 501.43 466.43 499.87 466.97C498.31 467.52 496.07 467.04 494.43 466.32C492.8 465.59 490.92 464.25 490.08 462.62C489.25 460.99 488.89 457.98 489.43 456.53Z" fill="#f0a484" opacity="0.9"/>
<path d="M492.36 458.24C492.7 457.35 493.7 456.86 494.77 456.64C495.84 456.41 497.67 456.52 498.79 456.9C499.9 457.28 501.06 458.02 501.46 458.91C501.87 459.8 501.64 461.3 501.2 462.26C500.75 463.22 499.75 464.33 498.79 464.67C497.83 465 496.45 464.71 495.44 464.27C494.44 463.82 493.28 462.99 492.76 461.99C492.25 460.99 492.03 459.13 492.36 458.24Z" fill="#ec9478" opacity="0.7"/>
<ellipse cx="493.52" cy="461.84" rx="2.61" ry="1.66" fill="#f8d8b0" opacity="0.55"/>
<ellipse cx="500.18" cy="456.83" rx="1.53" ry="1.16" fill="#e06858" opacity="0.55"/>
<ellipse cx="496.83" cy="455.29" rx="2.1" ry="1.8" fill="#f8d8b0" opacity="0.55"/>
<ellipse cx="496.37" cy="457.2" rx="2.41" ry="1.77" fill="#e06858" opacity="0.55"/>
<ellipse cx="500.71" cy="459.05" rx="1.33" ry="1.68" fill="#f8d8b0" opacity="0.55"/>
<path d="M392.29 483.54C392.7 482.52 393.48 481.64 394.31 481.32C395.15 480.99 396.41 481.39 397.31 481.59C398.21 481.79 399.01 482.07 399.7 482.53C400.4 482.99 400.67 484.2 401.49 484.38C402.32 484.55 403.73 483.34 404.66 483.57C405.59 483.81 406.34 484.99 407.07 485.77C407.8 486.55 408.82 487.31 409.05 488.24C409.28 489.17 408.9 490.47 408.46 491.35C408.03 492.22 407.12 492.79 406.42 493.49C405.72 494.19 404.64 494.7 404.28 495.53C403.93 496.37 404.52 497.57 404.29 498.5C404.06 499.43 403.55 500.42 402.89 501.11C402.22 501.8 401.22 502.3 400.29 502.62C399.36 502.95 398.32 503.24 397.31 503.06C396.3 502.88 394.93 502.35 394.24 501.56C393.54 500.77 393.37 499.47 393.13 498.32C392.88 497.17 393.09 495.82 392.77 494.66C392.44 493.5 391.33 492.55 391.17 491.35C391.02 490.15 391.65 488.76 391.84 487.46C392.02 486.16 391.88 484.57 392.29 483.54Z" fill="#f2bc94"/>
<path d="M393.87 485.53C394.67 484.26 396.59 483.9 397.79 484.01C398.98 484.12 399.78 485.64 401.05 486.19C402.32 486.73 404.49 486.37 405.4 487.27C406.31 488.18 406.85 490.36 406.49 491.62C406.13 492.89 403.95 493.62 403.23 494.89C402.5 496.16 403.04 498.26 402.14 499.24C401.23 500.22 399.06 501.12 397.79 500.76C396.52 500.4 395.32 498.58 394.53 497.06C393.73 495.54 393.11 493.55 393 491.62C392.89 489.7 393.07 486.8 393.87 485.53Z" fill="#f0a484" opacity="0.9"/>
<path d="M395.67 488.2C396.17 487.42 397.35 487.2 398.08 487.26C398.82 487.33 399.31 488.27 400.09 488.6C400.87 488.94 402.21 488.71 402.77 489.27C403.33 489.83 403.66 491.17 403.44 491.95C403.22 492.73 401.88 493.18 401.43 493.96C400.98 494.74 401.32 496.03 400.76 496.63C400.2 497.24 398.86 497.79 398.08 497.57C397.3 497.35 396.57 496.23 396.08 495.3C395.59 494.36 395.21 493.13 395.14 491.95C395.07 490.77 395.18 488.98 395.67 488.2Z" fill="#ec9478" opacity="0.7"/>
<ellipse cx="399.53" cy="489.64" rx="1.38" ry="1.94" fill="#f8d8b0" opacity="0.55"/>
<ellipse cx="401.19" cy="493.85" rx="1.53" ry="1.35" fill="#e06858" opacity="0.55"/>
<ellipse cx="397.39" cy="495.85" rx="1.87" ry="1.56" fill="#f8d8b0" opacity="0.55"/>
<ellipse cx="400.7" cy="492.09" rx="2.41" ry="2.27" fill="#e06858" opacity="0.55"/>
<ellipse cx="397.14" cy="489.38" rx="2.24" ry="1.43" fill="#f8d8b0" opacity="0.55"/>
<ellipse cx="400.28" cy="486.6" rx="1.57" ry="2.23" fill="#e06858" opacity="0.55"/>
<path d="M424.64 489.96C425.22 488.91 426.1 487.75 427.13 487.29C428.15 486.82 429.62 486.89 430.77 487.17C431.92 487.44 432.87 488.61 434.04 488.94C435.2 489.26 436.76 488.64 437.74 489.12C438.73 489.59 439.15 490.95 439.94 491.79C440.73 492.63 442.24 493.18 442.48 494.14C442.73 495.1 441.62 496.38 441.43 497.55C441.25 498.71 441.88 500.36 441.37 501.11C440.86 501.86 439.28 501.57 438.35 502.04C437.42 502.5 436.75 503.75 435.79 503.9C434.83 504.05 433.65 503.28 432.58 502.95C431.51 502.63 430.25 502.54 429.38 501.95C428.51 501.35 428.06 500.21 427.37 499.37C426.67 498.53 425.81 497.9 425.2 496.93C424.58 495.96 423.75 494.7 423.65 493.54C423.56 492.38 424.06 491 424.64 489.96Z" fill="#f2bc94"/>
<path d="M426.51 491.44C427.24 490.17 429.59 489.37 431.3 489.26C433 489.15 435.21 489.88 436.74 490.79C438.26 491.69 439.96 493.14 440.43 494.7C440.91 496.26 440.43 498.87 439.56 500.14C438.69 501.41 436.77 502.2 435.21 502.31C433.66 502.42 431.59 501.7 430.21 500.79C428.83 499.88 427.56 498.43 426.95 496.88C426.33 495.32 425.79 492.71 426.51 491.44Z" fill="#f0a484" opacity="0.9"/>
<path d="M428.88 493.02C429.33 492.23 430.78 491.74 431.82 491.68C432.87 491.61 434.23 492.06 435.17 492.61C436.11 493.17 437.16 494.06 437.45 495.02C437.74 495.98 437.45 497.59 436.91 498.37C436.38 499.15 435.19 499.64 434.23 499.71C433.27 499.78 432 499.33 431.15 498.77C430.31 498.21 429.53 497.32 429.15 496.36C428.77 495.4 428.43 493.8 428.88 493.02Z" fill="#ec9478" opacity="0.7"/>
<ellipse cx="432.96" cy="496.31" rx="1.91" ry="1.55" fill="#f8d8b0" opacity="0.55"/>
<ellipse cx="433.05" cy="496.94" rx="2.23" ry="1.71" fill="#e06858" opacity="0.55"/>
<ellipse cx="432.15" cy="498.02" rx="1.93" ry="1.49" fill="#f8d8b0" opacity="0.55"/>
<ellipse cx="435.89" cy="495.27" rx="2.1" ry="1.72" fill="#e06858" opacity="0.55"/>
<ellipse cx="430.31" cy="497.2" rx="1.97" ry="1.63" fill="#f8d8b0" opacity="0.55"/>
<path d="M460.05 482.43C460.62 481.58 461.77 481.38 462.7 481.1C463.63 480.82 464.62 480.46 465.63 480.75C466.64 481.05 467.84 482.04 468.77 482.88C469.69 483.71 470.55 484.73 471.21 485.77C471.87 486.81 472.41 487.94 472.73 489.1C473.06 490.27 473.12 491.52 473.16 492.74C473.2 493.97 473.28 495.28 472.96 496.45C472.63 497.61 471.99 498.7 471.21 499.72C470.43 500.73 469.44 501.98 468.27 502.54C467.11 503.1 465.62 502.9 464.24 503.06C462.85 503.22 461.28 503.83 459.98 503.5C458.68 503.18 457.27 501.95 456.43 501.11C455.59 500.27 455.02 499.37 454.93 498.44C454.83 497.51 455.28 496.42 455.87 495.53C456.46 494.65 457.78 494.06 458.48 493.13C459.18 492.2 459.92 491.11 460.05 489.96C460.18 488.8 459.27 487.45 459.27 486.19C459.27 484.94 459.48 483.27 460.05 482.43Z" fill="#f2bc94"/>
<path d="M460.74 485.1C461.46 483.9 463.64 483.36 465.09 483.79C466.54 484.23 468.46 486.15 469.44 487.71C470.42 489.27 470.96 491.33 470.96 493.15C470.96 494.96 470.6 497.24 469.44 498.58C468.28 499.93 465.92 501.01 464 501.19C462.08 501.38 459 500.65 457.91 499.67C456.82 498.69 457 496.77 457.47 495.32C457.95 493.87 460.19 492.68 460.74 490.97C461.28 489.27 460.01 486.29 460.74 485.1Z" fill="#f0a484" opacity="0.9"/>
<path d="M462.35 487.91C462.79 487.18 464.13 486.84 465.02 487.11C465.92 487.38 467.1 488.56 467.7 489.52C468.3 490.48 468.64 491.75 468.64 492.87C468.64 493.98 468.41 495.39 467.7 496.21C466.99 497.04 465.54 497.71 464.35 497.82C463.17 497.93 461.28 497.48 460.61 496.88C459.94 496.28 460.05 495.1 460.34 494.2C460.63 493.31 462.01 492.58 462.35 491.53C462.68 490.48 461.9 488.65 462.35 487.91Z" fill="#ec9478" opacity="0.7"/>
<ellipse cx="466.67" cy="497.29" rx="2.03" ry="2.57" fill="#f8d8b0" opacity="0.55"/>
<ellipse cx="465.29" cy="497.42" rx="1.76" ry="2.02" fill="#e06858" opacity="0.55"/>
<ellipse cx="468.51" cy="491.74" rx="1.38" ry="1.42" fill="#f8d8b0" opacity="0.55"/>
<ellipse cx="460.86" cy="495.22" rx="2.05" ry="2.26" fill="#e06858" opacity="0.55"/>
<ellipse cx="465.66" cy="489.51" rx="1.72" ry="2.14" fill="#f8d8b0" opacity="0.55"/>
<ellipse cx="464.72" cy="497.28" rx="2" ry="2.36" fill="#e06858" opacity="0.55"/>
<path d="M396.75 522.02C397.25 521.22 398.83 520.68 399.85 519.98C400.88 519.29 401.78 518.28 402.89 517.84C403.99 517.4 405.32 517.19 406.48 517.32C407.65 517.46 409.19 518.04 409.86 518.68C410.53 519.32 410.18 520.39 410.51 521.18C410.83 521.97 411.85 522.57 411.81 523.42C411.77 524.27 410.82 525.35 410.26 526.28C409.71 527.21 409.33 528.35 408.46 529C407.6 529.64 406.23 529.92 405.07 530.15C403.91 530.38 402.46 530.61 401.49 530.39C400.52 530.17 400.02 529.27 399.23 528.8C398.44 528.34 397.15 528.27 396.75 527.6C396.35 526.94 396.85 525.74 396.85 524.81C396.85 523.88 396.25 522.83 396.75 522.02Z" fill="#eec088"/>
<path d="M398.35 522.43C399.15 521.16 401.43 519.6 403.14 519.17C404.84 518.73 407.41 519.1 408.57 519.82C409.73 520.55 410.28 522.18 410.1 523.52C409.91 524.86 408.83 526.96 407.49 527.87C406.14 528.78 403.57 529.14 402.05 528.96C400.52 528.78 398.97 527.87 398.35 526.78C397.73 525.69 397.55 523.7 398.35 522.43Z" fill="#e8ac72" opacity="0.9"/>
<path d="M400.61 523.76C401.11 522.97 402.51 522.02 403.56 521.75C404.61 521.48 406.19 521.7 406.91 522.15C407.62 522.6 407.95 523.6 407.84 524.43C407.73 525.25 407.06 526.54 406.24 527.1C405.41 527.66 403.83 527.88 402.89 527.77C401.95 527.66 400.99 527.1 400.61 526.43C400.24 525.76 400.12 524.54 400.61 523.76Z" fill="#e09c60" opacity="0.7"/>
<ellipse cx="407.26" cy="522.42" rx="1.59" ry="1.1" fill="#f6d8a8" opacity="0.55"/>
<ellipse cx="404.32" cy="525.34" rx="1.48" ry="0.91" fill="#cc8848" opacity="0.55"/>
<ellipse cx="403.12" cy="526.79" rx="1.65" ry="1.37" fill="#f6d8a8" opacity="0.55"/>
<ellipse cx="403.28" cy="523.02" rx="1.2" ry="1.03" fill="#cc8848" opacity="0.55"/>
<path d="M426.59 517.84C427.3 517.29 428.58 517.18 429.51 516.71C430.44 516.25 431.02 515.22 432.17 515.05C433.32 514.89 435.03 515.39 436.42 515.72C437.82 516.04 439.82 516.24 440.53 517.01C441.24 517.77 440.46 519.26 440.69 520.33C440.93 521.4 442 522.52 441.93 523.42C441.86 524.32 440.97 525.13 440.27 525.74C439.58 526.34 438.86 526.88 437.74 527.04C436.62 527.21 434.95 526.86 433.55 526.72C432.16 526.58 430.46 526.55 429.38 526.21C428.3 525.86 427.77 525.25 427.07 524.64C426.38 524.04 425.49 523.35 425.2 522.58C424.9 521.81 425.04 520.82 425.28 520.03C425.51 519.24 425.88 518.39 426.59 517.84Z" fill="#eec088"/>
<path d="M427.82 518.96C428.73 517.98 430.36 516.9 432.18 516.79C433.99 516.68 437.43 517.22 438.7 518.31C439.97 519.4 440.15 522.01 439.79 523.31C439.43 524.62 438.16 525.78 436.53 526.14C434.89 526.5 431.63 526.07 430 525.49C428.37 524.91 427.1 523.75 426.74 522.66C426.37 521.57 426.92 519.94 427.82 518.96Z" fill="#e8ac72" opacity="0.9"/>
<path d="M430.15 520.12C430.71 519.51 431.71 518.84 432.83 518.78C433.94 518.71 436.06 519.04 436.84 519.71C437.62 520.38 437.73 521.99 437.51 522.79C437.29 523.6 436.51 524.31 435.5 524.53C434.5 524.76 432.49 524.49 431.49 524.13C430.48 523.77 429.7 523.06 429.48 522.39C429.26 521.72 429.59 520.72 430.15 520.12Z" fill="#e09c60" opacity="0.7"/>
<ellipse cx="434.57" cy="518.81" rx="1.48" ry="1.22" fill="#f6d8a8" opacity="0.55"/>
<ellipse cx="437.25" cy="520.02" rx="1.24" ry="0.85" fill="#cc8848" opacity="0.55"/>
<ellipse cx="434.12" cy="521.8" rx="1.43" ry="1.15" fill="#f6d8a8" opacity="0.55"/>
<ellipse cx="432.45" cy="523.06" rx="1.65" ry="1.3" fill="#cc8848" opacity="0.55"/>
<path d="M458.66 517.84C459.16 517.18 460.7 517.27 461.63 516.81C462.56 516.34 463.32 515.07 464.24 515.05C465.15 515.04 466.18 516.13 467.11 516.73C468.04 517.34 469.09 517.76 469.81 518.68C470.54 519.6 471.22 521.01 471.45 522.27C471.68 523.52 471.67 525.22 471.21 526.21C470.75 527.2 469.38 527.41 468.69 528.2C467.99 528.99 467.88 530.66 467.02 530.95C466.17 531.24 464.71 530.28 463.54 529.95C462.38 529.63 460.92 529.59 460.05 529C459.18 528.4 458.78 527.31 458.31 526.38C457.85 525.45 457.21 524.35 457.26 523.42C457.31 522.49 458.38 521.72 458.62 520.79C458.85 519.86 458.16 518.51 458.66 517.84Z" fill="#eec088"/>
<path d="M460.02 519C460.93 517.91 462.92 516.72 464.37 516.83C465.82 516.93 467.81 518.2 468.72 519.65C469.63 521.1 470.17 523.93 469.81 525.53C469.44 527.12 467.99 528.86 466.54 529.22C465.09 529.59 462.38 528.68 461.11 527.7C459.84 526.72 459.11 524.8 458.93 523.35C458.75 521.9 459.11 520.09 460.02 519Z" fill="#e8ac72" opacity="0.9"/>
<path d="M460.97 520.84C461.52 520.17 462.75 519.43 463.64 519.5C464.53 519.57 465.76 520.35 466.32 521.24C466.88 522.13 467.21 523.87 466.99 524.85C466.77 525.83 465.87 526.9 464.98 527.13C464.09 527.35 462.42 526.79 461.63 526.19C460.85 525.59 460.41 524.41 460.3 523.51C460.18 522.62 460.41 521.51 460.97 520.84Z" fill="#e09c60" opacity="0.7"/>
<ellipse cx="464.24" cy="524.32" rx="1.54" ry="1.13" fill="#f6d8a8" opacity="0.55"/>
<ellipse cx="466.11" cy="522.28" rx="1.15" ry="1.51" fill="#cc8848" opacity="0.55"/>
<ellipse cx="462.73" cy="521.61" rx="1.77" ry="1.29" fill="#f6d8a8" opacity="0.55"/>
<ellipse cx="465.52" cy="522.94" rx="1.38" ry="1.49" fill="#cc8848" opacity="0.55"/>
<path d="M487.94 517.84C488.41 517.14 490.05 516.41 491.21 516.09C492.37 515.76 493.62 515.67 494.91 515.89C496.2 516.11 497.57 517.08 498.97 517.41C500.36 517.73 502.17 517.38 503.28 517.84C504.38 518.3 505.12 519.24 505.59 520.17C506.05 521.1 506.28 522.47 506.07 523.42C505.86 524.37 505.02 525.17 504.33 525.86C503.63 526.56 502.85 527.53 501.88 527.6C500.91 527.67 499.68 526.54 498.52 526.3C497.35 526.07 495.97 526.54 494.91 526.21C493.85 525.88 493.09 524.93 492.16 524.33C491.24 523.72 489.97 523.26 489.33 522.58C488.7 521.91 488.61 521.08 488.37 520.29C488.14 519.5 487.47 518.54 487.94 517.84Z" fill="#eec088"/>
<path d="M489.73 518.67C490.45 517.8 493.17 517.15 495.17 517.15C497.16 517.15 500.24 517.69 501.69 518.67C503.14 519.65 504.05 521.75 503.87 523.02C503.69 524.29 502.05 525.92 500.6 526.28C499.15 526.65 496.8 525.85 495.17 525.2C493.53 524.54 491.72 523.46 490.82 522.37C489.91 521.28 489 519.54 489.73 518.67Z" fill="#e8ac72" opacity="0.9"/>
<path d="M492.06 520.52C492.51 519.99 494.18 519.58 495.41 519.58C496.63 519.58 498.53 519.92 499.42 520.52C500.31 521.12 500.87 522.42 500.76 523.2C500.65 523.98 499.65 524.98 498.75 525.21C497.86 525.43 496.41 524.94 495.41 524.54C494.4 524.13 493.29 523.47 492.73 522.8C492.17 522.13 491.61 521.06 492.06 520.52Z" fill="#e09c60" opacity="0.7"/>
<ellipse cx="498.71" cy="519.55" rx="1.4" ry="0.81" fill="#f6d8a8" opacity="0.55"/>
<ellipse cx="494.31" cy="520.95" rx="2.18" ry="1.37" fill="#cc8848" opacity="0.55"/>
<ellipse cx="498.08" cy="520.16" rx="1.27" ry="1.35" fill="#f6d8a8" opacity="0.55"/>
<ellipse cx="498.7" cy="522.37" rx="2.07" ry="1" fill="#cc8848" opacity="0.55"/>
<path d="M396.75 548.52C397.3 547.79 398.04 547.15 398.83 546.83C399.62 546.5 400.53 546.36 401.49 546.56C402.45 546.77 403.67 547.4 404.6 548.06C405.53 548.71 406.42 549.53 407.07 550.47C407.72 551.4 408.04 552.59 408.5 553.66C408.96 554.73 409.91 556.01 409.86 556.88C409.8 557.75 408.87 558.43 408.18 558.89C407.48 559.36 406.58 559.74 405.67 559.67C404.77 559.6 403.74 558.71 402.72 558.48C401.7 558.25 400.42 558.61 399.54 558.28C398.65 557.94 398.01 557.16 397.41 556.46C396.81 555.76 396.22 554.97 395.91 554.09C395.61 553.22 395.42 552.12 395.56 551.19C395.7 550.26 396.21 549.24 396.75 548.52Z" fill="#eec088"/>
<path d="M397.68 550.07C398.41 549.09 400.04 548.29 401.38 548.54C402.72 548.8 404.65 550.25 405.73 551.59C406.82 552.93 408.09 555.4 407.91 556.59C407.73 557.79 405.99 558.59 404.65 558.77C403.3 558.95 401.13 558.41 399.86 557.68C398.59 556.96 397.39 555.69 397.03 554.42C396.67 553.15 396.96 551.05 397.68 550.07Z" fill="#e8ac72" opacity="0.9"/>
<path d="M399.87 551.74C400.31 551.13 401.32 550.64 402.14 550.8C402.97 550.95 404.15 551.85 404.82 552.67C405.49 553.5 406.27 555.01 406.16 555.75C406.05 556.49 404.97 556.98 404.15 557.09C403.32 557.2 401.98 556.87 401.2 556.42C400.42 555.97 399.69 555.19 399.46 554.41C399.24 553.63 399.42 552.34 399.87 551.74Z" fill="#e09c60" opacity="0.7"/>
<ellipse cx="402.63" cy="550.71" rx="1.19" ry="1.49" fill="#f6d8a8" opacity="0.55"/>
<ellipse cx="400.05" cy="551.81" rx="1.66" ry="1.37" fill="#cc8848" opacity="0.55"/>
<ellipse cx="401.6" cy="553.08" rx="1.76" ry="1.25" fill="#f6d8a8" opacity="0.55"/>
<ellipse cx="400.01" cy="552.88" rx="0.99" ry="0.86" fill="#cc8848" opacity="0.55"/>
<path d="M426.59 550.47C426.86 549.81 428.17 549.01 429.1 548.69C430.03 548.36 430.96 548.44 432.17 548.52C433.37 548.59 434.93 549.01 436.33 549.15C437.72 549.29 439.34 549.07 440.53 549.35C441.73 549.64 442.88 550.06 443.48 550.85C444.09 551.64 444.38 553.15 444.16 554.09C443.94 555.04 442.55 555.61 442.17 556.53C441.8 557.46 441.64 558.74 441.93 559.67C442.21 560.61 443.65 561.22 443.88 562.15C444.11 563.08 443.56 564.45 443.32 565.25C443.08 566.04 442.88 566.69 442.42 566.93C441.95 567.16 441.24 567.13 440.53 566.64C439.82 566.16 438.61 565.05 438.15 564.02C437.68 563 438.31 561.34 437.74 560.51C437.18 559.67 435.68 559.61 434.75 559.01C433.82 558.4 433.04 557.19 432.17 556.88C431.29 556.58 430.18 557.5 429.48 557.17C428.79 556.85 428.32 555.69 427.98 554.93C427.65 554.18 427.7 553.39 427.46 552.64C427.23 551.9 426.32 551.13 426.59 550.47Z" fill="#eec088"/>
<path d="M428.73 552.28C429.27 551.45 431.27 550.91 433.08 550.76C434.89 550.62 438.04 550.69 439.6 551.41C441.16 552.14 442.25 553.77 442.43 555.11C442.61 556.45 440.8 558.01 440.69 559.46C440.58 560.91 441.96 562.91 441.78 563.81C441.6 564.72 440.33 565.52 439.6 564.9C438.88 564.28 438.52 561.38 437.43 560.11C436.34 558.85 434.35 558.01 433.08 557.29C431.81 556.56 430.54 556.6 429.82 555.76C429.09 554.93 428.18 553.12 428.73 552.28Z" fill="#e8ac72" opacity="0.9"/>
<path d="M431.87 554.19C432.2 553.68 433.43 553.35 434.54 553.26C435.66 553.17 437.6 553.21 438.56 553.66C439.52 554.1 440.19 555.11 440.3 555.93C440.41 556.76 439.3 557.72 439.23 558.61C439.16 559.5 440.01 560.73 439.9 561.29C439.79 561.85 439.01 562.34 438.56 561.96C438.11 561.58 437.89 559.79 437.22 559.01C436.55 558.23 435.32 557.72 434.54 557.27C433.76 556.83 432.98 556.85 432.54 556.33C432.09 555.82 431.53 554.71 431.87 554.19Z" fill="#e09c60" opacity="0.7"/>
<ellipse cx="435.71" cy="560.57" rx="1.72" ry="2.08" fill="#f6d8a8" opacity="0.55"/>
<ellipse cx="435" cy="559.64" rx="1.5" ry="2.13" fill="#cc8848" opacity="0.55"/>
<ellipse cx="436" cy="554.04" rx="2.4" ry="2.03" fill="#f6d8a8" opacity="0.55"/>
<ellipse cx="438.62" cy="557.17" rx="1.42" ry="1.3" fill="#cc8848" opacity="0.55"/>
<ellipse cx="436.02" cy="557.3" rx="2.02" ry="1.78" fill="#f6d8a8" opacity="0.55"/>
<path d="M460.05 549.35C460.58 548.78 462.09 548.78 463.02 548.31C463.95 547.85 464.62 546.46 465.63 546.56C466.64 546.67 467.94 548.17 469.1 548.96C470.26 549.75 471.63 550.48 472.6 551.31C473.58 552.13 474.25 552.98 474.95 553.9C475.64 554.83 476.71 555.95 476.78 556.88C476.86 557.82 476.11 558.92 475.41 559.52C474.71 560.12 473.76 560.51 472.6 560.51C471.44 560.51 469.85 559.79 468.45 559.51C467.06 559.23 465.41 559.26 464.24 558.83C463.06 558.41 462.18 557.73 461.39 556.94C460.6 556.15 459.75 554.96 459.5 554.09C459.24 553.23 459.74 552.52 459.84 551.73C459.93 550.94 459.52 549.92 460.05 549.35Z" fill="#eec088"/>
<path d="M461.44 550.74C462.24 549.76 464.16 548.31 465.79 548.56C467.42 548.81 469.78 550.92 471.23 552.26C472.68 553.6 474.49 555.41 474.49 556.61C474.49 557.8 472.86 559.18 471.23 559.44C469.6 559.69 466.41 558.96 464.7 558.13C463 557.3 461.55 555.67 461.01 554.43C460.46 553.2 460.64 551.71 461.44 550.74Z" fill="#e8ac72" opacity="0.9"/>
<path d="M463.58 552.16C464.07 551.56 465.25 550.67 466.25 550.82C467.26 550.98 468.71 552.27 469.6 553.1C470.49 553.93 471.61 555.04 471.61 555.78C471.61 556.51 470.6 557.36 469.6 557.52C468.6 557.67 466.63 557.23 465.59 556.71C464.54 556.2 463.64 555.2 463.31 554.44C462.97 553.68 463.09 552.77 463.58 552.16Z" fill="#e09c60" opacity="0.7"/>
<ellipse cx="467.31" cy="557.15" rx="1.9" ry="1.24" fill="#f6d8a8" opacity="0.55"/>
<ellipse cx="468.85" cy="553.49" rx="1.55" ry="1.09" fill="#cc8848" opacity="0.55"/>
<ellipse cx="468.63" cy="555.27" rx="1.6" ry="0.91" fill="#f6d8a8" opacity="0.55"/>
<ellipse cx="466.19" cy="555.38" rx="2.41" ry="1.56" fill="#cc8848" opacity="0.55"/>
<ellipse cx="467.46" cy="557.07" rx="1.79" ry="0.88" fill="#f6d8a8" opacity="0.55"/>
<path d="M495.47 544.33C496.03 543.58 496.96 543.08 497.8 542.62C498.64 542.15 499.42 541.52 500.49 541.54C501.55 541.57 503.03 542.21 504.19 542.77C505.35 543.33 506.69 544.06 507.46 544.89C508.23 545.72 508.2 546.9 508.81 547.74C509.41 548.57 511.03 549.22 511.08 549.91C511.14 550.6 509.72 551.17 509.11 551.86C508.51 552.56 508.32 553.6 507.46 554.09C506.6 554.58 505.14 554.8 503.97 554.8C502.81 554.8 501.56 554.48 500.49 554.09C499.42 553.71 498.4 553.19 497.57 552.5C496.73 551.8 495.99 550.81 495.47 549.91C494.95 549.02 494.46 548.05 494.46 547.12C494.46 546.19 494.91 545.08 495.47 544.33Z" fill="#eec088"/>
<path d="M496.88 545.46C497.54 544.37 499.24 543.21 500.8 543.28C502.36 543.35 504.86 544.8 506.24 545.89C507.61 546.98 509.06 548.61 509.06 549.81C509.06 551 507.61 552.52 506.24 553.07C504.86 553.61 502.36 553.61 500.8 553.07C499.24 552.52 497.54 551.07 496.88 549.81C496.23 548.54 496.23 546.54 496.88 545.46Z" fill="#e8ac72" opacity="0.9"/>
<path d="M499.68 547.2C500.08 546.53 501.13 545.82 502.09 545.86C503.04 545.91 504.58 546.8 505.43 547.47C506.28 548.14 507.17 549.14 507.17 549.88C507.17 550.62 506.28 551.55 505.43 551.89C504.58 552.22 503.04 552.22 502.09 551.89C501.13 551.55 500.08 550.66 499.68 549.88C499.27 549.1 499.27 547.87 499.68 547.2Z" fill="#e09c60" opacity="0.7"/>
<ellipse cx="502.16" cy="547.46" rx="1.47" ry="1.42" fill="#f6d8a8" opacity="0.55"/>
<ellipse cx="504.23" cy="548.38" rx="1.27" ry="1.21" fill="#cc8848" opacity="0.55"/>
<ellipse cx="501.99" cy="549.83" rx="1.58" ry="1.41" fill="#f6d8a8" opacity="0.55"/>
<ellipse cx="506.41" cy="548.96" rx="1.82" ry="1.33" fill="#cc8848" opacity="0.55"/>
</g>
<text x="1" y="616.9" font-size="13.6" font-weight="700" stroke="#000" stroke-width="0.43">M</text>
<text x="147.3" y="616.4" font-size="11" text-anchor="middle" font-weight="700" stroke="#000" stroke-width="0.36">Kaplan–Meier survival plot</text>
<text x="35.6" y="684" font-size="9.4" text-anchor="middle" font-weight="700" stroke="#000" stroke-width="0.31" transform="rotate(-90 35.6 684)">Probability of survival (%)</text>
<text x="147.1" y="768.2" font-size="9.2" text-anchor="middle" font-weight="700" stroke="#000" stroke-width="0.31">Time</text>
<line x1="58.7" y1="623.7" x2="58.7" y2="743.7" stroke="#000" stroke-width="1"/>
<line x1="58.2" y1="743.2" x2="238.5" y2="743.2" stroke="#000" stroke-width="1"/>
<line x1="56.1" y1="634.5" x2="58.7" y2="634.5" stroke="#000" stroke-width="0.9"/>
<text x="55.3" y="637.5" font-size="8.2" text-anchor="end" stroke="#222" stroke-width="0.12" fill="#222">100</text>
<line x1="56.1" y1="688.85" x2="58.7" y2="688.85" stroke="#000" stroke-width="0.9"/>
<text x="55.3" y="691.85" font-size="8.2" text-anchor="end" stroke="#222" stroke-width="0.12" fill="#222">50</text>
<line x1="56.1" y1="743.2" x2="58.7" y2="743.2" stroke="#000" stroke-width="0.9"/>
<text x="55.3" y="749.6" font-size="8.2" text-anchor="end" stroke="#222" stroke-width="0.12" fill="#222">0</text>
<line x1="57" y1="732.33" x2="58.7" y2="732.33" stroke="#000" stroke-width="0.85"/>
<line x1="57" y1="721.46" x2="58.7" y2="721.46" stroke="#000" stroke-width="0.85"/>
<line x1="57" y1="710.59" x2="58.7" y2="710.59" stroke="#000" stroke-width="0.85"/>
<line x1="57" y1="699.72" x2="58.7" y2="699.72" stroke="#000" stroke-width="0.85"/>
<line x1="57" y1="677.98" x2="58.7" y2="677.98" stroke="#000" stroke-width="0.85"/>
<line x1="57" y1="667.11" x2="58.7" y2="667.11" stroke="#000" stroke-width="0.85"/>
<line x1="57" y1="656.24" x2="58.7" y2="656.24" stroke="#000" stroke-width="0.85"/>
<line x1="57" y1="645.37" x2="58.7" y2="645.37" stroke="#000" stroke-width="0.85"/>
<line x1="58.7" y1="743.2" x2="58.7" y2="746" stroke="#000" stroke-width="0.9"/>
<text x="58.7" y="754.8" font-size="8.2" text-anchor="middle" stroke="#222" stroke-width="0.12" fill="#222">0</text>
<line x1="63.83" y1="743.2" x2="63.83" y2="744.9" stroke="#000" stroke-width="0.85"/>
<line x1="68.95" y1="743.2" x2="68.95" y2="744.9" stroke="#000" stroke-width="0.85"/>
<line x1="74.08" y1="743.2" x2="74.08" y2="744.9" stroke="#000" stroke-width="0.85"/>
<line x1="79.2" y1="743.2" x2="79.2" y2="744.9" stroke="#000" stroke-width="0.85"/>
<line x1="84.33" y1="743.2" x2="84.33" y2="744.9" stroke="#000" stroke-width="0.85"/>
<line x1="89.46" y1="743.2" x2="89.46" y2="744.9" stroke="#000" stroke-width="0.85"/>
<line x1="94.58" y1="743.2" x2="94.58" y2="744.9" stroke="#000" stroke-width="0.85"/>
<line x1="99.71" y1="743.2" x2="99.71" y2="744.9" stroke="#000" stroke-width="0.85"/>
<line x1="104.83" y1="743.2" x2="104.83" y2="744.9" stroke="#000" stroke-width="0.85"/>
<line x1="109.96" y1="743.2" x2="109.96" y2="746" stroke="#000" stroke-width="0.9"/>
<text x="109.96" y="754.8" font-size="8.2" text-anchor="middle" stroke="#222" stroke-width="0.12" fill="#222">20</text>
<line x1="115.09" y1="743.2" x2="115.09" y2="744.9" stroke="#000" stroke-width="0.85"/>
<line x1="120.21" y1="743.2" x2="120.21" y2="744.9" stroke="#000" stroke-width="0.85"/>
<line x1="125.34" y1="743.2" x2="125.34" y2="744.9" stroke="#000" stroke-width="0.85"/>
<line x1="130.46" y1="743.2" x2="130.46" y2="744.9" stroke="#000" stroke-width="0.85"/>
<line x1="135.59" y1="743.2" x2="135.59" y2="744.9" stroke="#000" stroke-width="0.85"/>
<line x1="140.72" y1="743.2" x2="140.72" y2="744.9" stroke="#000" stroke-width="0.85"/>
<line x1="145.84" y1="743.2" x2="145.84" y2="744.9" stroke="#000" stroke-width="0.85"/>
<line x1="150.97" y1="743.2" x2="150.97" y2="744.9" stroke="#000" stroke-width="0.85"/>
<line x1="156.09" y1="743.2" x2="156.09" y2="744.9" stroke="#000" stroke-width="0.85"/>
<line x1="161.22" y1="743.2" x2="161.22" y2="746" stroke="#000" stroke-width="0.9"/>
<text x="161.22" y="754.8" font-size="8.2" text-anchor="middle" stroke="#222" stroke-width="0.12" fill="#222">40</text>
<line x1="166.35" y1="743.2" x2="166.35" y2="744.9" stroke="#000" stroke-width="0.85"/>
<line x1="171.47" y1="743.2" x2="171.47" y2="744.9" stroke="#000" stroke-width="0.85"/>
<line x1="176.6" y1="743.2" x2="176.6" y2="744.9" stroke="#000" stroke-width="0.85"/>
<line x1="181.72" y1="743.2" x2="181.72" y2="744.9" stroke="#000" stroke-width="0.85"/>
<line x1="186.85" y1="743.2" x2="186.85" y2="744.9" stroke="#000" stroke-width="0.85"/>
<line x1="191.98" y1="743.2" x2="191.98" y2="744.9" stroke="#000" stroke-width="0.85"/>
<line x1="197.1" y1="743.2" x2="197.1" y2="744.9" stroke="#000" stroke-width="0.85"/>
<line x1="202.23" y1="743.2" x2="202.23" y2="744.9" stroke="#000" stroke-width="0.85"/>
<line x1="207.35" y1="743.2" x2="207.35" y2="744.9" stroke="#000" stroke-width="0.85"/>
<line x1="212.48" y1="743.2" x2="212.48" y2="746" stroke="#000" stroke-width="0.9"/>
<text x="212.48" y="754.8" font-size="8.2" text-anchor="middle" stroke="#222" stroke-width="0.12" fill="#222">60</text>
<line x1="217.61" y1="743.2" x2="217.61" y2="744.9" stroke="#000" stroke-width="0.85"/>
<line x1="222.73" y1="743.2" x2="222.73" y2="744.9" stroke="#000" stroke-width="0.85"/>
<line x1="227.86" y1="743.2" x2="227.86" y2="744.9" stroke="#000" stroke-width="0.85"/>
<line x1="232.98" y1="743.2" x2="232.98" y2="744.9" stroke="#000" stroke-width="0.85"/>
<line x1="238.11" y1="743.2" x2="238.11" y2="744.9" stroke="#000" stroke-width="0.85"/>
<path d="M58.7 634.5H117.2V643.2H130.9V652.3H148.4V682.1H156.2V702.9H158.7V713.3H194.2V723.3H207.7V733.3H219.8V743.2" fill="none" stroke="#3a0c7d" stroke-width="1.6" stroke-linejoin="miter"/>
<rect x="115" y="641" width="4.4" height="4.4" fill="#3a0c7d"/>
<rect x="128.7" y="650.1" width="4.4" height="4.4" fill="#3a0c7d"/>
<rect x="146.2" y="679.9" width="4.4" height="4.4" fill="#3a0c7d"/>
<rect x="154" y="700.7" width="4.4" height="4.4" fill="#3a0c7d"/>
<rect x="156.5" y="711.1" width="4.4" height="4.4" fill="#3a0c7d"/>
<rect x="192" y="721.1" width="4.4" height="4.4" fill="#3a0c7d"/>
<rect x="205.5" y="731.1" width="4.4" height="4.4" fill="#3a0c7d"/>
<rect x="217.6" y="741" width="4.4" height="4.4" fill="#3a0c7d"/>
<line x1="135.4" y1="645" x2="135.4" y2="652.3" stroke="#3a0c7d" stroke-width="0.8"/>
<line x1="134.2" y1="646.6" x2="136.6" y2="646.6" stroke="#3a0c7d" stroke-width="0.8"/>
<path d="M58.7 634.5H93.8V643.2H117.2V661.3H130.7V680H135.4V697.7H151V715.9H153.6V724.5H156.2V734.4H158.2V743.2" fill="none" stroke="#1c8a85" stroke-width="1.6" stroke-linejoin="miter"/>
<rect x="91.6" y="641" width="4.4" height="4.4" fill="#1c8a85"/>
<rect x="115" y="659.1" width="4.4" height="4.4" fill="#1c8a85"/>
<rect x="128.5" y="677.8" width="4.4" height="4.4" fill="#1c8a85"/>
<rect x="133.2" y="695.5" width="4.4" height="4.4" fill="#1c8a85"/>
<rect x="148.8" y="713.7" width="4.4" height="4.4" fill="#1c8a85"/>
<rect x="151.4" y="722.3" width="4.4" height="4.4" fill="#1c8a85"/>
<rect x="154" y="732.2" width="4.4" height="4.4" fill="#1c8a85"/>
<rect x="156" y="741" width="4.4" height="4.4" fill="#1c8a85"/>
<path d="M58.7 634.5H94.7V670.9H96.8V689H105.1V697.7H112.4V706.3H117.2V725.4H130.7V743.2" fill="none" stroke="#ec1163" stroke-width="1.6" stroke-linejoin="miter"/>
<rect x="92.5" y="668.7" width="4.4" height="4.4" fill="#ec1163"/>
<rect x="94.6" y="686.8" width="4.4" height="4.4" fill="#ec1163"/>
<rect x="102.9" y="695.5" width="4.4" height="4.4" fill="#ec1163"/>
<rect x="110.2" y="704.1" width="4.4" height="4.4" fill="#ec1163"/>
<rect x="115" y="723.2" width="4.4" height="4.4" fill="#ec1163"/>
<rect x="128.5" y="741" width="4.4" height="4.4" fill="#ec1163"/>
<path d="M58.7 634.5H89.5V651.3H94.7V668.3H99.9V675.7H112V718.5H117.2V725.4H135.4V743.2" fill="none" stroke="#000" stroke-width="1.6" stroke-linejoin="miter"/>
<rect x="87.3" y="649.1" width="4.4" height="4.4" fill="#000"/>
<rect x="92.5" y="666.1" width="4.4" height="4.4" fill="#000"/>
<rect x="97.7" y="673.5" width="4.4" height="4.4" fill="#000"/>
<rect x="109.8" y="716.3" width="4.4" height="4.4" fill="#000"/>
<rect x="115" y="723.2" width="4.4" height="4.4" fill="#000"/>
<rect x="133.2" y="741" width="4.4" height="4.4" fill="#000"/>
<line x1="187.8" y1="633.8" x2="196.6" y2="633.8" stroke="#000" stroke-width="1.7"/>
<rect x="189.8" y="631.4" width="4.8" height="4.8" fill="#000" rx="0.8"/>
<text x="201" y="637.2" font-size="9.5" stroke="#000" stroke-width="0.12">Control</text>
<line x1="187.8" y1="647.9" x2="196.6" y2="647.9" stroke="#ec1163" stroke-width="1.7"/>
<rect x="189.8" y="645.5" width="4.8" height="4.8" fill="#ec1163" rx="0.8"/>
<text x="201" y="651.3" font-size="9.5" stroke="#000" stroke-width="0.12">Afatinib</text>
<line x1="187.8" y1="662.6" x2="196.6" y2="662.6" stroke="#1c8a85" stroke-width="1.7"/>
<rect x="189.8" y="660.2" width="4.8" height="4.8" fill="#1c8a85" rx="0.8"/>
<text x="201" y="666" font-size="9.5" stroke="#000" stroke-width="0.12">MRTX1133</text>
<line x1="187.8" y1="676.4" x2="196.6" y2="676.4" stroke="#3a0c7d" stroke-width="1.7"/>
<rect x="189.8" y="674" width="4.8" height="4.8" fill="#3a0c7d" rx="0.8"/>
<text x="201" y="679.8" font-size="9.5" stroke="#000" stroke-width="0.12">Combo</text>
<path d="M253.2 633.3H259.4V660.8H253.2" fill="none" stroke="#000" stroke-width="1.2"/>
<path d="M266.7 633.3H272.4V676.9H266.7" fill="none" stroke="#000" stroke-width="1.2"/>
<path d="M287.7 660.8H293.1V676.9H287.7" fill="none" stroke="#000" stroke-width="1.2"/>
<text x="260.6" y="650.6" font-size="8" font-weight="700" stroke="#000" stroke-width="0.27">**</text>
<text x="274" y="657.8" font-size="8" font-weight="700" stroke="#000" stroke-width="0.27">***</text>
<text x="294.8" y="671" font-size="8" font-weight="700" stroke="#000" stroke-width="0.27">*</text>
</svg>
</body>
</html>
